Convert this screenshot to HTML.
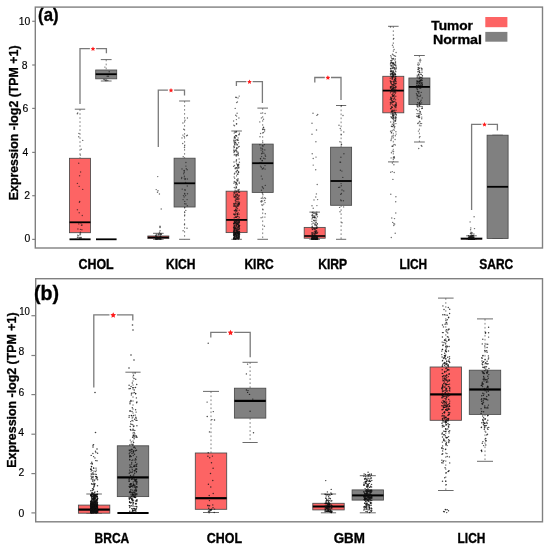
<!DOCTYPE html>
<html><head><meta charset="utf-8"><style>
html,body{margin:0;padding:0;background:#fff;width:549px;height:550px;overflow:hidden}
svg{display:block;will-change:transform}
text{font-family:"Liberation Sans",sans-serif}
</style></head><body>
<svg width="549" height="550" viewBox="0 0 549 550">
<rect width="549" height="550" fill="#fff"/>
<rect x="35.3" y="7.1" width="507.2" height="240.9" fill="none" stroke="#808080" stroke-width="1.4"/>
<line x1="32.2" y1="239.4" x2="35.3" y2="239.4" stroke="#808080" stroke-width="1.2"/>
<line x1="32.2" y1="195.7" x2="35.3" y2="195.7" stroke="#808080" stroke-width="1.2"/>
<line x1="32.2" y1="152.4" x2="35.3" y2="152.4" stroke="#808080" stroke-width="1.2"/>
<line x1="32.2" y1="108.4" x2="35.3" y2="108.4" stroke="#808080" stroke-width="1.2"/>
<line x1="32.2" y1="65.0" x2="35.3" y2="65.0" stroke="#808080" stroke-width="1.2"/>
<line x1="32.2" y1="21.3" x2="35.3" y2="21.3" stroke="#808080" stroke-width="1.2"/>
<text x="30.3" y="242.3" font-size="10.4" text-anchor="end" fill="#000" stroke="#000" stroke-width="0.15">0</text>
<text x="30.0" y="198.5" font-size="10.4" text-anchor="end" fill="#000" stroke="#000" stroke-width="0.15">2</text>
<text x="28.2" y="155.6" font-size="10.4" text-anchor="end" fill="#000" stroke="#000" stroke-width="0.15">4</text>
<text x="28.2" y="111.5" font-size="10.4" text-anchor="end" fill="#000" stroke="#000" stroke-width="0.15">6</text>
<text x="27.5" y="68.5" font-size="10.4" text-anchor="end" fill="#000" stroke="#000" stroke-width="0.15">8</text>
<text x="30.3" y="24.6" font-size="10.4" text-anchor="end" fill="#000" stroke="#000" stroke-width="0.15">10</text>
<text transform="translate(18.3,200.2) rotate(-90)" font-size="13.5" font-weight="bold" textLength="154.7" lengthAdjust="spacingAndGlyphs" stroke="#000" stroke-width="0.3">Expression -log2 (TPM +1)</text>
<text x="38.1" y="20.9" font-size="18.2" font-weight="bold" textLength="20.5" lengthAdjust="spacingAndGlyphs" stroke="#000" stroke-width="0.35" >(a)</text>
<polyline points="80,104 80,48.6 89.9,48.6" fill="none" stroke="#7a7a7a" stroke-width="1.3"/>
<polyline points="96.1,48.6 106.4,48.6 106.4,53.3" fill="none" stroke="#7a7a7a" stroke-width="1.3"/>
<polygon points="93.00,46.40 93.70,47.94 95.38,48.13 94.13,49.27 94.47,50.92 93.00,50.09 91.53,50.92 91.87,49.27 90.62,48.13 92.30,47.94" fill="#ff1a1a"/>
<polyline points="158.3,147 158.3,90.1 167.9,90.1" fill="none" stroke="#7a7a7a" stroke-width="1.3"/>
<polyline points="174.1,90.1 184.5,90.1 184.5,95.5" fill="none" stroke="#7a7a7a" stroke-width="1.3"/>
<polygon points="171.00,87.90 171.70,89.44 173.38,89.63 172.13,90.77 172.47,92.42 171.00,91.59 169.53,92.42 169.87,90.77 168.62,89.63 170.30,89.44" fill="#ff1a1a"/>
<polyline points="236.4,86 236.4,81.6 246.4,81.6" fill="none" stroke="#7a7a7a" stroke-width="1.3"/>
<polyline points="252.6,81.6 262.4,81.6 262.4,103" fill="none" stroke="#7a7a7a" stroke-width="1.3"/>
<polygon points="249.50,79.40 250.20,80.94 251.88,81.13 250.63,82.27 250.97,83.92 249.50,83.09 248.03,83.92 248.37,82.27 247.12,81.13 248.80,80.94" fill="#ff1a1a"/>
<polyline points="314.8,82.6 314.8,77.5 324.79999999999995,77.5" fill="none" stroke="#7a7a7a" stroke-width="1.3"/>
<polyline points="331.0,77.5 341,77.5 341,100" fill="none" stroke="#7a7a7a" stroke-width="1.3"/>
<polygon points="327.90,75.30 328.60,76.84 330.28,77.03 329.03,78.17 329.37,79.82 327.90,78.99 326.43,79.82 326.77,78.17 325.52,77.03 327.20,76.84" fill="#ff1a1a"/>
<polyline points="471.6,210 471.6,124.3 481.4,124.3" fill="none" stroke="#7a7a7a" stroke-width="1.3"/>
<polyline points="487.6,124.3 497.4,124.3 497.4,130.4" fill="none" stroke="#7a7a7a" stroke-width="1.3"/>
<polygon points="484.50,122.10 485.20,123.64 486.88,123.83 485.63,124.97 485.97,126.62 484.50,125.79 483.03,126.62 483.37,124.97 482.12,123.83 483.80,123.64" fill="#ff1a1a"/>
<line x1="80" y1="109.2" x2="80" y2="158.3" stroke="#777" stroke-width="0.9" stroke-dasharray="1.7,2.3"/>
<line x1="80" y1="232.7" x2="80" y2="239.3" stroke="#777" stroke-width="0.9" stroke-dasharray="1.7,2.3"/>
<line x1="74.8" y1="109.2" x2="85.2" y2="109.2" stroke="#505050" stroke-width="0.85"/>
<line x1="74.8" y1="239.3" x2="85.2" y2="239.3" stroke="#505050" stroke-width="0.85"/>
<rect x="69.5" y="158.3" width="21.0" height="74.39999999999998" fill="#fd6464" stroke="#4a4a4a" stroke-width="0.85"/>
<line x1="69.5" y1="222.3" x2="90.5" y2="222.3" stroke="#000" stroke-width="1.8"/>
<line x1="69.5" y1="239.3" x2="90.6" y2="239.3" stroke="#000" stroke-width="1.8"/>
<line x1="106.2" y1="59.6" x2="106.2" y2="70" stroke="#777" stroke-width="0.9" stroke-dasharray="1.7,2.3"/>
<line x1="106.2" y1="78.8" x2="106.2" y2="81" stroke="#777" stroke-width="0.9" stroke-dasharray="1.7,2.3"/>
<line x1="100.8" y1="59.6" x2="111.60000000000001" y2="59.6" stroke="#505050" stroke-width="0.85"/>
<line x1="100.8" y1="81" x2="111.60000000000001" y2="81" stroke="#505050" stroke-width="0.85"/>
<rect x="95.7" y="70" width="21.0" height="8.799999999999997" fill="#808080" stroke="#4a4a4a" stroke-width="0.85"/>
<line x1="95.7" y1="74.2" x2="116.7" y2="74.2" stroke="#000" stroke-width="1.8"/>
<line x1="96" y1="239.3" x2="116.6" y2="239.3" stroke="#000" stroke-width="1.8"/>
<line x1="158.35" y1="233.3" x2="158.35" y2="236.0" stroke="#777" stroke-width="0.9" stroke-dasharray="1.7,2.3"/>
<line x1="158.35" y1="238.6" x2="158.35" y2="239.3" stroke="#777" stroke-width="0.9" stroke-dasharray="1.7,2.3"/>
<line x1="153.04999999999998" y1="233.3" x2="163.65" y2="233.3" stroke="#505050" stroke-width="0.85"/>
<line x1="153.04999999999998" y1="239.3" x2="163.65" y2="239.3" stroke="#505050" stroke-width="0.85"/>
<rect x="147.85" y="236.0" width="21.0" height="2.5999999999999943" fill="#fd6464" stroke="#4a4a4a" stroke-width="0.85"/>
<line x1="147.85" y1="237.4" x2="168.85" y2="237.4" stroke="#000" stroke-width="1.6"/>
<line x1="184.6" y1="101" x2="184.6" y2="158.2" stroke="#777" stroke-width="0.9" stroke-dasharray="1.7,2.3"/>
<line x1="184.6" y1="207" x2="184.6" y2="239.3" stroke="#777" stroke-width="0.9" stroke-dasharray="1.7,2.3"/>
<line x1="179.1" y1="101" x2="190.1" y2="101" stroke="#505050" stroke-width="0.85"/>
<line x1="179.1" y1="239.3" x2="190.1" y2="239.3" stroke="#505050" stroke-width="0.85"/>
<rect x="174.1" y="158.2" width="21.0" height="48.80000000000001" fill="#808080" stroke="#4a4a4a" stroke-width="0.85"/>
<line x1="174.1" y1="183.3" x2="195.1" y2="183.3" stroke="#000" stroke-width="1.8"/>
<line x1="236.6" y1="131" x2="236.6" y2="191.2" stroke="#777" stroke-width="0.9" stroke-dasharray="1.7,2.3"/>
<line x1="236.6" y1="232.6" x2="236.6" y2="239.3" stroke="#777" stroke-width="0.9" stroke-dasharray="1.7,2.3"/>
<line x1="231.29999999999998" y1="131" x2="241.9" y2="131" stroke="#505050" stroke-width="0.85"/>
<line x1="231.29999999999998" y1="239.3" x2="241.9" y2="239.3" stroke="#505050" stroke-width="0.85"/>
<rect x="226.1" y="191.2" width="21.0" height="41.400000000000006" fill="#fd6464" stroke="#4a4a4a" stroke-width="0.85"/>
<line x1="226.1" y1="219.9" x2="247.1" y2="219.9" stroke="#000" stroke-width="1.8"/>
<line x1="262.7" y1="108.1" x2="262.7" y2="144.1" stroke="#777" stroke-width="0.9" stroke-dasharray="1.7,2.3"/>
<line x1="262.7" y1="192.4" x2="262.7" y2="239.3" stroke="#777" stroke-width="0.9" stroke-dasharray="1.7,2.3"/>
<line x1="257.4" y1="108.1" x2="268.0" y2="108.1" stroke="#505050" stroke-width="0.85"/>
<line x1="257.4" y1="239.3" x2="268.0" y2="239.3" stroke="#505050" stroke-width="0.85"/>
<rect x="252.2" y="144.1" width="21.0" height="48.30000000000001" fill="#808080" stroke="#4a4a4a" stroke-width="0.85"/>
<line x1="252.2" y1="163.2" x2="273.2" y2="163.2" stroke="#000" stroke-width="1.8"/>
<line x1="314.7" y1="212.1" x2="314.7" y2="227.4" stroke="#777" stroke-width="0.9" stroke-dasharray="1.7,2.3"/>
<line x1="314.7" y1="238.2" x2="314.7" y2="239.3" stroke="#777" stroke-width="0.9" stroke-dasharray="1.7,2.3"/>
<line x1="309.4" y1="212.1" x2="320.0" y2="212.1" stroke="#505050" stroke-width="0.85"/>
<line x1="309.4" y1="239.3" x2="320.0" y2="239.3" stroke="#505050" stroke-width="0.85"/>
<rect x="304.2" y="227.4" width="21.0" height="10.799999999999983" fill="#fd6464" stroke="#4a4a4a" stroke-width="0.85"/>
<line x1="304.2" y1="236.0" x2="325.2" y2="236.0" stroke="#000" stroke-width="1.6"/>
<line x1="341.1" y1="105.5" x2="341.1" y2="147.2" stroke="#777" stroke-width="0.9" stroke-dasharray="1.7,2.3"/>
<line x1="341.1" y1="205.3" x2="341.1" y2="239.3" stroke="#777" stroke-width="0.9" stroke-dasharray="1.7,2.3"/>
<line x1="336.0" y1="105.5" x2="346.20000000000005" y2="105.5" stroke="#505050" stroke-width="0.85"/>
<line x1="336.0" y1="239.3" x2="346.20000000000005" y2="239.3" stroke="#505050" stroke-width="0.85"/>
<rect x="330.6" y="147.2" width="21.0" height="58.10000000000002" fill="#808080" stroke="#4a4a4a" stroke-width="0.85"/>
<line x1="330.6" y1="181.0" x2="351.6" y2="181.0" stroke="#000" stroke-width="1.8"/>
<line x1="393.3" y1="26.3" x2="393.3" y2="76.3" stroke="#777" stroke-width="0.9" stroke-dasharray="1.7,2.3"/>
<line x1="393.3" y1="112.8" x2="393.3" y2="161.9" stroke="#777" stroke-width="0.9" stroke-dasharray="1.7,2.3"/>
<line x1="388.0" y1="26.3" x2="398.6" y2="26.3" stroke="#505050" stroke-width="0.85"/>
<line x1="388.0" y1="161.9" x2="398.6" y2="161.9" stroke="#505050" stroke-width="0.85"/>
<rect x="382.8" y="76.3" width="21.0" height="36.5" fill="#fd6464" stroke="#4a4a4a" stroke-width="0.85"/>
<line x1="382.8" y1="90.6" x2="403.8" y2="90.6" stroke="#000" stroke-width="1.8"/>
<line x1="419.4" y1="55.5" x2="419.4" y2="78.0" stroke="#777" stroke-width="0.9" stroke-dasharray="1.7,2.3"/>
<line x1="419.4" y1="104.6" x2="419.4" y2="142.0" stroke="#777" stroke-width="0.9" stroke-dasharray="1.7,2.3"/>
<line x1="414.0" y1="55.5" x2="424.79999999999995" y2="55.5" stroke="#505050" stroke-width="0.85"/>
<line x1="414.0" y1="142.0" x2="424.79999999999995" y2="142.0" stroke="#505050" stroke-width="0.85"/>
<rect x="408.9" y="78.0" width="21.0" height="26.599999999999994" fill="#808080" stroke="#4a4a4a" stroke-width="0.85"/>
<line x1="408.9" y1="86.9" x2="429.9" y2="86.9" stroke="#000" stroke-width="1.8"/>
<line x1="471.5" y1="235.8" x2="471.5" y2="238.0" stroke="#777" stroke-width="0.9" stroke-dasharray="1.7,2.3"/>
<line x1="471.5" y1="239.2" x2="471.5" y2="239.3" stroke="#777" stroke-width="0.9" stroke-dasharray="1.7,2.3"/>
<line x1="466.2" y1="235.8" x2="476.8" y2="235.8" stroke="#505050" stroke-width="0.85"/>
<line x1="466.2" y1="239.3" x2="476.8" y2="239.3" stroke="#505050" stroke-width="0.85"/>
<rect x="461.0" y="238.0" width="21.0" height="1.1999999999999886" fill="#fd6464" stroke="#4a4a4a" stroke-width="0.85"/>
<line x1="461.0" y1="238.7" x2="482.0" y2="238.7" stroke="#000" stroke-width="1.5"/>
<line x1="497.6" y1="135.2" x2="497.6" y2="135.2" stroke="#777" stroke-width="0.9" stroke-dasharray="1.7,2.3"/>
<line x1="497.6" y1="238.5" x2="497.6" y2="238.5" stroke="#777" stroke-width="0.9" stroke-dasharray="1.7,2.3"/>
<line x1="492.3" y1="135.2" x2="502.90000000000003" y2="135.2" stroke="#505050" stroke-width="0.85"/>
<line x1="492.3" y1="238.5" x2="502.90000000000003" y2="238.5" stroke="#505050" stroke-width="0.85"/>
<rect x="487.1" y="135.2" width="21.0" height="103.30000000000001" fill="#808080" stroke="#4a4a4a" stroke-width="0.85"/>
<line x1="487.1" y1="186.8" x2="508.1" y2="186.8" stroke="#000" stroke-width="1.8"/>
<g fill="#111" fill-opacity="0.62">
<circle cx="77.9" cy="229.0" r="0.72"/>
<circle cx="77.4" cy="183.4" r="0.72"/>
<circle cx="79.2" cy="212.8" r="0.72"/>
<circle cx="80.0" cy="237.6" r="0.72"/>
<circle cx="79.6" cy="238.2" r="0.72"/>
<circle cx="77.5" cy="237.3" r="0.72"/>
<circle cx="82.0" cy="225.0" r="0.72"/>
<circle cx="78.3" cy="235.7" r="0.72"/>
<circle cx="82.7" cy="189.4" r="0.72"/>
<circle cx="79.4" cy="202.3" r="0.72"/>
<circle cx="77.3" cy="113.7" r="0.72"/>
<circle cx="78.7" cy="136.7" r="0.72"/>
<circle cx="77.7" cy="235.1" r="0.72"/>
<circle cx="81.9" cy="229.7" r="0.72"/>
<circle cx="80.5" cy="234.0" r="0.72"/>
<circle cx="79.2" cy="186.4" r="0.72"/>
<circle cx="77.4" cy="209.8" r="0.72"/>
<circle cx="78.2" cy="237.6" r="0.72"/>
<circle cx="79.6" cy="175.8" r="0.72"/>
<circle cx="80.5" cy="229.4" r="0.72"/>
<circle cx="78.8" cy="223.9" r="0.72"/>
<circle cx="81.2" cy="149.3" r="0.72"/>
<circle cx="80.4" cy="232.2" r="0.72"/>
<circle cx="82.3" cy="215.5" r="0.72"/>
<circle cx="78.7" cy="163.3" r="0.72"/>
<circle cx="77.7" cy="112.9" r="0.72"/>
<circle cx="81.5" cy="225.3" r="0.72"/>
<circle cx="79.9" cy="234.9" r="0.72"/>
<circle cx="81.0" cy="238.2" r="0.72"/>
<circle cx="80.4" cy="155.1" r="0.72"/>
<circle cx="78.9" cy="133.4" r="0.72"/>
<circle cx="80.6" cy="172.0" r="0.72"/>
<circle cx="79.7" cy="201.5" r="0.72"/>
<circle cx="82.7" cy="140.4" r="0.72"/>
<circle cx="81.0" cy="223.0" r="0.72"/>
<circle cx="81.2" cy="237.5" r="0.72"/>
<circle cx="109.2" cy="71.7" r="0.72"/>
<circle cx="104.9" cy="67.1" r="0.72"/>
<circle cx="107.2" cy="76.3" r="0.72"/>
<circle cx="106.0" cy="80.8" r="0.72"/>
<circle cx="103.9" cy="79.5" r="0.72"/>
<circle cx="107.8" cy="80.5" r="0.72"/>
<circle cx="104.7" cy="79.9" r="0.72"/>
<circle cx="108.4" cy="76.2" r="0.72"/>
<circle cx="105.9" cy="80.3" r="0.72"/>
<circle cx="160.6" cy="237.0" r="0.72"/>
<circle cx="160.5" cy="234.3" r="0.72"/>
<circle cx="157.8" cy="238.3" r="0.72"/>
<circle cx="160.6" cy="238.0" r="0.72"/>
<circle cx="156.2" cy="189.6" r="0.72"/>
<circle cx="156.7" cy="238.7" r="0.72"/>
<circle cx="158.2" cy="238.5" r="0.72"/>
<circle cx="156.9" cy="236.6" r="0.72"/>
<circle cx="157.8" cy="239.3" r="0.72"/>
<circle cx="158.7" cy="238.0" r="0.72"/>
<circle cx="159.4" cy="194.0" r="0.72"/>
<circle cx="159.0" cy="237.3" r="0.72"/>
<circle cx="155.6" cy="235.7" r="0.72"/>
<circle cx="160.0" cy="227.6" r="0.72"/>
<circle cx="160.1" cy="230.8" r="0.72"/>
<circle cx="157.7" cy="237.9" r="0.72"/>
<circle cx="159.1" cy="238.9" r="0.72"/>
<circle cx="155.7" cy="239.1" r="0.72"/>
<circle cx="156.3" cy="238.5" r="0.72"/>
<circle cx="155.6" cy="238.1" r="0.72"/>
<circle cx="156.2" cy="239.3" r="0.72"/>
<circle cx="157.5" cy="238.9" r="0.72"/>
<circle cx="160.5" cy="239.2" r="0.72"/>
<circle cx="156.2" cy="236.4" r="0.72"/>
<circle cx="157.4" cy="238.4" r="0.72"/>
<circle cx="156.0" cy="238.0" r="0.72"/>
<circle cx="161.3" cy="234.0" r="0.72"/>
<circle cx="158.2" cy="237.6" r="0.72"/>
<circle cx="155.9" cy="239.0" r="0.72"/>
<circle cx="156.9" cy="238.1" r="0.72"/>
<circle cx="156.3" cy="234.2" r="0.72"/>
<circle cx="161.0" cy="239.2" r="0.72"/>
<circle cx="156.2" cy="237.2" r="0.72"/>
<circle cx="155.5" cy="237.1" r="0.72"/>
<circle cx="161.2" cy="237.2" r="0.72"/>
<circle cx="159.5" cy="232.3" r="0.72"/>
<circle cx="157.5" cy="238.4" r="0.72"/>
<circle cx="159.9" cy="238.7" r="0.72"/>
<circle cx="160.0" cy="237.2" r="0.72"/>
<circle cx="156.6" cy="238.1" r="0.72"/>
<circle cx="161.2" cy="234.4" r="0.72"/>
<circle cx="160.1" cy="233.7" r="0.72"/>
<circle cx="159.7" cy="234.3" r="0.72"/>
<circle cx="158.4" cy="238.5" r="0.72"/>
<circle cx="155.5" cy="238.0" r="0.72"/>
<circle cx="157.0" cy="239.2" r="0.72"/>
<circle cx="159.5" cy="238.4" r="0.72"/>
<circle cx="158.0" cy="190.8" r="0.72"/>
<circle cx="161.2" cy="209.0" r="0.72"/>
<circle cx="157.5" cy="192.2" r="0.72"/>
<circle cx="156.7" cy="238.5" r="0.72"/>
<circle cx="156.5" cy="238.6" r="0.72"/>
<circle cx="160.7" cy="236.3" r="0.72"/>
<circle cx="158.2" cy="234.1" r="0.72"/>
<circle cx="160.1" cy="236.0" r="0.72"/>
<circle cx="159.3" cy="239.0" r="0.72"/>
<circle cx="160.0" cy="226.3" r="0.72"/>
<circle cx="158.2" cy="235.0" r="0.72"/>
<circle cx="160.0" cy="238.7" r="0.72"/>
<circle cx="160.1" cy="238.1" r="0.72"/>
<circle cx="157.7" cy="176.6" r="0.72"/>
<circle cx="161.0" cy="237.9" r="0.72"/>
<circle cx="156.3" cy="235.3" r="0.72"/>
<circle cx="156.2" cy="238.8" r="0.72"/>
<circle cx="160.1" cy="226.9" r="0.72"/>
<circle cx="160.3" cy="238.8" r="0.72"/>
<circle cx="183.7" cy="129.3" r="0.72"/>
<circle cx="184.9" cy="189.6" r="0.72"/>
<circle cx="187.4" cy="179.0" r="0.72"/>
<circle cx="185.5" cy="178.7" r="0.72"/>
<circle cx="184.2" cy="196.9" r="0.72"/>
<circle cx="182.9" cy="135.1" r="0.72"/>
<circle cx="183.1" cy="230.7" r="0.72"/>
<circle cx="185.1" cy="190.3" r="0.72"/>
<circle cx="183.2" cy="156.7" r="0.72"/>
<circle cx="187.1" cy="199.6" r="0.72"/>
<circle cx="183.7" cy="173.7" r="0.72"/>
<circle cx="187.0" cy="228.2" r="0.72"/>
<circle cx="184.1" cy="170.5" r="0.72"/>
<circle cx="184.8" cy="145.1" r="0.72"/>
<circle cx="184.7" cy="203.8" r="0.72"/>
<circle cx="182.7" cy="143.5" r="0.72"/>
<circle cx="181.6" cy="178.6" r="0.72"/>
<circle cx="184.4" cy="176.3" r="0.72"/>
<circle cx="186.0" cy="203.9" r="0.72"/>
<circle cx="184.7" cy="212.6" r="0.72"/>
<circle cx="184.9" cy="194.1" r="0.72"/>
<circle cx="185.0" cy="179.5" r="0.72"/>
<circle cx="183.1" cy="199.6" r="0.72"/>
<circle cx="184.6" cy="193.5" r="0.72"/>
<circle cx="185.0" cy="120.2" r="0.72"/>
<circle cx="184.3" cy="178.1" r="0.72"/>
<circle cx="184.7" cy="215.0" r="0.72"/>
<circle cx="185.8" cy="210.4" r="0.72"/>
<circle cx="184.5" cy="224.7" r="0.72"/>
<circle cx="187.2" cy="169.7" r="0.72"/>
<circle cx="187.3" cy="205.8" r="0.72"/>
<circle cx="187.3" cy="186.0" r="0.72"/>
<circle cx="186.6" cy="135.7" r="0.72"/>
<circle cx="184.3" cy="171.0" r="0.72"/>
<circle cx="182.0" cy="168.9" r="0.72"/>
<circle cx="185.6" cy="182.4" r="0.72"/>
<circle cx="186.3" cy="168.8" r="0.72"/>
<circle cx="185.9" cy="166.1" r="0.72"/>
<circle cx="185.6" cy="195.6" r="0.72"/>
<circle cx="187.4" cy="135.3" r="0.72"/>
<circle cx="182.9" cy="123.0" r="0.72"/>
<circle cx="184.5" cy="147.5" r="0.72"/>
<circle cx="187.5" cy="193.7" r="0.72"/>
<circle cx="184.2" cy="172.4" r="0.72"/>
<circle cx="184.7" cy="201.4" r="0.72"/>
<circle cx="183.5" cy="195.6" r="0.72"/>
<circle cx="185.9" cy="162.5" r="0.72"/>
<circle cx="184.2" cy="136.4" r="0.72"/>
<circle cx="181.7" cy="177.5" r="0.72"/>
<circle cx="184.7" cy="207.4" r="0.72"/>
<circle cx="182.0" cy="137.9" r="0.72"/>
<circle cx="187.4" cy="118.0" r="0.72"/>
<circle cx="182.2" cy="189.1" r="0.72"/>
<circle cx="233.8" cy="231.8" r="0.72"/>
<circle cx="235.2" cy="183.1" r="0.72"/>
<circle cx="236.1" cy="235.8" r="0.72"/>
<circle cx="238.5" cy="147.0" r="0.72"/>
<circle cx="234.5" cy="232.2" r="0.72"/>
<circle cx="237.0" cy="144.9" r="0.72"/>
<circle cx="234.1" cy="196.8" r="0.72"/>
<circle cx="237.7" cy="237.8" r="0.72"/>
<circle cx="234.0" cy="223.8" r="0.72"/>
<circle cx="237.4" cy="139.6" r="0.72"/>
<circle cx="234.1" cy="176.9" r="0.72"/>
<circle cx="234.0" cy="162.0" r="0.72"/>
<circle cx="236.3" cy="160.2" r="0.72"/>
<circle cx="236.9" cy="228.1" r="0.72"/>
<circle cx="235.2" cy="142.8" r="0.72"/>
<circle cx="236.8" cy="235.8" r="0.72"/>
<circle cx="234.3" cy="232.9" r="0.72"/>
<circle cx="233.9" cy="235.0" r="0.72"/>
<circle cx="235.5" cy="233.9" r="0.72"/>
<circle cx="238.2" cy="229.8" r="0.72"/>
<circle cx="236.6" cy="230.6" r="0.72"/>
<circle cx="235.7" cy="234.5" r="0.72"/>
<circle cx="235.1" cy="238.8" r="0.72"/>
<circle cx="238.0" cy="238.9" r="0.72"/>
<circle cx="234.7" cy="214.1" r="0.72"/>
<circle cx="239.2" cy="221.3" r="0.72"/>
<circle cx="238.5" cy="236.5" r="0.72"/>
<circle cx="236.6" cy="223.4" r="0.72"/>
<circle cx="236.0" cy="167.9" r="0.72"/>
<circle cx="237.7" cy="219.2" r="0.72"/>
<circle cx="235.7" cy="115.2" r="0.72"/>
<circle cx="237.8" cy="168.6" r="0.72"/>
<circle cx="236.0" cy="204.2" r="0.72"/>
<circle cx="233.9" cy="227.7" r="0.72"/>
<circle cx="234.0" cy="235.8" r="0.72"/>
<circle cx="235.1" cy="192.1" r="0.72"/>
<circle cx="234.1" cy="234.9" r="0.72"/>
<circle cx="238.8" cy="166.1" r="0.72"/>
<circle cx="235.3" cy="200.2" r="0.72"/>
<circle cx="235.4" cy="232.8" r="0.72"/>
<circle cx="234.5" cy="222.0" r="0.72"/>
<circle cx="235.2" cy="222.7" r="0.72"/>
<circle cx="239.4" cy="133.2" r="0.72"/>
<circle cx="235.1" cy="214.5" r="0.72"/>
<circle cx="235.5" cy="132.2" r="0.72"/>
<circle cx="233.6" cy="227.2" r="0.72"/>
<circle cx="236.4" cy="226.0" r="0.72"/>
<circle cx="234.8" cy="219.7" r="0.72"/>
<circle cx="233.6" cy="219.5" r="0.72"/>
<circle cx="234.1" cy="231.9" r="0.72"/>
<circle cx="233.9" cy="225.1" r="0.72"/>
<circle cx="235.4" cy="238.7" r="0.72"/>
<circle cx="237.1" cy="233.1" r="0.72"/>
<circle cx="238.1" cy="216.6" r="0.72"/>
<circle cx="237.9" cy="201.7" r="0.72"/>
<circle cx="235.9" cy="155.8" r="0.72"/>
<circle cx="239.5" cy="228.8" r="0.72"/>
<circle cx="237.9" cy="235.3" r="0.72"/>
<circle cx="233.9" cy="203.4" r="0.72"/>
<circle cx="239.0" cy="167.7" r="0.72"/>
<circle cx="238.0" cy="205.2" r="0.72"/>
<circle cx="234.4" cy="174.0" r="0.72"/>
<circle cx="236.6" cy="217.2" r="0.72"/>
<circle cx="238.4" cy="167.8" r="0.72"/>
<circle cx="237.1" cy="170.2" r="0.72"/>
<circle cx="237.7" cy="152.0" r="0.72"/>
<circle cx="235.0" cy="197.6" r="0.72"/>
<circle cx="234.4" cy="238.5" r="0.72"/>
<circle cx="234.2" cy="227.0" r="0.72"/>
<circle cx="237.0" cy="167.6" r="0.72"/>
<circle cx="237.4" cy="205.2" r="0.72"/>
<circle cx="236.5" cy="199.0" r="0.72"/>
<circle cx="238.4" cy="239.2" r="0.72"/>
<circle cx="236.6" cy="191.2" r="0.72"/>
<circle cx="237.6" cy="215.9" r="0.72"/>
<circle cx="238.0" cy="237.5" r="0.72"/>
<circle cx="234.0" cy="232.5" r="0.72"/>
<circle cx="238.0" cy="231.8" r="0.72"/>
<circle cx="238.0" cy="233.8" r="0.72"/>
<circle cx="236.6" cy="123.7" r="0.72"/>
<circle cx="236.5" cy="225.9" r="0.72"/>
<circle cx="238.2" cy="198.7" r="0.72"/>
<circle cx="237.5" cy="206.4" r="0.72"/>
<circle cx="234.5" cy="237.2" r="0.72"/>
<circle cx="238.1" cy="232.4" r="0.72"/>
<circle cx="237.0" cy="229.9" r="0.72"/>
<circle cx="234.0" cy="239.0" r="0.72"/>
<circle cx="237.6" cy="231.7" r="0.72"/>
<circle cx="237.7" cy="197.7" r="0.72"/>
<circle cx="236.7" cy="230.5" r="0.72"/>
<circle cx="236.4" cy="221.8" r="0.72"/>
<circle cx="239.0" cy="236.1" r="0.72"/>
<circle cx="239.5" cy="234.0" r="0.72"/>
<circle cx="233.7" cy="140.2" r="0.72"/>
<circle cx="238.5" cy="222.1" r="0.72"/>
<circle cx="236.3" cy="131.5" r="0.72"/>
<circle cx="234.9" cy="231.7" r="0.72"/>
<circle cx="234.9" cy="137.7" r="0.72"/>
<circle cx="234.5" cy="210.5" r="0.72"/>
<circle cx="239.3" cy="217.2" r="0.72"/>
<circle cx="238.5" cy="235.7" r="0.72"/>
<circle cx="238.9" cy="219.0" r="0.72"/>
<circle cx="235.0" cy="196.4" r="0.72"/>
<circle cx="236.5" cy="150.7" r="0.72"/>
<circle cx="233.6" cy="238.6" r="0.72"/>
<circle cx="236.3" cy="220.4" r="0.72"/>
<circle cx="234.4" cy="230.0" r="0.72"/>
<circle cx="235.5" cy="227.9" r="0.72"/>
<circle cx="233.6" cy="166.4" r="0.72"/>
<circle cx="238.6" cy="190.8" r="0.72"/>
<circle cx="239.2" cy="236.1" r="0.72"/>
<circle cx="239.0" cy="195.3" r="0.72"/>
<circle cx="235.8" cy="230.6" r="0.72"/>
<circle cx="239.6" cy="225.4" r="0.72"/>
<circle cx="235.8" cy="209.7" r="0.72"/>
<circle cx="235.3" cy="223.6" r="0.72"/>
<circle cx="234.2" cy="238.0" r="0.72"/>
<circle cx="235.3" cy="167.9" r="0.72"/>
<circle cx="235.1" cy="140.4" r="0.72"/>
<circle cx="236.7" cy="231.8" r="0.72"/>
<circle cx="235.8" cy="234.2" r="0.72"/>
<circle cx="238.9" cy="134.8" r="0.72"/>
<circle cx="237.4" cy="174.1" r="0.72"/>
<circle cx="239.2" cy="146.4" r="0.72"/>
<circle cx="237.9" cy="214.3" r="0.72"/>
<circle cx="238.0" cy="238.0" r="0.72"/>
<circle cx="238.1" cy="222.5" r="0.72"/>
<circle cx="235.3" cy="203.2" r="0.72"/>
<circle cx="239.2" cy="238.0" r="0.72"/>
<circle cx="236.4" cy="235.9" r="0.72"/>
<circle cx="235.4" cy="227.9" r="0.72"/>
<circle cx="239.5" cy="192.3" r="0.72"/>
<circle cx="237.5" cy="232.1" r="0.72"/>
<circle cx="236.9" cy="230.0" r="0.72"/>
<circle cx="234.6" cy="225.3" r="0.72"/>
<circle cx="234.8" cy="235.0" r="0.72"/>
<circle cx="236.6" cy="148.5" r="0.72"/>
<circle cx="239.0" cy="233.4" r="0.72"/>
<circle cx="236.3" cy="97.5" r="0.72"/>
<circle cx="234.8" cy="235.6" r="0.72"/>
<circle cx="235.7" cy="236.9" r="0.72"/>
<circle cx="235.0" cy="236.9" r="0.72"/>
<circle cx="237.0" cy="232.2" r="0.72"/>
<circle cx="238.1" cy="153.6" r="0.72"/>
<circle cx="236.1" cy="224.4" r="0.72"/>
<circle cx="235.9" cy="217.2" r="0.72"/>
<circle cx="234.0" cy="228.2" r="0.72"/>
<circle cx="239.4" cy="231.2" r="0.72"/>
<circle cx="236.6" cy="235.9" r="0.72"/>
<circle cx="238.8" cy="205.0" r="0.72"/>
<circle cx="235.2" cy="233.5" r="0.72"/>
<circle cx="236.0" cy="232.6" r="0.72"/>
<circle cx="239.3" cy="222.7" r="0.72"/>
<circle cx="238.8" cy="164.1" r="0.72"/>
<circle cx="233.8" cy="238.7" r="0.72"/>
<circle cx="239.0" cy="195.7" r="0.72"/>
<circle cx="237.1" cy="221.3" r="0.72"/>
<circle cx="235.9" cy="239.3" r="0.72"/>
<circle cx="238.6" cy="142.8" r="0.72"/>
<circle cx="239.4" cy="162.2" r="0.72"/>
<circle cx="234.3" cy="232.6" r="0.72"/>
<circle cx="236.7" cy="235.2" r="0.72"/>
<circle cx="239.2" cy="198.9" r="0.72"/>
<circle cx="237.5" cy="194.3" r="0.72"/>
<circle cx="236.3" cy="187.0" r="0.72"/>
<circle cx="233.8" cy="214.0" r="0.72"/>
<circle cx="235.0" cy="182.2" r="0.72"/>
<circle cx="237.5" cy="144.7" r="0.72"/>
<circle cx="234.4" cy="229.9" r="0.72"/>
<circle cx="237.4" cy="232.5" r="0.72"/>
<circle cx="234.3" cy="197.0" r="0.72"/>
<circle cx="236.7" cy="237.4" r="0.72"/>
<circle cx="235.9" cy="210.4" r="0.72"/>
<circle cx="237.2" cy="233.3" r="0.72"/>
<circle cx="235.4" cy="239.0" r="0.72"/>
<circle cx="239.4" cy="222.0" r="0.72"/>
<circle cx="238.9" cy="203.2" r="0.72"/>
<circle cx="235.0" cy="221.2" r="0.72"/>
<circle cx="239.4" cy="232.7" r="0.72"/>
<circle cx="235.4" cy="196.3" r="0.72"/>
<circle cx="236.6" cy="238.7" r="0.72"/>
<circle cx="236.1" cy="199.8" r="0.72"/>
<circle cx="237.6" cy="232.2" r="0.72"/>
<circle cx="235.0" cy="143.2" r="0.72"/>
<circle cx="235.6" cy="238.4" r="0.72"/>
<circle cx="237.7" cy="224.0" r="0.72"/>
<circle cx="238.4" cy="234.0" r="0.72"/>
<circle cx="236.6" cy="192.3" r="0.72"/>
<circle cx="239.4" cy="233.8" r="0.72"/>
<circle cx="238.5" cy="229.5" r="0.72"/>
<circle cx="234.9" cy="233.1" r="0.72"/>
<circle cx="235.4" cy="188.1" r="0.72"/>
<circle cx="236.6" cy="135.9" r="0.72"/>
<circle cx="234.9" cy="234.3" r="0.72"/>
<circle cx="237.6" cy="224.2" r="0.72"/>
<circle cx="234.5" cy="136.8" r="0.72"/>
<circle cx="234.9" cy="225.4" r="0.72"/>
<circle cx="234.5" cy="125.8" r="0.72"/>
<circle cx="234.0" cy="237.9" r="0.72"/>
<circle cx="239.0" cy="225.4" r="0.72"/>
<circle cx="238.0" cy="154.6" r="0.72"/>
<circle cx="239.2" cy="96.1" r="0.72"/>
<circle cx="234.7" cy="228.6" r="0.72"/>
<circle cx="238.1" cy="140.3" r="0.72"/>
<circle cx="237.6" cy="238.4" r="0.72"/>
<circle cx="235.8" cy="226.1" r="0.72"/>
<circle cx="234.6" cy="228.5" r="0.72"/>
<circle cx="235.3" cy="239.2" r="0.72"/>
<circle cx="239.3" cy="227.5" r="0.72"/>
<circle cx="239.4" cy="236.0" r="0.72"/>
<circle cx="235.7" cy="233.7" r="0.72"/>
<circle cx="238.5" cy="171.5" r="0.72"/>
<circle cx="233.9" cy="223.4" r="0.72"/>
<circle cx="235.8" cy="221.3" r="0.72"/>
<circle cx="234.8" cy="144.8" r="0.72"/>
<circle cx="239.0" cy="226.8" r="0.72"/>
<circle cx="236.1" cy="238.5" r="0.72"/>
<circle cx="238.2" cy="174.1" r="0.72"/>
<circle cx="233.8" cy="238.2" r="0.72"/>
<circle cx="239.1" cy="237.6" r="0.72"/>
<circle cx="238.1" cy="232.2" r="0.72"/>
<circle cx="235.6" cy="150.5" r="0.72"/>
<circle cx="239.3" cy="231.5" r="0.72"/>
<circle cx="235.2" cy="206.4" r="0.72"/>
<circle cx="235.5" cy="194.9" r="0.72"/>
<circle cx="233.6" cy="231.3" r="0.72"/>
<circle cx="239.1" cy="189.5" r="0.72"/>
<circle cx="239.3" cy="204.5" r="0.72"/>
<circle cx="235.0" cy="238.6" r="0.72"/>
<circle cx="239.3" cy="221.3" r="0.72"/>
<circle cx="235.9" cy="135.4" r="0.72"/>
<circle cx="236.2" cy="232.5" r="0.72"/>
<circle cx="239.2" cy="220.3" r="0.72"/>
<circle cx="238.4" cy="234.4" r="0.72"/>
<circle cx="238.5" cy="192.3" r="0.72"/>
<circle cx="237.2" cy="184.8" r="0.72"/>
<circle cx="235.5" cy="228.7" r="0.72"/>
<circle cx="238.3" cy="227.0" r="0.72"/>
<circle cx="234.8" cy="237.2" r="0.72"/>
<circle cx="235.1" cy="190.2" r="0.72"/>
<circle cx="233.8" cy="237.6" r="0.72"/>
<circle cx="235.6" cy="213.9" r="0.72"/>
<circle cx="238.9" cy="118.0" r="0.72"/>
<circle cx="235.2" cy="108.4" r="0.72"/>
<circle cx="234.2" cy="237.0" r="0.72"/>
<circle cx="237.9" cy="220.1" r="0.72"/>
<circle cx="235.0" cy="222.7" r="0.72"/>
<circle cx="237.3" cy="224.2" r="0.72"/>
<circle cx="238.1" cy="199.8" r="0.72"/>
<circle cx="237.6" cy="164.5" r="0.72"/>
<circle cx="238.6" cy="236.1" r="0.72"/>
<circle cx="237.0" cy="230.4" r="0.72"/>
<circle cx="238.0" cy="226.4" r="0.72"/>
<circle cx="235.1" cy="234.0" r="0.72"/>
<circle cx="234.5" cy="232.7" r="0.72"/>
<circle cx="237.1" cy="154.4" r="0.72"/>
<circle cx="236.0" cy="228.8" r="0.72"/>
<circle cx="236.6" cy="102.6" r="0.72"/>
<circle cx="238.5" cy="233.1" r="0.72"/>
<circle cx="239.5" cy="202.2" r="0.72"/>
<circle cx="236.4" cy="236.6" r="0.72"/>
<circle cx="238.6" cy="172.2" r="0.72"/>
<circle cx="233.8" cy="146.2" r="0.72"/>
<circle cx="234.3" cy="230.4" r="0.72"/>
<circle cx="239.4" cy="234.2" r="0.72"/>
<circle cx="239.2" cy="210.3" r="0.72"/>
<circle cx="238.8" cy="226.4" r="0.72"/>
<circle cx="235.2" cy="222.6" r="0.72"/>
<circle cx="239.3" cy="183.4" r="0.72"/>
<circle cx="237.2" cy="236.5" r="0.72"/>
<circle cx="234.9" cy="206.1" r="0.72"/>
<circle cx="234.4" cy="226.6" r="0.72"/>
<circle cx="235.1" cy="233.8" r="0.72"/>
<circle cx="237.5" cy="208.5" r="0.72"/>
<circle cx="233.7" cy="233.8" r="0.72"/>
<circle cx="237.7" cy="228.7" r="0.72"/>
<circle cx="235.5" cy="234.3" r="0.72"/>
<circle cx="238.4" cy="233.8" r="0.72"/>
<circle cx="234.0" cy="214.4" r="0.72"/>
<circle cx="236.0" cy="236.6" r="0.72"/>
<circle cx="237.4" cy="214.2" r="0.72"/>
<circle cx="234.6" cy="236.9" r="0.72"/>
<circle cx="236.1" cy="197.3" r="0.72"/>
<circle cx="235.4" cy="230.9" r="0.72"/>
<circle cx="235.5" cy="135.6" r="0.72"/>
<circle cx="235.7" cy="212.3" r="0.72"/>
<circle cx="238.8" cy="224.2" r="0.72"/>
<circle cx="235.8" cy="97.3" r="0.72"/>
<circle cx="238.0" cy="234.0" r="0.72"/>
<circle cx="233.6" cy="233.8" r="0.72"/>
<circle cx="236.1" cy="149.6" r="0.72"/>
<circle cx="236.0" cy="171.8" r="0.72"/>
<circle cx="236.4" cy="154.8" r="0.72"/>
<circle cx="233.7" cy="234.9" r="0.72"/>
<circle cx="237.4" cy="214.0" r="0.72"/>
<circle cx="234.1" cy="147.4" r="0.72"/>
<circle cx="235.8" cy="205.8" r="0.72"/>
<circle cx="234.5" cy="219.5" r="0.72"/>
<circle cx="236.7" cy="230.9" r="0.72"/>
<circle cx="234.3" cy="143.1" r="0.72"/>
<circle cx="238.4" cy="220.5" r="0.72"/>
<circle cx="234.8" cy="131.9" r="0.72"/>
<circle cx="239.3" cy="235.9" r="0.72"/>
<circle cx="236.5" cy="124.0" r="0.72"/>
<circle cx="239.2" cy="237.9" r="0.72"/>
<circle cx="239.0" cy="225.7" r="0.72"/>
<circle cx="238.5" cy="206.0" r="0.72"/>
<circle cx="238.3" cy="235.0" r="0.72"/>
<circle cx="236.0" cy="233.3" r="0.72"/>
<circle cx="238.6" cy="164.7" r="0.72"/>
<circle cx="234.9" cy="234.4" r="0.72"/>
<circle cx="236.7" cy="225.1" r="0.72"/>
<circle cx="234.3" cy="225.9" r="0.72"/>
<circle cx="237.9" cy="232.7" r="0.72"/>
<circle cx="233.8" cy="150.8" r="0.72"/>
<circle cx="238.1" cy="212.8" r="0.72"/>
<circle cx="238.6" cy="238.3" r="0.72"/>
<circle cx="237.2" cy="236.1" r="0.72"/>
<circle cx="237.4" cy="214.2" r="0.72"/>
<circle cx="236.1" cy="229.8" r="0.72"/>
<circle cx="236.2" cy="210.4" r="0.72"/>
<circle cx="236.3" cy="201.6" r="0.72"/>
<circle cx="233.7" cy="223.1" r="0.72"/>
<circle cx="236.5" cy="206.2" r="0.72"/>
<circle cx="238.2" cy="233.0" r="0.72"/>
<circle cx="236.3" cy="182.8" r="0.72"/>
<circle cx="236.4" cy="234.5" r="0.72"/>
<circle cx="234.4" cy="236.4" r="0.72"/>
<circle cx="234.2" cy="223.5" r="0.72"/>
<circle cx="236.7" cy="222.9" r="0.72"/>
<circle cx="237.4" cy="238.2" r="0.72"/>
<circle cx="238.0" cy="237.1" r="0.72"/>
<circle cx="236.7" cy="183.5" r="0.72"/>
<circle cx="236.6" cy="237.8" r="0.72"/>
<circle cx="239.3" cy="226.2" r="0.72"/>
<circle cx="238.7" cy="235.7" r="0.72"/>
<circle cx="238.0" cy="97.9" r="0.72"/>
<circle cx="234.8" cy="173.3" r="0.72"/>
<circle cx="236.6" cy="116.1" r="0.72"/>
<circle cx="239.1" cy="134.6" r="0.72"/>
<circle cx="238.3" cy="234.9" r="0.72"/>
<circle cx="234.0" cy="141.7" r="0.72"/>
<circle cx="238.1" cy="227.5" r="0.72"/>
<circle cx="239.0" cy="235.0" r="0.72"/>
<circle cx="238.5" cy="231.3" r="0.72"/>
<circle cx="236.6" cy="235.5" r="0.72"/>
<circle cx="234.8" cy="144.7" r="0.72"/>
<circle cx="236.6" cy="232.0" r="0.72"/>
<circle cx="233.8" cy="229.1" r="0.72"/>
<circle cx="234.6" cy="234.4" r="0.72"/>
<circle cx="237.7" cy="140.2" r="0.72"/>
<circle cx="234.6" cy="151.3" r="0.72"/>
<circle cx="234.3" cy="181.5" r="0.72"/>
<circle cx="237.4" cy="216.4" r="0.72"/>
<circle cx="238.8" cy="227.1" r="0.72"/>
<circle cx="237.1" cy="213.6" r="0.72"/>
<circle cx="234.2" cy="154.9" r="0.72"/>
<circle cx="237.4" cy="101.9" r="0.72"/>
<circle cx="238.4" cy="225.3" r="0.72"/>
<circle cx="239.5" cy="231.9" r="0.72"/>
<circle cx="235.8" cy="211.0" r="0.72"/>
<circle cx="236.3" cy="187.0" r="0.72"/>
<circle cx="238.1" cy="234.6" r="0.72"/>
<circle cx="238.5" cy="238.0" r="0.72"/>
<circle cx="237.4" cy="232.4" r="0.72"/>
<circle cx="237.1" cy="113.2" r="0.72"/>
<circle cx="235.5" cy="201.0" r="0.72"/>
<circle cx="233.8" cy="239.3" r="0.72"/>
<circle cx="237.3" cy="235.3" r="0.72"/>
<circle cx="236.7" cy="223.4" r="0.72"/>
<circle cx="234.4" cy="151.3" r="0.72"/>
<circle cx="237.5" cy="233.2" r="0.72"/>
<circle cx="233.6" cy="238.7" r="0.72"/>
<circle cx="234.2" cy="227.3" r="0.72"/>
<circle cx="234.9" cy="227.2" r="0.72"/>
<circle cx="237.1" cy="210.3" r="0.72"/>
<circle cx="237.3" cy="233.8" r="0.72"/>
<circle cx="234.4" cy="221.3" r="0.72"/>
<circle cx="235.1" cy="140.1" r="0.72"/>
<circle cx="234.2" cy="235.3" r="0.72"/>
<circle cx="238.8" cy="204.0" r="0.72"/>
<circle cx="236.0" cy="182.2" r="0.72"/>
<circle cx="233.7" cy="231.9" r="0.72"/>
<circle cx="237.0" cy="203.2" r="0.72"/>
<circle cx="237.5" cy="227.5" r="0.72"/>
<circle cx="239.2" cy="222.8" r="0.72"/>
<circle cx="235.1" cy="192.9" r="0.72"/>
<circle cx="233.9" cy="149.1" r="0.72"/>
<circle cx="236.0" cy="216.3" r="0.72"/>
<circle cx="234.0" cy="232.9" r="0.72"/>
<circle cx="233.7" cy="183.1" r="0.72"/>
<circle cx="239.2" cy="214.1" r="0.72"/>
<circle cx="234.8" cy="235.5" r="0.72"/>
<circle cx="236.6" cy="207.5" r="0.72"/>
<circle cx="238.5" cy="203.6" r="0.72"/>
<circle cx="235.5" cy="234.6" r="0.72"/>
<circle cx="233.9" cy="230.1" r="0.72"/>
<circle cx="238.3" cy="153.0" r="0.72"/>
<circle cx="233.6" cy="195.0" r="0.72"/>
<circle cx="238.1" cy="165.2" r="0.72"/>
<circle cx="238.1" cy="221.8" r="0.72"/>
<circle cx="235.0" cy="222.4" r="0.72"/>
<circle cx="235.0" cy="236.5" r="0.72"/>
<circle cx="235.6" cy="238.3" r="0.72"/>
<circle cx="237.8" cy="191.0" r="0.72"/>
<circle cx="237.9" cy="165.0" r="0.72"/>
<circle cx="236.9" cy="231.8" r="0.72"/>
<circle cx="238.3" cy="223.2" r="0.72"/>
<circle cx="235.2" cy="217.3" r="0.72"/>
<circle cx="239.4" cy="203.5" r="0.72"/>
<circle cx="238.9" cy="233.5" r="0.72"/>
<circle cx="235.2" cy="238.9" r="0.72"/>
<circle cx="238.1" cy="233.0" r="0.72"/>
<circle cx="238.1" cy="137.9" r="0.72"/>
<circle cx="238.9" cy="228.7" r="0.72"/>
<circle cx="235.0" cy="228.6" r="0.72"/>
<circle cx="237.4" cy="148.0" r="0.72"/>
<circle cx="237.6" cy="197.6" r="0.72"/>
<circle cx="236.4" cy="119.6" r="0.72"/>
<circle cx="237.8" cy="166.5" r="0.72"/>
<circle cx="236.2" cy="161.7" r="0.72"/>
<circle cx="237.0" cy="193.9" r="0.72"/>
<circle cx="234.9" cy="229.7" r="0.72"/>
<circle cx="234.1" cy="205.8" r="0.72"/>
<circle cx="234.5" cy="147.1" r="0.72"/>
<circle cx="234.2" cy="238.6" r="0.72"/>
<circle cx="235.7" cy="142.2" r="0.72"/>
<circle cx="233.8" cy="235.5" r="0.72"/>
<circle cx="237.8" cy="238.2" r="0.72"/>
<circle cx="237.8" cy="204.5" r="0.72"/>
<circle cx="234.0" cy="192.5" r="0.72"/>
<circle cx="235.8" cy="209.5" r="0.72"/>
<circle cx="238.5" cy="172.6" r="0.72"/>
<circle cx="234.0" cy="152.5" r="0.72"/>
<circle cx="239.1" cy="158.9" r="0.72"/>
<circle cx="234.2" cy="138.0" r="0.72"/>
<circle cx="234.3" cy="233.8" r="0.72"/>
<circle cx="238.7" cy="238.4" r="0.72"/>
<circle cx="237.4" cy="174.1" r="0.72"/>
<circle cx="237.4" cy="170.5" r="0.72"/>
<circle cx="234.2" cy="230.7" r="0.72"/>
<circle cx="238.1" cy="236.7" r="0.72"/>
<circle cx="235.5" cy="233.8" r="0.72"/>
<circle cx="233.7" cy="223.8" r="0.72"/>
<circle cx="235.3" cy="232.3" r="0.72"/>
<circle cx="235.8" cy="195.0" r="0.72"/>
<circle cx="239.4" cy="229.0" r="0.72"/>
<circle cx="238.7" cy="219.6" r="0.72"/>
<circle cx="233.8" cy="206.3" r="0.72"/>
<circle cx="236.2" cy="224.4" r="0.72"/>
<circle cx="235.7" cy="184.7" r="0.72"/>
<circle cx="236.8" cy="196.3" r="0.72"/>
<circle cx="238.8" cy="233.5" r="0.72"/>
<circle cx="238.5" cy="236.9" r="0.72"/>
<circle cx="233.6" cy="234.7" r="0.72"/>
<circle cx="238.2" cy="233.9" r="0.72"/>
<circle cx="233.6" cy="121.0" r="0.72"/>
<circle cx="236.5" cy="220.5" r="0.72"/>
<circle cx="234.7" cy="178.2" r="0.72"/>
<circle cx="235.7" cy="220.3" r="0.72"/>
<circle cx="235.2" cy="168.7" r="0.72"/>
<circle cx="235.3" cy="138.1" r="0.72"/>
<circle cx="237.8" cy="233.5" r="0.72"/>
<circle cx="234.3" cy="220.1" r="0.72"/>
<circle cx="234.1" cy="204.2" r="0.72"/>
<circle cx="237.8" cy="180.7" r="0.72"/>
<circle cx="237.4" cy="180.9" r="0.72"/>
<circle cx="236.0" cy="227.3" r="0.72"/>
<circle cx="238.9" cy="225.3" r="0.72"/>
<circle cx="238.9" cy="237.0" r="0.72"/>
<circle cx="234.8" cy="238.6" r="0.72"/>
<circle cx="239.0" cy="231.9" r="0.72"/>
<circle cx="235.9" cy="219.9" r="0.72"/>
<circle cx="235.0" cy="154.5" r="0.72"/>
<circle cx="236.8" cy="222.0" r="0.72"/>
<circle cx="238.1" cy="189.8" r="0.72"/>
<circle cx="235.7" cy="203.0" r="0.72"/>
<circle cx="234.5" cy="228.7" r="0.72"/>
<circle cx="237.6" cy="165.6" r="0.72"/>
<circle cx="234.6" cy="191.9" r="0.72"/>
<circle cx="238.2" cy="223.1" r="0.72"/>
<circle cx="234.4" cy="210.8" r="0.72"/>
<circle cx="238.9" cy="221.9" r="0.72"/>
<circle cx="234.7" cy="232.9" r="0.72"/>
<circle cx="237.8" cy="230.0" r="0.72"/>
<circle cx="234.5" cy="165.5" r="0.72"/>
<circle cx="235.1" cy="235.1" r="0.72"/>
<circle cx="236.7" cy="228.7" r="0.72"/>
<circle cx="235.6" cy="235.0" r="0.72"/>
<circle cx="239.5" cy="234.2" r="0.72"/>
<circle cx="234.2" cy="193.5" r="0.72"/>
<circle cx="234.2" cy="133.1" r="0.72"/>
<circle cx="239.5" cy="225.8" r="0.72"/>
<circle cx="238.0" cy="178.8" r="0.72"/>
<circle cx="234.8" cy="223.3" r="0.72"/>
<circle cx="234.2" cy="204.0" r="0.72"/>
<circle cx="235.9" cy="233.8" r="0.72"/>
<circle cx="236.0" cy="238.4" r="0.72"/>
<circle cx="237.8" cy="179.8" r="0.72"/>
<circle cx="237.4" cy="219.9" r="0.72"/>
<circle cx="234.5" cy="221.9" r="0.72"/>
<circle cx="236.0" cy="208.0" r="0.72"/>
<circle cx="239.0" cy="192.1" r="0.72"/>
<circle cx="237.0" cy="223.5" r="0.72"/>
<circle cx="236.1" cy="191.1" r="0.72"/>
<circle cx="237.9" cy="233.2" r="0.72"/>
<circle cx="238.2" cy="155.5" r="0.72"/>
<circle cx="238.7" cy="196.8" r="0.72"/>
<circle cx="237.4" cy="199.2" r="0.72"/>
<circle cx="235.5" cy="222.3" r="0.72"/>
<circle cx="234.2" cy="205.1" r="0.72"/>
<circle cx="238.3" cy="224.1" r="0.72"/>
<circle cx="237.4" cy="195.3" r="0.72"/>
<circle cx="236.1" cy="232.6" r="0.72"/>
<circle cx="237.3" cy="222.3" r="0.72"/>
<circle cx="237.7" cy="224.6" r="0.72"/>
<circle cx="234.7" cy="141.9" r="0.72"/>
<circle cx="238.3" cy="202.1" r="0.72"/>
<circle cx="236.5" cy="225.6" r="0.72"/>
<circle cx="233.8" cy="125.1" r="0.72"/>
<circle cx="234.6" cy="215.0" r="0.72"/>
<circle cx="239.2" cy="182.3" r="0.72"/>
<circle cx="234.2" cy="217.8" r="0.72"/>
<circle cx="236.8" cy="211.4" r="0.72"/>
<circle cx="236.7" cy="194.8" r="0.72"/>
<circle cx="238.6" cy="203.8" r="0.72"/>
<circle cx="236.1" cy="217.5" r="0.72"/>
<circle cx="234.9" cy="137.0" r="0.72"/>
<circle cx="236.0" cy="198.6" r="0.72"/>
<circle cx="234.3" cy="187.5" r="0.72"/>
<circle cx="260.0" cy="136.8" r="0.72"/>
<circle cx="261.3" cy="167.2" r="0.72"/>
<circle cx="262.2" cy="168.9" r="0.72"/>
<circle cx="262.2" cy="160.5" r="0.72"/>
<circle cx="261.3" cy="176.1" r="0.72"/>
<circle cx="261.0" cy="201.4" r="0.72"/>
<circle cx="262.9" cy="168.7" r="0.72"/>
<circle cx="262.1" cy="153.3" r="0.72"/>
<circle cx="261.0" cy="113.2" r="0.72"/>
<circle cx="264.6" cy="129.5" r="0.72"/>
<circle cx="263.5" cy="127.6" r="0.72"/>
<circle cx="261.1" cy="217.8" r="0.72"/>
<circle cx="265.5" cy="156.2" r="0.72"/>
<circle cx="264.6" cy="200.5" r="0.72"/>
<circle cx="264.6" cy="131.0" r="0.72"/>
<circle cx="263.0" cy="198.6" r="0.72"/>
<circle cx="260.5" cy="158.5" r="0.72"/>
<circle cx="264.8" cy="149.9" r="0.72"/>
<circle cx="261.3" cy="198.2" r="0.72"/>
<circle cx="262.3" cy="186.8" r="0.72"/>
<circle cx="260.8" cy="148.0" r="0.72"/>
<circle cx="261.4" cy="117.9" r="0.72"/>
<circle cx="261.2" cy="162.4" r="0.72"/>
<circle cx="262.3" cy="179.0" r="0.72"/>
<circle cx="263.5" cy="132.5" r="0.72"/>
<circle cx="265.3" cy="185.4" r="0.72"/>
<circle cx="264.8" cy="197.8" r="0.72"/>
<circle cx="265.1" cy="113.5" r="0.72"/>
<circle cx="264.4" cy="144.6" r="0.72"/>
<circle cx="263.5" cy="129.2" r="0.72"/>
<circle cx="259.8" cy="121.9" r="0.72"/>
<circle cx="263.6" cy="158.2" r="0.72"/>
<circle cx="260.6" cy="163.2" r="0.72"/>
<circle cx="261.1" cy="150.1" r="0.72"/>
<circle cx="260.6" cy="158.9" r="0.72"/>
<circle cx="265.1" cy="202.6" r="0.72"/>
<circle cx="265.0" cy="158.8" r="0.72"/>
<circle cx="263.4" cy="188.6" r="0.72"/>
<circle cx="265.1" cy="155.0" r="0.72"/>
<circle cx="264.4" cy="226.3" r="0.72"/>
<circle cx="263.9" cy="153.3" r="0.72"/>
<circle cx="262.9" cy="187.6" r="0.72"/>
<circle cx="265.0" cy="165.6" r="0.72"/>
<circle cx="263.0" cy="209.7" r="0.72"/>
<circle cx="260.5" cy="166.1" r="0.72"/>
<circle cx="262.7" cy="142.6" r="0.72"/>
<circle cx="260.6" cy="133.5" r="0.72"/>
<circle cx="262.6" cy="151.8" r="0.72"/>
<circle cx="264.9" cy="217.1" r="0.72"/>
<circle cx="259.7" cy="162.8" r="0.72"/>
<circle cx="263.1" cy="146.0" r="0.72"/>
<circle cx="263.7" cy="204.1" r="0.72"/>
<circle cx="262.2" cy="148.4" r="0.72"/>
<circle cx="265.5" cy="198.6" r="0.72"/>
<circle cx="263.5" cy="127.3" r="0.72"/>
<circle cx="259.9" cy="144.8" r="0.72"/>
<circle cx="265.3" cy="213.8" r="0.72"/>
<circle cx="261.7" cy="204.9" r="0.72"/>
<circle cx="262.6" cy="129.6" r="0.72"/>
<circle cx="265.1" cy="169.1" r="0.72"/>
<circle cx="263.5" cy="119.2" r="0.72"/>
<circle cx="261.7" cy="153.7" r="0.72"/>
<circle cx="262.5" cy="145.7" r="0.72"/>
<circle cx="262.9" cy="194.8" r="0.72"/>
<circle cx="262.3" cy="160.7" r="0.72"/>
<circle cx="262.2" cy="192.7" r="0.72"/>
<circle cx="261.5" cy="190.2" r="0.72"/>
<circle cx="262.7" cy="149.7" r="0.72"/>
<circle cx="261.3" cy="202.1" r="0.72"/>
<circle cx="263.6" cy="167.9" r="0.72"/>
<circle cx="261.6" cy="156.6" r="0.72"/>
<circle cx="261.5" cy="200.7" r="0.72"/>
<circle cx="315.5" cy="232.9" r="0.72"/>
<circle cx="311.9" cy="224.1" r="0.72"/>
<circle cx="317.0" cy="228.0" r="0.72"/>
<circle cx="312.0" cy="234.4" r="0.72"/>
<circle cx="311.7" cy="238.2" r="0.72"/>
<circle cx="317.2" cy="238.6" r="0.72"/>
<circle cx="315.6" cy="232.1" r="0.72"/>
<circle cx="317.2" cy="223.7" r="0.72"/>
<circle cx="315.4" cy="232.0" r="0.72"/>
<circle cx="315.9" cy="231.4" r="0.72"/>
<circle cx="315.8" cy="232.5" r="0.72"/>
<circle cx="315.7" cy="238.5" r="0.72"/>
<circle cx="316.3" cy="236.5" r="0.72"/>
<circle cx="312.8" cy="238.9" r="0.72"/>
<circle cx="316.3" cy="239.2" r="0.72"/>
<circle cx="315.6" cy="213.3" r="0.72"/>
<circle cx="316.6" cy="237.4" r="0.72"/>
<circle cx="315.1" cy="224.0" r="0.72"/>
<circle cx="313.5" cy="238.4" r="0.72"/>
<circle cx="313.6" cy="236.9" r="0.72"/>
<circle cx="315.6" cy="236.8" r="0.72"/>
<circle cx="312.0" cy="205.8" r="0.72"/>
<circle cx="311.9" cy="233.6" r="0.72"/>
<circle cx="316.6" cy="238.9" r="0.72"/>
<circle cx="317.2" cy="233.3" r="0.72"/>
<circle cx="311.8" cy="236.6" r="0.72"/>
<circle cx="315.3" cy="237.2" r="0.72"/>
<circle cx="317.6" cy="199.6" r="0.72"/>
<circle cx="314.2" cy="236.3" r="0.72"/>
<circle cx="315.6" cy="238.9" r="0.72"/>
<circle cx="312.6" cy="238.5" r="0.72"/>
<circle cx="311.7" cy="239.2" r="0.72"/>
<circle cx="312.4" cy="229.4" r="0.72"/>
<circle cx="312.2" cy="153.8" r="0.72"/>
<circle cx="312.5" cy="217.0" r="0.72"/>
<circle cx="316.0" cy="239.2" r="0.72"/>
<circle cx="316.1" cy="238.4" r="0.72"/>
<circle cx="312.0" cy="238.6" r="0.72"/>
<circle cx="316.0" cy="225.0" r="0.72"/>
<circle cx="316.1" cy="218.2" r="0.72"/>
<circle cx="315.5" cy="239.0" r="0.72"/>
<circle cx="314.5" cy="228.5" r="0.72"/>
<circle cx="313.2" cy="208.2" r="0.72"/>
<circle cx="316.0" cy="157.1" r="0.72"/>
<circle cx="311.8" cy="239.3" r="0.72"/>
<circle cx="316.6" cy="230.6" r="0.72"/>
<circle cx="313.6" cy="239.0" r="0.72"/>
<circle cx="312.7" cy="227.7" r="0.72"/>
<circle cx="314.6" cy="217.8" r="0.72"/>
<circle cx="313.9" cy="239.1" r="0.72"/>
<circle cx="314.3" cy="233.3" r="0.72"/>
<circle cx="312.6" cy="229.6" r="0.72"/>
<circle cx="313.9" cy="223.1" r="0.72"/>
<circle cx="315.5" cy="230.8" r="0.72"/>
<circle cx="314.0" cy="236.9" r="0.72"/>
<circle cx="317.4" cy="224.0" r="0.72"/>
<circle cx="315.1" cy="224.1" r="0.72"/>
<circle cx="312.1" cy="238.2" r="0.72"/>
<circle cx="315.9" cy="141.7" r="0.72"/>
<circle cx="313.7" cy="220.5" r="0.72"/>
<circle cx="317.6" cy="232.2" r="0.72"/>
<circle cx="315.3" cy="220.2" r="0.72"/>
<circle cx="314.3" cy="238.1" r="0.72"/>
<circle cx="314.0" cy="215.5" r="0.72"/>
<circle cx="315.3" cy="229.3" r="0.72"/>
<circle cx="316.5" cy="214.8" r="0.72"/>
<circle cx="311.7" cy="238.3" r="0.72"/>
<circle cx="314.2" cy="238.3" r="0.72"/>
<circle cx="316.6" cy="232.9" r="0.72"/>
<circle cx="312.0" cy="215.5" r="0.72"/>
<circle cx="316.6" cy="220.1" r="0.72"/>
<circle cx="315.1" cy="217.2" r="0.72"/>
<circle cx="316.8" cy="238.3" r="0.72"/>
<circle cx="315.8" cy="222.2" r="0.72"/>
<circle cx="313.8" cy="213.4" r="0.72"/>
<circle cx="315.0" cy="239.0" r="0.72"/>
<circle cx="312.9" cy="223.1" r="0.72"/>
<circle cx="317.3" cy="227.0" r="0.72"/>
<circle cx="315.3" cy="238.4" r="0.72"/>
<circle cx="314.5" cy="229.6" r="0.72"/>
<circle cx="313.2" cy="238.5" r="0.72"/>
<circle cx="316.4" cy="226.9" r="0.72"/>
<circle cx="312.2" cy="236.4" r="0.72"/>
<circle cx="316.3" cy="222.3" r="0.72"/>
<circle cx="315.2" cy="238.4" r="0.72"/>
<circle cx="317.0" cy="214.8" r="0.72"/>
<circle cx="314.6" cy="235.2" r="0.72"/>
<circle cx="312.8" cy="232.8" r="0.72"/>
<circle cx="312.8" cy="238.6" r="0.72"/>
<circle cx="313.9" cy="228.8" r="0.72"/>
<circle cx="314.1" cy="233.7" r="0.72"/>
<circle cx="312.6" cy="235.4" r="0.72"/>
<circle cx="317.7" cy="239.1" r="0.72"/>
<circle cx="312.3" cy="237.4" r="0.72"/>
<circle cx="316.4" cy="231.2" r="0.72"/>
<circle cx="315.3" cy="238.7" r="0.72"/>
<circle cx="314.8" cy="237.7" r="0.72"/>
<circle cx="311.9" cy="239.2" r="0.72"/>
<circle cx="316.9" cy="115.4" r="0.72"/>
<circle cx="315.1" cy="236.2" r="0.72"/>
<circle cx="316.4" cy="238.3" r="0.72"/>
<circle cx="317.4" cy="236.8" r="0.72"/>
<circle cx="316.6" cy="225.6" r="0.72"/>
<circle cx="313.2" cy="158.5" r="0.72"/>
<circle cx="312.9" cy="239.2" r="0.72"/>
<circle cx="312.2" cy="238.6" r="0.72"/>
<circle cx="315.0" cy="239.1" r="0.72"/>
<circle cx="314.4" cy="216.9" r="0.72"/>
<circle cx="317.2" cy="184.5" r="0.72"/>
<circle cx="315.3" cy="239.1" r="0.72"/>
<circle cx="312.4" cy="237.1" r="0.72"/>
<circle cx="313.2" cy="165.1" r="0.72"/>
<circle cx="315.5" cy="233.7" r="0.72"/>
<circle cx="315.7" cy="169.7" r="0.72"/>
<circle cx="314.4" cy="237.2" r="0.72"/>
<circle cx="317.5" cy="238.7" r="0.72"/>
<circle cx="313.0" cy="113.3" r="0.72"/>
<circle cx="313.2" cy="239.2" r="0.72"/>
<circle cx="317.1" cy="237.6" r="0.72"/>
<circle cx="316.7" cy="214.1" r="0.72"/>
<circle cx="316.4" cy="239.1" r="0.72"/>
<circle cx="315.6" cy="228.5" r="0.72"/>
<circle cx="312.0" cy="123.3" r="0.72"/>
<circle cx="316.2" cy="238.8" r="0.72"/>
<circle cx="315.8" cy="197.0" r="0.72"/>
<circle cx="315.2" cy="238.2" r="0.72"/>
<circle cx="312.3" cy="226.3" r="0.72"/>
<circle cx="313.2" cy="237.9" r="0.72"/>
<circle cx="314.6" cy="238.8" r="0.72"/>
<circle cx="313.1" cy="238.7" r="0.72"/>
<circle cx="315.8" cy="238.8" r="0.72"/>
<circle cx="316.0" cy="239.3" r="0.72"/>
<circle cx="311.9" cy="238.6" r="0.72"/>
<circle cx="313.0" cy="212.2" r="0.72"/>
<circle cx="316.9" cy="205.6" r="0.72"/>
<circle cx="312.5" cy="215.4" r="0.72"/>
<circle cx="312.3" cy="236.6" r="0.72"/>
<circle cx="316.8" cy="212.1" r="0.72"/>
<circle cx="314.4" cy="231.4" r="0.72"/>
<circle cx="316.6" cy="237.8" r="0.72"/>
<circle cx="315.5" cy="236.2" r="0.72"/>
<circle cx="313.0" cy="238.8" r="0.72"/>
<circle cx="316.0" cy="239.1" r="0.72"/>
<circle cx="312.6" cy="234.1" r="0.72"/>
<circle cx="313.3" cy="216.9" r="0.72"/>
<circle cx="312.6" cy="237.0" r="0.72"/>
<circle cx="316.7" cy="238.3" r="0.72"/>
<circle cx="312.7" cy="237.8" r="0.72"/>
<circle cx="313.6" cy="236.1" r="0.72"/>
<circle cx="312.4" cy="214.2" r="0.72"/>
<circle cx="312.0" cy="134.2" r="0.72"/>
<circle cx="315.7" cy="214.9" r="0.72"/>
<circle cx="314.6" cy="238.5" r="0.72"/>
<circle cx="313.2" cy="238.3" r="0.72"/>
<circle cx="313.9" cy="238.6" r="0.72"/>
<circle cx="317.7" cy="114.4" r="0.72"/>
<circle cx="312.3" cy="212.4" r="0.72"/>
<circle cx="317.1" cy="238.2" r="0.72"/>
<circle cx="316.1" cy="239.1" r="0.72"/>
<circle cx="317.6" cy="238.2" r="0.72"/>
<circle cx="316.5" cy="239.2" r="0.72"/>
<circle cx="312.5" cy="237.8" r="0.72"/>
<circle cx="316.7" cy="239.3" r="0.72"/>
<circle cx="312.8" cy="235.0" r="0.72"/>
<circle cx="317.2" cy="236.7" r="0.72"/>
<circle cx="315.1" cy="238.5" r="0.72"/>
<circle cx="312.8" cy="238.8" r="0.72"/>
<circle cx="316.0" cy="225.3" r="0.72"/>
<circle cx="312.2" cy="238.6" r="0.72"/>
<circle cx="315.4" cy="239.0" r="0.72"/>
<circle cx="313.3" cy="236.0" r="0.72"/>
<circle cx="315.4" cy="238.5" r="0.72"/>
<circle cx="316.6" cy="228.5" r="0.72"/>
<circle cx="312.9" cy="233.0" r="0.72"/>
<circle cx="316.1" cy="239.1" r="0.72"/>
<circle cx="316.0" cy="237.0" r="0.72"/>
<circle cx="316.6" cy="239.1" r="0.72"/>
<circle cx="316.8" cy="237.8" r="0.72"/>
<circle cx="314.7" cy="217.5" r="0.72"/>
<circle cx="317.2" cy="239.2" r="0.72"/>
<circle cx="316.9" cy="236.3" r="0.72"/>
<circle cx="312.8" cy="238.3" r="0.72"/>
<circle cx="313.9" cy="220.2" r="0.72"/>
<circle cx="313.9" cy="238.7" r="0.72"/>
<circle cx="311.7" cy="232.6" r="0.72"/>
<circle cx="314.4" cy="235.3" r="0.72"/>
<circle cx="312.4" cy="235.4" r="0.72"/>
<circle cx="316.6" cy="228.3" r="0.72"/>
<circle cx="313.6" cy="217.4" r="0.72"/>
<circle cx="314.0" cy="228.4" r="0.72"/>
<circle cx="312.1" cy="226.9" r="0.72"/>
<circle cx="317.4" cy="216.8" r="0.72"/>
<circle cx="314.8" cy="236.1" r="0.72"/>
<circle cx="314.9" cy="234.9" r="0.72"/>
<circle cx="317.5" cy="239.2" r="0.72"/>
<circle cx="312.8" cy="238.5" r="0.72"/>
<circle cx="313.2" cy="238.9" r="0.72"/>
<circle cx="311.9" cy="221.4" r="0.72"/>
<circle cx="315.9" cy="238.9" r="0.72"/>
<circle cx="311.8" cy="238.6" r="0.72"/>
<circle cx="315.2" cy="232.4" r="0.72"/>
<circle cx="315.9" cy="235.2" r="0.72"/>
<circle cx="316.9" cy="238.9" r="0.72"/>
<circle cx="312.0" cy="228.2" r="0.72"/>
<circle cx="314.7" cy="238.8" r="0.72"/>
<circle cx="313.4" cy="236.0" r="0.72"/>
<circle cx="314.1" cy="238.9" r="0.72"/>
<circle cx="315.3" cy="238.8" r="0.72"/>
<circle cx="312.6" cy="217.7" r="0.72"/>
<circle cx="316.2" cy="233.4" r="0.72"/>
<circle cx="316.7" cy="238.7" r="0.72"/>
<circle cx="314.0" cy="199.9" r="0.72"/>
<circle cx="316.7" cy="236.9" r="0.72"/>
<circle cx="314.1" cy="235.1" r="0.72"/>
<circle cx="316.4" cy="193.9" r="0.72"/>
<circle cx="313.1" cy="237.8" r="0.72"/>
<circle cx="314.3" cy="237.8" r="0.72"/>
<circle cx="316.5" cy="130.0" r="0.72"/>
<circle cx="316.6" cy="213.4" r="0.72"/>
<circle cx="312.0" cy="218.9" r="0.72"/>
<circle cx="343.7" cy="190.9" r="0.72"/>
<circle cx="341.9" cy="180.8" r="0.72"/>
<circle cx="340.3" cy="128.5" r="0.72"/>
<circle cx="340.7" cy="194.4" r="0.72"/>
<circle cx="341.1" cy="183.6" r="0.72"/>
<circle cx="343.9" cy="153.8" r="0.72"/>
<circle cx="342.8" cy="177.4" r="0.72"/>
<circle cx="343.0" cy="115.5" r="0.72"/>
<circle cx="343.4" cy="200.7" r="0.72"/>
<circle cx="341.9" cy="171.1" r="0.72"/>
<circle cx="339.7" cy="187.3" r="0.72"/>
<circle cx="341.4" cy="193.5" r="0.72"/>
<circle cx="343.6" cy="206.9" r="0.72"/>
<circle cx="341.2" cy="200.8" r="0.72"/>
<circle cx="340.7" cy="199.9" r="0.72"/>
<circle cx="339.9" cy="141.7" r="0.72"/>
<circle cx="342.0" cy="190.0" r="0.72"/>
<circle cx="343.8" cy="132.0" r="0.72"/>
<circle cx="341.2" cy="134.8" r="0.72"/>
<circle cx="341.3" cy="185.7" r="0.72"/>
<circle cx="339.0" cy="125.2" r="0.72"/>
<circle cx="339.9" cy="162.1" r="0.72"/>
<circle cx="340.5" cy="162.3" r="0.72"/>
<circle cx="338.6" cy="187.4" r="0.72"/>
<circle cx="341.4" cy="144.7" r="0.72"/>
<circle cx="341.5" cy="144.2" r="0.72"/>
<circle cx="342.0" cy="222.8" r="0.72"/>
<circle cx="340.9" cy="157.2" r="0.72"/>
<circle cx="341.4" cy="105.8" r="0.72"/>
<circle cx="340.0" cy="211.8" r="0.72"/>
<circle cx="339.6" cy="207.4" r="0.72"/>
<circle cx="340.4" cy="170.3" r="0.72"/>
<circle cx="393.8" cy="65.6" r="0.72"/>
<circle cx="395.5" cy="70.9" r="0.72"/>
<circle cx="391.7" cy="89.1" r="0.72"/>
<circle cx="392.0" cy="126.5" r="0.72"/>
<circle cx="396.2" cy="103.9" r="0.72"/>
<circle cx="391.3" cy="106.6" r="0.72"/>
<circle cx="390.7" cy="55.6" r="0.72"/>
<circle cx="390.7" cy="74.8" r="0.72"/>
<circle cx="392.6" cy="116.2" r="0.72"/>
<circle cx="391.0" cy="140.5" r="0.72"/>
<circle cx="391.7" cy="77.9" r="0.72"/>
<circle cx="391.2" cy="57.0" r="0.72"/>
<circle cx="392.3" cy="104.2" r="0.72"/>
<circle cx="394.0" cy="120.2" r="0.72"/>
<circle cx="395.4" cy="65.2" r="0.72"/>
<circle cx="394.7" cy="79.5" r="0.72"/>
<circle cx="394.8" cy="126.4" r="0.72"/>
<circle cx="395.0" cy="89.1" r="0.72"/>
<circle cx="394.6" cy="127.9" r="0.72"/>
<circle cx="395.5" cy="81.1" r="0.72"/>
<circle cx="390.3" cy="99.4" r="0.72"/>
<circle cx="393.3" cy="87.8" r="0.72"/>
<circle cx="396.1" cy="134.1" r="0.72"/>
<circle cx="395.0" cy="121.4" r="0.72"/>
<circle cx="395.5" cy="105.6" r="0.72"/>
<circle cx="393.0" cy="115.7" r="0.72"/>
<circle cx="393.0" cy="110.7" r="0.72"/>
<circle cx="392.6" cy="95.2" r="0.72"/>
<circle cx="393.6" cy="117.6" r="0.72"/>
<circle cx="395.0" cy="112.3" r="0.72"/>
<circle cx="395.4" cy="78.2" r="0.72"/>
<circle cx="391.4" cy="126.3" r="0.72"/>
<circle cx="392.1" cy="90.5" r="0.72"/>
<circle cx="393.8" cy="73.6" r="0.72"/>
<circle cx="390.8" cy="68.7" r="0.72"/>
<circle cx="395.4" cy="74.2" r="0.72"/>
<circle cx="395.3" cy="104.6" r="0.72"/>
<circle cx="392.9" cy="76.7" r="0.72"/>
<circle cx="395.8" cy="96.3" r="0.72"/>
<circle cx="393.7" cy="84.0" r="0.72"/>
<circle cx="393.3" cy="90.2" r="0.72"/>
<circle cx="393.5" cy="58.5" r="0.72"/>
<circle cx="396.3" cy="117.8" r="0.72"/>
<circle cx="394.4" cy="130.1" r="0.72"/>
<circle cx="392.6" cy="94.9" r="0.72"/>
<circle cx="392.4" cy="118.3" r="0.72"/>
<circle cx="396.0" cy="68.4" r="0.72"/>
<circle cx="390.9" cy="108.5" r="0.72"/>
<circle cx="392.5" cy="126.6" r="0.72"/>
<circle cx="393.7" cy="124.9" r="0.72"/>
<circle cx="395.6" cy="74.7" r="0.72"/>
<circle cx="392.9" cy="66.7" r="0.72"/>
<circle cx="394.0" cy="99.0" r="0.72"/>
<circle cx="393.5" cy="71.2" r="0.72"/>
<circle cx="395.2" cy="91.3" r="0.72"/>
<circle cx="396.2" cy="81.7" r="0.72"/>
<circle cx="395.3" cy="74.3" r="0.72"/>
<circle cx="395.7" cy="106.5" r="0.72"/>
<circle cx="394.4" cy="91.9" r="0.72"/>
<circle cx="395.6" cy="62.9" r="0.72"/>
<circle cx="392.0" cy="107.5" r="0.72"/>
<circle cx="393.4" cy="84.7" r="0.72"/>
<circle cx="391.4" cy="111.8" r="0.72"/>
<circle cx="394.1" cy="91.3" r="0.72"/>
<circle cx="396.3" cy="115.1" r="0.72"/>
<circle cx="394.1" cy="109.1" r="0.72"/>
<circle cx="395.0" cy="69.5" r="0.72"/>
<circle cx="392.1" cy="84.9" r="0.72"/>
<circle cx="392.1" cy="91.7" r="0.72"/>
<circle cx="395.4" cy="93.3" r="0.72"/>
<circle cx="391.5" cy="132.5" r="0.72"/>
<circle cx="393.3" cy="115.8" r="0.72"/>
<circle cx="394.2" cy="115.1" r="0.72"/>
<circle cx="393.5" cy="99.1" r="0.72"/>
<circle cx="392.8" cy="62.9" r="0.72"/>
<circle cx="391.0" cy="91.4" r="0.72"/>
<circle cx="390.9" cy="70.8" r="0.72"/>
<circle cx="390.9" cy="60.8" r="0.72"/>
<circle cx="395.2" cy="78.3" r="0.72"/>
<circle cx="394.0" cy="68.0" r="0.72"/>
<circle cx="390.4" cy="88.0" r="0.72"/>
<circle cx="394.9" cy="101.6" r="0.72"/>
<circle cx="392.4" cy="113.7" r="0.72"/>
<circle cx="391.3" cy="60.4" r="0.72"/>
<circle cx="395.7" cy="92.2" r="0.72"/>
<circle cx="393.8" cy="80.9" r="0.72"/>
<circle cx="392.6" cy="111.5" r="0.72"/>
<circle cx="390.6" cy="71.8" r="0.72"/>
<circle cx="396.1" cy="68.9" r="0.72"/>
<circle cx="392.9" cy="118.2" r="0.72"/>
<circle cx="390.6" cy="108.8" r="0.72"/>
<circle cx="395.9" cy="107.7" r="0.72"/>
<circle cx="395.7" cy="79.3" r="0.72"/>
<circle cx="395.2" cy="113.2" r="0.72"/>
<circle cx="396.1" cy="105.4" r="0.72"/>
<circle cx="393.3" cy="63.4" r="0.72"/>
<circle cx="392.6" cy="75.6" r="0.72"/>
<circle cx="394.6" cy="98.2" r="0.72"/>
<circle cx="395.6" cy="87.3" r="0.72"/>
<circle cx="393.2" cy="72.7" r="0.72"/>
<circle cx="391.3" cy="86.4" r="0.72"/>
<circle cx="392.5" cy="114.3" r="0.72"/>
<circle cx="392.0" cy="68.6" r="0.72"/>
<circle cx="393.7" cy="38.5" r="0.72"/>
<circle cx="392.6" cy="70.9" r="0.72"/>
<circle cx="392.7" cy="73.3" r="0.72"/>
<circle cx="395.3" cy="80.6" r="0.72"/>
<circle cx="392.4" cy="86.3" r="0.72"/>
<circle cx="392.0" cy="90.2" r="0.72"/>
<circle cx="391.7" cy="76.8" r="0.72"/>
<circle cx="392.3" cy="60.0" r="0.72"/>
<circle cx="391.2" cy="83.8" r="0.72"/>
<circle cx="391.9" cy="94.6" r="0.72"/>
<circle cx="395.3" cy="104.6" r="0.72"/>
<circle cx="395.3" cy="74.7" r="0.72"/>
<circle cx="395.1" cy="74.1" r="0.72"/>
<circle cx="394.6" cy="79.9" r="0.72"/>
<circle cx="392.6" cy="74.0" r="0.72"/>
<circle cx="396.0" cy="76.6" r="0.72"/>
<circle cx="393.3" cy="96.4" r="0.72"/>
<circle cx="391.1" cy="87.3" r="0.72"/>
<circle cx="394.5" cy="67.6" r="0.72"/>
<circle cx="393.8" cy="95.4" r="0.72"/>
<circle cx="392.5" cy="45.2" r="0.72"/>
<circle cx="391.6" cy="89.9" r="0.72"/>
<circle cx="395.5" cy="61.6" r="0.72"/>
<circle cx="393.6" cy="72.4" r="0.72"/>
<circle cx="391.9" cy="72.9" r="0.72"/>
<circle cx="394.2" cy="87.8" r="0.72"/>
<circle cx="393.7" cy="122.7" r="0.72"/>
<circle cx="390.8" cy="102.8" r="0.72"/>
<circle cx="391.4" cy="71.0" r="0.72"/>
<circle cx="394.3" cy="79.5" r="0.72"/>
<circle cx="391.0" cy="113.9" r="0.72"/>
<circle cx="393.3" cy="119.4" r="0.72"/>
<circle cx="392.1" cy="102.4" r="0.72"/>
<circle cx="391.7" cy="73.8" r="0.72"/>
<circle cx="391.1" cy="83.2" r="0.72"/>
<circle cx="392.7" cy="96.2" r="0.72"/>
<circle cx="395.8" cy="116.8" r="0.72"/>
<circle cx="395.5" cy="83.7" r="0.72"/>
<circle cx="391.1" cy="157.9" r="0.72"/>
<circle cx="394.4" cy="91.9" r="0.72"/>
<circle cx="394.3" cy="85.5" r="0.72"/>
<circle cx="394.3" cy="110.8" r="0.72"/>
<circle cx="394.5" cy="73.0" r="0.72"/>
<circle cx="392.4" cy="90.2" r="0.72"/>
<circle cx="394.1" cy="49.5" r="0.72"/>
<circle cx="395.8" cy="86.2" r="0.72"/>
<circle cx="394.7" cy="81.1" r="0.72"/>
<circle cx="390.5" cy="92.8" r="0.72"/>
<circle cx="391.3" cy="99.8" r="0.72"/>
<circle cx="392.6" cy="84.8" r="0.72"/>
<circle cx="390.5" cy="73.5" r="0.72"/>
<circle cx="391.4" cy="108.1" r="0.72"/>
<circle cx="395.3" cy="62.6" r="0.72"/>
<circle cx="391.8" cy="137.9" r="0.72"/>
<circle cx="392.9" cy="112.9" r="0.72"/>
<circle cx="390.3" cy="102.8" r="0.72"/>
<circle cx="395.3" cy="118.5" r="0.72"/>
<circle cx="390.6" cy="87.7" r="0.72"/>
<circle cx="395.4" cy="117.3" r="0.72"/>
<circle cx="391.8" cy="98.6" r="0.72"/>
<circle cx="391.0" cy="97.0" r="0.72"/>
<circle cx="395.8" cy="86.9" r="0.72"/>
<circle cx="394.8" cy="112.4" r="0.72"/>
<circle cx="392.7" cy="62.6" r="0.72"/>
<circle cx="394.8" cy="73.8" r="0.72"/>
<circle cx="390.8" cy="82.4" r="0.72"/>
<circle cx="396.0" cy="114.1" r="0.72"/>
<circle cx="394.4" cy="158.0" r="0.72"/>
<circle cx="394.7" cy="68.1" r="0.72"/>
<circle cx="393.0" cy="76.2" r="0.72"/>
<circle cx="390.6" cy="131.2" r="0.72"/>
<circle cx="393.4" cy="101.7" r="0.72"/>
<circle cx="395.9" cy="123.6" r="0.72"/>
<circle cx="390.6" cy="65.6" r="0.72"/>
<circle cx="394.5" cy="64.8" r="0.72"/>
<circle cx="393.6" cy="84.9" r="0.72"/>
<circle cx="396.1" cy="114.7" r="0.72"/>
<circle cx="391.8" cy="117.4" r="0.72"/>
<circle cx="390.7" cy="122.0" r="0.72"/>
<circle cx="391.5" cy="111.8" r="0.72"/>
<circle cx="392.2" cy="73.6" r="0.72"/>
<circle cx="394.3" cy="68.9" r="0.72"/>
<circle cx="391.7" cy="65.5" r="0.72"/>
<circle cx="393.0" cy="89.3" r="0.72"/>
<circle cx="395.9" cy="65.1" r="0.72"/>
<circle cx="395.6" cy="107.1" r="0.72"/>
<circle cx="391.2" cy="76.2" r="0.72"/>
<circle cx="395.2" cy="117.9" r="0.72"/>
<circle cx="393.6" cy="102.1" r="0.72"/>
<circle cx="394.3" cy="89.7" r="0.72"/>
<circle cx="393.9" cy="110.6" r="0.72"/>
<circle cx="395.3" cy="145.0" r="0.72"/>
<circle cx="391.0" cy="81.9" r="0.72"/>
<circle cx="391.5" cy="98.2" r="0.72"/>
<circle cx="390.7" cy="71.2" r="0.72"/>
<circle cx="394.5" cy="94.8" r="0.72"/>
<circle cx="393.0" cy="76.8" r="0.72"/>
<circle cx="393.1" cy="76.4" r="0.72"/>
<circle cx="392.5" cy="78.4" r="0.72"/>
<circle cx="390.4" cy="86.6" r="0.72"/>
<circle cx="396.3" cy="83.5" r="0.72"/>
<circle cx="394.6" cy="90.6" r="0.72"/>
<circle cx="396.2" cy="104.4" r="0.72"/>
<circle cx="393.2" cy="105.2" r="0.72"/>
<circle cx="392.9" cy="96.8" r="0.72"/>
<circle cx="390.3" cy="80.8" r="0.72"/>
<circle cx="395.8" cy="65.9" r="0.72"/>
<circle cx="395.9" cy="119.1" r="0.72"/>
<circle cx="394.2" cy="127.1" r="0.72"/>
<circle cx="391.1" cy="90.8" r="0.72"/>
<circle cx="390.5" cy="74.7" r="0.72"/>
<circle cx="392.1" cy="84.4" r="0.72"/>
<circle cx="391.4" cy="152.8" r="0.72"/>
<circle cx="395.9" cy="131.7" r="0.72"/>
<circle cx="391.3" cy="139.1" r="0.72"/>
<circle cx="394.8" cy="82.0" r="0.72"/>
<circle cx="392.3" cy="151.1" r="0.72"/>
<circle cx="392.2" cy="74.8" r="0.72"/>
<circle cx="392.5" cy="54.3" r="0.72"/>
<circle cx="395.3" cy="120.6" r="0.72"/>
<circle cx="391.7" cy="100.6" r="0.72"/>
<circle cx="394.1" cy="64.1" r="0.72"/>
<circle cx="395.2" cy="83.6" r="0.72"/>
<circle cx="396.0" cy="110.3" r="0.72"/>
<circle cx="393.3" cy="159.3" r="0.72"/>
<circle cx="392.1" cy="109.9" r="0.72"/>
<circle cx="393.8" cy="90.6" r="0.72"/>
<circle cx="391.3" cy="62.3" r="0.72"/>
<circle cx="393.0" cy="75.0" r="0.72"/>
<circle cx="390.5" cy="81.6" r="0.72"/>
<circle cx="392.9" cy="93.3" r="0.72"/>
<circle cx="390.3" cy="78.3" r="0.72"/>
<circle cx="395.3" cy="59.0" r="0.72"/>
<circle cx="392.9" cy="67.7" r="0.72"/>
<circle cx="392.0" cy="136.3" r="0.72"/>
<circle cx="392.8" cy="111.5" r="0.72"/>
<circle cx="392.3" cy="124.2" r="0.72"/>
<circle cx="395.3" cy="135.8" r="0.72"/>
<circle cx="395.7" cy="78.8" r="0.72"/>
<circle cx="393.0" cy="81.5" r="0.72"/>
<circle cx="393.7" cy="75.3" r="0.72"/>
<circle cx="390.8" cy="103.1" r="0.72"/>
<circle cx="392.2" cy="79.2" r="0.72"/>
<circle cx="395.8" cy="76.7" r="0.72"/>
<circle cx="396.1" cy="52.5" r="0.72"/>
<circle cx="394.0" cy="157.3" r="0.72"/>
<circle cx="394.4" cy="87.8" r="0.72"/>
<circle cx="394.0" cy="101.3" r="0.72"/>
<circle cx="396.0" cy="103.1" r="0.72"/>
<circle cx="393.2" cy="64.2" r="0.72"/>
<circle cx="392.4" cy="107.3" r="0.72"/>
<circle cx="395.6" cy="112.8" r="0.72"/>
<circle cx="394.4" cy="77.1" r="0.72"/>
<circle cx="393.0" cy="88.2" r="0.72"/>
<circle cx="392.5" cy="63.8" r="0.72"/>
<circle cx="393.8" cy="74.7" r="0.72"/>
<circle cx="393.7" cy="125.6" r="0.72"/>
<circle cx="392.7" cy="77.5" r="0.72"/>
<circle cx="395.6" cy="80.5" r="0.72"/>
<circle cx="393.6" cy="81.8" r="0.72"/>
<circle cx="391.8" cy="58.5" r="0.72"/>
<circle cx="390.9" cy="63.2" r="0.72"/>
<circle cx="393.2" cy="115.2" r="0.72"/>
<circle cx="393.6" cy="95.4" r="0.72"/>
<circle cx="391.0" cy="86.5" r="0.72"/>
<circle cx="393.4" cy="63.3" r="0.72"/>
<circle cx="392.7" cy="102.0" r="0.72"/>
<circle cx="390.7" cy="97.7" r="0.72"/>
<circle cx="393.6" cy="151.6" r="0.72"/>
<circle cx="394.6" cy="74.9" r="0.72"/>
<circle cx="396.2" cy="90.1" r="0.72"/>
<circle cx="394.6" cy="106.8" r="0.72"/>
<circle cx="392.7" cy="58.6" r="0.72"/>
<circle cx="391.3" cy="66.7" r="0.72"/>
<circle cx="394.9" cy="64.2" r="0.72"/>
<circle cx="391.1" cy="101.1" r="0.72"/>
<circle cx="391.7" cy="89.4" r="0.72"/>
<circle cx="392.5" cy="101.8" r="0.72"/>
<circle cx="391.6" cy="62.3" r="0.72"/>
<circle cx="392.1" cy="87.9" r="0.72"/>
<circle cx="395.6" cy="99.8" r="0.72"/>
<circle cx="394.0" cy="124.0" r="0.72"/>
<circle cx="395.8" cy="71.7" r="0.72"/>
<circle cx="395.5" cy="121.1" r="0.72"/>
<circle cx="392.3" cy="73.3" r="0.72"/>
<circle cx="394.9" cy="60.1" r="0.72"/>
<circle cx="391.0" cy="116.6" r="0.72"/>
<circle cx="392.5" cy="146.3" r="0.72"/>
<circle cx="394.6" cy="97.0" r="0.72"/>
<circle cx="390.9" cy="62.8" r="0.72"/>
<circle cx="393.6" cy="82.8" r="0.72"/>
<circle cx="395.9" cy="87.2" r="0.72"/>
<circle cx="394.4" cy="105.8" r="0.72"/>
<circle cx="393.0" cy="91.2" r="0.72"/>
<circle cx="395.3" cy="76.7" r="0.72"/>
<circle cx="390.4" cy="104.7" r="0.72"/>
<circle cx="391.0" cy="98.5" r="0.72"/>
<circle cx="393.6" cy="86.3" r="0.72"/>
<circle cx="392.0" cy="110.6" r="0.72"/>
<circle cx="391.2" cy="103.0" r="0.72"/>
<circle cx="395.6" cy="120.3" r="0.72"/>
<circle cx="395.1" cy="139.5" r="0.72"/>
<circle cx="396.0" cy="102.6" r="0.72"/>
<circle cx="391.2" cy="71.3" r="0.72"/>
<circle cx="393.3" cy="88.9" r="0.72"/>
<circle cx="390.5" cy="64.0" r="0.72"/>
<circle cx="391.4" cy="132.9" r="0.72"/>
<circle cx="392.7" cy="77.3" r="0.72"/>
<circle cx="393.2" cy="135.8" r="0.72"/>
<circle cx="392.7" cy="68.3" r="0.72"/>
<circle cx="395.5" cy="56.3" r="0.72"/>
<circle cx="392.3" cy="100.6" r="0.72"/>
<circle cx="391.6" cy="99.0" r="0.72"/>
<circle cx="390.6" cy="68.4" r="0.72"/>
<circle cx="391.3" cy="117.7" r="0.72"/>
<circle cx="393.8" cy="114.3" r="0.72"/>
<circle cx="392.6" cy="72.3" r="0.72"/>
<circle cx="393.8" cy="92.8" r="0.72"/>
<circle cx="392.3" cy="88.8" r="0.72"/>
<circle cx="396.2" cy="67.3" r="0.72"/>
<circle cx="390.6" cy="87.6" r="0.72"/>
<circle cx="391.9" cy="71.4" r="0.72"/>
<circle cx="391.9" cy="65.5" r="0.72"/>
<circle cx="393.7" cy="116.3" r="0.72"/>
<circle cx="393.5" cy="90.6" r="0.72"/>
<circle cx="390.5" cy="27.0" r="0.72"/>
<circle cx="393.7" cy="118.0" r="0.72"/>
<circle cx="394.9" cy="85.0" r="0.72"/>
<circle cx="394.1" cy="156.8" r="0.72"/>
<circle cx="392.0" cy="111.3" r="0.72"/>
<circle cx="395.1" cy="114.0" r="0.72"/>
<circle cx="394.4" cy="55.7" r="0.72"/>
<circle cx="392.1" cy="146.3" r="0.72"/>
<circle cx="393.4" cy="87.7" r="0.72"/>
<circle cx="394.1" cy="144.4" r="0.72"/>
<circle cx="392.7" cy="115.2" r="0.72"/>
<circle cx="390.7" cy="68.9" r="0.72"/>
<circle cx="396.2" cy="105.8" r="0.72"/>
<circle cx="393.2" cy="74.6" r="0.72"/>
<circle cx="391.7" cy="107.1" r="0.72"/>
<circle cx="392.4" cy="78.9" r="0.72"/>
<circle cx="395.5" cy="88.9" r="0.72"/>
<circle cx="393.0" cy="88.7" r="0.72"/>
<circle cx="392.1" cy="130.8" r="0.72"/>
<circle cx="391.3" cy="81.4" r="0.72"/>
<circle cx="392.2" cy="74.2" r="0.72"/>
<circle cx="394.7" cy="83.3" r="0.72"/>
<circle cx="395.9" cy="196.7" r="0.72"/>
<circle cx="395.8" cy="213.0" r="0.72"/>
<circle cx="390.8" cy="194.2" r="0.72"/>
<circle cx="393.8" cy="225.5" r="0.72"/>
<circle cx="392.4" cy="163.0" r="0.72"/>
<circle cx="392.9" cy="179.4" r="0.72"/>
<circle cx="390.7" cy="172.2" r="0.72"/>
<circle cx="395.7" cy="201.8" r="0.72"/>
<circle cx="391.8" cy="218.0" r="0.72"/>
<circle cx="391.3" cy="237.5" r="0.72"/>
<circle cx="394.5" cy="218.6" r="0.72"/>
<circle cx="392.7" cy="222.4" r="0.72"/>
<circle cx="393.9" cy="223.8" r="0.72"/>
<circle cx="394.2" cy="172.5" r="0.72"/>
<circle cx="394.7" cy="224.1" r="0.72"/>
<circle cx="393.9" cy="164.8" r="0.72"/>
<circle cx="395.2" cy="233.2" r="0.72"/>
<circle cx="392.3" cy="171.6" r="0.72"/>
<circle cx="419.6" cy="81.3" r="0.72"/>
<circle cx="421.7" cy="80.5" r="0.72"/>
<circle cx="417.7" cy="123.5" r="0.72"/>
<circle cx="418.4" cy="131.1" r="0.72"/>
<circle cx="418.8" cy="87.1" r="0.72"/>
<circle cx="420.5" cy="123.6" r="0.72"/>
<circle cx="418.9" cy="91.5" r="0.72"/>
<circle cx="416.7" cy="83.0" r="0.72"/>
<circle cx="419.4" cy="102.9" r="0.72"/>
<circle cx="420.0" cy="103.2" r="0.72"/>
<circle cx="416.5" cy="88.1" r="0.72"/>
<circle cx="422.0" cy="72.2" r="0.72"/>
<circle cx="416.7" cy="116.3" r="0.72"/>
<circle cx="418.4" cy="117.6" r="0.72"/>
<circle cx="417.0" cy="113.6" r="0.72"/>
<circle cx="421.0" cy="82.8" r="0.72"/>
<circle cx="416.9" cy="80.8" r="0.72"/>
<circle cx="419.6" cy="81.5" r="0.72"/>
<circle cx="419.9" cy="111.4" r="0.72"/>
<circle cx="420.0" cy="121.8" r="0.72"/>
<circle cx="418.4" cy="99.5" r="0.72"/>
<circle cx="420.7" cy="88.0" r="0.72"/>
<circle cx="421.0" cy="106.4" r="0.72"/>
<circle cx="421.0" cy="85.1" r="0.72"/>
<circle cx="422.3" cy="108.4" r="0.72"/>
<circle cx="419.5" cy="106.5" r="0.72"/>
<circle cx="422.0" cy="83.8" r="0.72"/>
<circle cx="419.3" cy="85.7" r="0.72"/>
<circle cx="420.3" cy="85.6" r="0.72"/>
<circle cx="422.3" cy="85.0" r="0.72"/>
<circle cx="417.8" cy="110.7" r="0.72"/>
<circle cx="416.6" cy="86.7" r="0.72"/>
<circle cx="417.2" cy="97.9" r="0.72"/>
<circle cx="419.7" cy="72.4" r="0.72"/>
<circle cx="417.5" cy="81.2" r="0.72"/>
<circle cx="417.3" cy="75.2" r="0.72"/>
<circle cx="417.5" cy="95.8" r="0.72"/>
<circle cx="417.4" cy="91.3" r="0.72"/>
<circle cx="417.9" cy="64.4" r="0.72"/>
<circle cx="422.3" cy="82.7" r="0.72"/>
<circle cx="418.5" cy="122.9" r="0.72"/>
<circle cx="421.2" cy="86.8" r="0.72"/>
<circle cx="421.8" cy="108.6" r="0.72"/>
<circle cx="417.0" cy="84.0" r="0.72"/>
<circle cx="420.3" cy="87.9" r="0.72"/>
<circle cx="418.8" cy="96.2" r="0.72"/>
<circle cx="419.8" cy="83.9" r="0.72"/>
<circle cx="418.9" cy="93.6" r="0.72"/>
<circle cx="420.2" cy="59.1" r="0.72"/>
<circle cx="417.7" cy="116.6" r="0.72"/>
<circle cx="419.0" cy="87.1" r="0.72"/>
<circle cx="417.8" cy="76.6" r="0.72"/>
<circle cx="420.3" cy="80.4" r="0.72"/>
<circle cx="418.2" cy="65.6" r="0.72"/>
<circle cx="419.8" cy="77.7" r="0.72"/>
<circle cx="417.3" cy="87.5" r="0.72"/>
<circle cx="418.0" cy="69.5" r="0.72"/>
<circle cx="420.9" cy="125.7" r="0.72"/>
<circle cx="418.4" cy="82.1" r="0.72"/>
<circle cx="419.3" cy="105.4" r="0.72"/>
<circle cx="420.5" cy="80.8" r="0.72"/>
<circle cx="420.0" cy="96.4" r="0.72"/>
<circle cx="421.7" cy="118.8" r="0.72"/>
<circle cx="417.7" cy="81.9" r="0.72"/>
<circle cx="421.1" cy="77.6" r="0.72"/>
<circle cx="421.6" cy="102.9" r="0.72"/>
<circle cx="422.4" cy="76.0" r="0.72"/>
<circle cx="418.2" cy="62.9" r="0.72"/>
<circle cx="422.2" cy="80.6" r="0.72"/>
<circle cx="416.5" cy="85.9" r="0.72"/>
<circle cx="420.8" cy="80.5" r="0.72"/>
<circle cx="417.0" cy="94.5" r="0.72"/>
<circle cx="416.9" cy="77.1" r="0.72"/>
<circle cx="418.4" cy="69.5" r="0.72"/>
<circle cx="421.7" cy="68.6" r="0.72"/>
<circle cx="422.3" cy="106.6" r="0.72"/>
<circle cx="421.2" cy="77.5" r="0.72"/>
<circle cx="420.5" cy="84.9" r="0.72"/>
<circle cx="417.8" cy="71.7" r="0.72"/>
<circle cx="419.0" cy="83.2" r="0.72"/>
<circle cx="422.3" cy="84.8" r="0.72"/>
<circle cx="418.3" cy="85.3" r="0.72"/>
<circle cx="419.3" cy="82.1" r="0.72"/>
<circle cx="417.2" cy="95.8" r="0.72"/>
<circle cx="420.5" cy="101.2" r="0.72"/>
<circle cx="417.3" cy="83.3" r="0.72"/>
<circle cx="417.1" cy="89.1" r="0.72"/>
<circle cx="418.5" cy="116.7" r="0.72"/>
<circle cx="418.5" cy="86.2" r="0.72"/>
<circle cx="421.7" cy="79.4" r="0.72"/>
<circle cx="417.5" cy="89.3" r="0.72"/>
<circle cx="418.0" cy="107.0" r="0.72"/>
<circle cx="419.5" cy="83.3" r="0.72"/>
<circle cx="418.8" cy="85.3" r="0.72"/>
<circle cx="416.5" cy="109.5" r="0.72"/>
<circle cx="420.5" cy="95.3" r="0.72"/>
<circle cx="419.7" cy="105.1" r="0.72"/>
<circle cx="420.5" cy="113.0" r="0.72"/>
<circle cx="420.7" cy="60.2" r="0.72"/>
<circle cx="418.8" cy="92.6" r="0.72"/>
<circle cx="422.2" cy="97.9" r="0.72"/>
<circle cx="418.7" cy="74.4" r="0.72"/>
<circle cx="417.3" cy="106.5" r="0.72"/>
<circle cx="422.4" cy="78.0" r="0.72"/>
<circle cx="422.0" cy="68.9" r="0.72"/>
<circle cx="417.9" cy="86.3" r="0.72"/>
<circle cx="417.8" cy="105.8" r="0.72"/>
<circle cx="417.6" cy="102.7" r="0.72"/>
<circle cx="421.1" cy="68.0" r="0.72"/>
<circle cx="421.9" cy="70.0" r="0.72"/>
<circle cx="418.3" cy="67.6" r="0.72"/>
<circle cx="420.3" cy="80.7" r="0.72"/>
<circle cx="422.2" cy="107.9" r="0.72"/>
<circle cx="416.4" cy="93.6" r="0.72"/>
<circle cx="419.5" cy="88.1" r="0.72"/>
<circle cx="420.0" cy="136.6" r="0.72"/>
<circle cx="420.2" cy="77.3" r="0.72"/>
<circle cx="420.9" cy="87.5" r="0.72"/>
<circle cx="418.8" cy="115.9" r="0.72"/>
<circle cx="419.6" cy="72.5" r="0.72"/>
<circle cx="418.3" cy="115.8" r="0.72"/>
<circle cx="420.2" cy="111.7" r="0.72"/>
<circle cx="420.1" cy="104.3" r="0.72"/>
<circle cx="418.0" cy="91.7" r="0.72"/>
<circle cx="420.7" cy="74.3" r="0.72"/>
<circle cx="419.5" cy="102.5" r="0.72"/>
<circle cx="417.3" cy="104.6" r="0.72"/>
<circle cx="422.0" cy="85.5" r="0.72"/>
<circle cx="419.6" cy="117.3" r="0.72"/>
<circle cx="421.3" cy="92.4" r="0.72"/>
<circle cx="421.3" cy="86.3" r="0.72"/>
<circle cx="419.2" cy="78.8" r="0.72"/>
<circle cx="421.8" cy="117.1" r="0.72"/>
<circle cx="421.6" cy="123.6" r="0.72"/>
<circle cx="421.4" cy="74.4" r="0.72"/>
<circle cx="421.3" cy="83.4" r="0.72"/>
<circle cx="417.9" cy="81.4" r="0.72"/>
<circle cx="417.0" cy="81.6" r="0.72"/>
<circle cx="419.5" cy="115.3" r="0.72"/>
<circle cx="419.1" cy="68.3" r="0.72"/>
<circle cx="422.4" cy="75.6" r="0.72"/>
<circle cx="420.6" cy="79.9" r="0.72"/>
<circle cx="421.2" cy="114.4" r="0.72"/>
<circle cx="421.0" cy="82.2" r="0.72"/>
<circle cx="418.6" cy="75.2" r="0.72"/>
<circle cx="419.5" cy="70.8" r="0.72"/>
<circle cx="418.4" cy="85.9" r="0.72"/>
<circle cx="418.7" cy="74.2" r="0.72"/>
<circle cx="419.8" cy="78.1" r="0.72"/>
<circle cx="416.7" cy="85.9" r="0.72"/>
<circle cx="418.0" cy="77.8" r="0.72"/>
<circle cx="418.3" cy="68.0" r="0.72"/>
<circle cx="416.9" cy="85.6" r="0.72"/>
<circle cx="420.2" cy="61.9" r="0.72"/>
<circle cx="418.9" cy="81.3" r="0.72"/>
<circle cx="421.2" cy="100.1" r="0.72"/>
<circle cx="416.7" cy="104.9" r="0.72"/>
<circle cx="419.1" cy="103.4" r="0.72"/>
<circle cx="418.2" cy="113.8" r="0.72"/>
<circle cx="418.8" cy="71.5" r="0.72"/>
<circle cx="421.3" cy="145.5" r="0.72"/>
<circle cx="418.7" cy="148.5" r="0.72"/>
<circle cx="421.9" cy="146.2" r="0.72"/>
<circle cx="474.3" cy="239.1" r="0.72"/>
<circle cx="470.7" cy="238.5" r="0.72"/>
<circle cx="470.5" cy="238.6" r="0.72"/>
<circle cx="473.0" cy="239.2" r="0.72"/>
<circle cx="471.7" cy="238.9" r="0.72"/>
<circle cx="473.9" cy="238.8" r="0.72"/>
<circle cx="468.7" cy="238.4" r="0.72"/>
<circle cx="471.3" cy="238.7" r="0.72"/>
<circle cx="473.5" cy="238.8" r="0.72"/>
<circle cx="471.3" cy="238.9" r="0.72"/>
<circle cx="471.1" cy="235.8" r="0.72"/>
<circle cx="471.6" cy="238.8" r="0.72"/>
<circle cx="472.5" cy="237.0" r="0.72"/>
<circle cx="470.9" cy="238.5" r="0.72"/>
<circle cx="472.6" cy="239.3" r="0.72"/>
<circle cx="473.1" cy="238.7" r="0.72"/>
<circle cx="469.2" cy="238.1" r="0.72"/>
<circle cx="469.0" cy="239.1" r="0.72"/>
<circle cx="469.1" cy="237.2" r="0.72"/>
<circle cx="473.0" cy="239.2" r="0.72"/>
<circle cx="468.8" cy="238.7" r="0.72"/>
<circle cx="472.8" cy="238.6" r="0.72"/>
<circle cx="468.8" cy="238.8" r="0.72"/>
<circle cx="471.0" cy="238.6" r="0.72"/>
<circle cx="474.5" cy="238.7" r="0.72"/>
<circle cx="473.7" cy="237.2" r="0.72"/>
<circle cx="470.5" cy="239.1" r="0.72"/>
<circle cx="468.5" cy="238.7" r="0.72"/>
<circle cx="470.1" cy="221.9" r="0.72"/>
<circle cx="470.4" cy="239.0" r="0.72"/>
<circle cx="473.7" cy="239.0" r="0.72"/>
<circle cx="471.6" cy="238.7" r="0.72"/>
<circle cx="468.8" cy="238.9" r="0.72"/>
<circle cx="473.7" cy="239.0" r="0.72"/>
<circle cx="473.6" cy="237.5" r="0.72"/>
<circle cx="469.7" cy="239.0" r="0.72"/>
<circle cx="471.7" cy="239.2" r="0.72"/>
<circle cx="471.3" cy="238.9" r="0.72"/>
<circle cx="472.0" cy="238.8" r="0.72"/>
<circle cx="473.3" cy="238.9" r="0.72"/>
<circle cx="474.0" cy="239.1" r="0.72"/>
<circle cx="468.8" cy="238.7" r="0.72"/>
<circle cx="471.7" cy="239.0" r="0.72"/>
<circle cx="471.9" cy="238.9" r="0.72"/>
<circle cx="470.1" cy="239.0" r="0.72"/>
<circle cx="470.2" cy="237.6" r="0.72"/>
<circle cx="473.3" cy="238.5" r="0.72"/>
<circle cx="471.2" cy="238.7" r="0.72"/>
<circle cx="471.2" cy="234.3" r="0.72"/>
<circle cx="468.8" cy="236.0" r="0.72"/>
<circle cx="472.3" cy="238.8" r="0.72"/>
<circle cx="473.7" cy="239.2" r="0.72"/>
<circle cx="472.1" cy="239.2" r="0.72"/>
<circle cx="474.0" cy="239.1" r="0.72"/>
<circle cx="473.3" cy="238.7" r="0.72"/>
<circle cx="472.5" cy="238.8" r="0.72"/>
<circle cx="470.3" cy="238.6" r="0.72"/>
<circle cx="473.5" cy="239.1" r="0.72"/>
<circle cx="474.0" cy="239.1" r="0.72"/>
<circle cx="469.1" cy="239.1" r="0.72"/>
<circle cx="473.2" cy="239.2" r="0.72"/>
<circle cx="471.0" cy="232.1" r="0.72"/>
<circle cx="470.0" cy="238.6" r="0.72"/>
<circle cx="472.6" cy="235.5" r="0.72"/>
<circle cx="468.8" cy="239.1" r="0.72"/>
<circle cx="468.8" cy="238.6" r="0.72"/>
<circle cx="470.3" cy="236.8" r="0.72"/>
<circle cx="472.0" cy="239.1" r="0.72"/>
<circle cx="471.9" cy="239.0" r="0.72"/>
<circle cx="474.0" cy="239.1" r="0.72"/>
<circle cx="473.5" cy="239.0" r="0.72"/>
<circle cx="473.3" cy="239.1" r="0.72"/>
<circle cx="470.8" cy="227.9" r="0.72"/>
<circle cx="470.8" cy="239.3" r="0.72"/>
<circle cx="469.8" cy="238.6" r="0.72"/>
<circle cx="469.1" cy="238.7" r="0.72"/>
<circle cx="472.9" cy="238.8" r="0.72"/>
<circle cx="472.6" cy="238.8" r="0.72"/>
<circle cx="473.5" cy="239.2" r="0.72"/>
<circle cx="474.0" cy="239.2" r="0.72"/>
<circle cx="474.1" cy="216.7" r="0.72"/>
<circle cx="470.2" cy="238.7" r="0.72"/>
<circle cx="473.0" cy="238.9" r="0.72"/>
<circle cx="474.1" cy="238.8" r="0.72"/>
<circle cx="471.4" cy="239.2" r="0.72"/>
<circle cx="472.1" cy="236.3" r="0.72"/>
<circle cx="469.0" cy="238.7" r="0.72"/>
<circle cx="470.1" cy="239.2" r="0.72"/>
<circle cx="473.6" cy="235.7" r="0.72"/>
<circle cx="474.0" cy="239.1" r="0.72"/>
<circle cx="472.1" cy="239.3" r="0.72"/>
<circle cx="470.6" cy="229.8" r="0.72"/>
<circle cx="472.4" cy="233.0" r="0.72"/>
<circle cx="470.5" cy="239.2" r="0.72"/>
<circle cx="470.0" cy="238.8" r="0.72"/>
<circle cx="469.6" cy="238.5" r="0.72"/>
<circle cx="470.3" cy="237.8" r="0.72"/>
<circle cx="471.9" cy="239.2" r="0.72"/>
<circle cx="471.8" cy="239.2" r="0.72"/>
<circle cx="472.1" cy="237.8" r="0.72"/>
<circle cx="468.7" cy="238.8" r="0.72"/>
<circle cx="469.1" cy="238.8" r="0.72"/>
<circle cx="469.3" cy="238.6" r="0.72"/>
<circle cx="470.6" cy="238.7" r="0.72"/>
<circle cx="472.5" cy="238.9" r="0.72"/>
<circle cx="469.5" cy="239.1" r="0.72"/>
<circle cx="470.5" cy="233.4" r="0.72"/>
<circle cx="473.7" cy="236.7" r="0.72"/>
<circle cx="469.4" cy="238.8" r="0.72"/>
<circle cx="473.8" cy="239.2" r="0.72"/>
<circle cx="471.5" cy="239.2" r="0.72"/>
<circle cx="469.2" cy="238.7" r="0.72"/>
<circle cx="469.5" cy="238.8" r="0.72"/>
<circle cx="471.5" cy="238.7" r="0.72"/>
<circle cx="469.7" cy="238.9" r="0.72"/>
<circle cx="469.7" cy="238.9" r="0.72"/>
<circle cx="469.9" cy="239.2" r="0.72"/>
<circle cx="471.5" cy="236.1" r="0.72"/>
<circle cx="468.6" cy="235.8" r="0.72"/>
<circle cx="471.4" cy="233.1" r="0.72"/>
<circle cx="471.9" cy="237.7" r="0.72"/>
<circle cx="469.9" cy="238.6" r="0.72"/>
<circle cx="469.4" cy="238.5" r="0.72"/>
<circle cx="468.7" cy="239.0" r="0.72"/>
<circle cx="471.6" cy="238.9" r="0.72"/>
<circle cx="473.8" cy="239.0" r="0.72"/>
<circle cx="472.0" cy="239.2" r="0.72"/>
<circle cx="472.1" cy="239.1" r="0.72"/>
<circle cx="472.8" cy="237.8" r="0.72"/>
<circle cx="470.0" cy="239.2" r="0.72"/>
<circle cx="474.4" cy="238.7" r="0.72"/>
<circle cx="472.2" cy="239.3" r="0.72"/>
<circle cx="473.4" cy="238.6" r="0.72"/>
<circle cx="473.4" cy="238.9" r="0.72"/>
<circle cx="474.0" cy="238.8" r="0.72"/>
<circle cx="474.1" cy="239.3" r="0.72"/>
<circle cx="470.9" cy="238.9" r="0.72"/>
<circle cx="470.0" cy="239.2" r="0.72"/>
<circle cx="472.6" cy="238.5" r="0.72"/>
<circle cx="470.6" cy="239.1" r="0.72"/>
<circle cx="469.7" cy="239.2" r="0.72"/>
<circle cx="470.5" cy="239.1" r="0.72"/>
<circle cx="474.5" cy="228.6" r="0.72"/>
<circle cx="471.4" cy="237.7" r="0.72"/>
<circle cx="473.2" cy="238.8" r="0.72"/>
<circle cx="473.0" cy="235.4" r="0.72"/>
<circle cx="469.7" cy="238.6" r="0.72"/>
<circle cx="473.6" cy="238.6" r="0.72"/>
<circle cx="469.1" cy="237.8" r="0.72"/>
<circle cx="470.6" cy="238.5" r="0.72"/>
<circle cx="474.3" cy="239.1" r="0.72"/>
<circle cx="473.0" cy="238.6" r="0.72"/>
<circle cx="473.5" cy="239.2" r="0.72"/>
<circle cx="473.9" cy="234.0" r="0.72"/>
<circle cx="473.5" cy="238.5" r="0.72"/>
<circle cx="472.0" cy="237.5" r="0.72"/>
<circle cx="473.5" cy="238.8" r="0.72"/>
<circle cx="473.7" cy="237.8" r="0.72"/>
<circle cx="474.3" cy="239.0" r="0.72"/>
<circle cx="474.2" cy="238.7" r="0.72"/>
<circle cx="474.3" cy="239.2" r="0.72"/>
<circle cx="470.0" cy="237.8" r="0.72"/>
<circle cx="469.9" cy="236.8" r="0.72"/>
<circle cx="471.2" cy="239.1" r="0.72"/>
<circle cx="471.5" cy="239.0" r="0.72"/>
<circle cx="472.6" cy="235.4" r="0.72"/>
<circle cx="470.9" cy="238.5" r="0.72"/>
<circle cx="473.3" cy="237.8" r="0.72"/>
<circle cx="474.2" cy="238.6" r="0.72"/>
<circle cx="470.9" cy="237.0" r="0.72"/>
<circle cx="472.4" cy="239.2" r="0.72"/>
<circle cx="470.5" cy="236.8" r="0.72"/>
<circle cx="473.5" cy="238.7" r="0.72"/>
<circle cx="468.5" cy="237.7" r="0.72"/>
<circle cx="468.6" cy="238.8" r="0.72"/>
<circle cx="473.4" cy="239.2" r="0.72"/>
<circle cx="472.1" cy="238.9" r="0.72"/>
<circle cx="470.5" cy="238.8" r="0.72"/>
<circle cx="470.6" cy="239.1" r="0.72"/>
<circle cx="472.2" cy="236.7" r="0.72"/>
<circle cx="469.0" cy="239.0" r="0.72"/>
<circle cx="472.7" cy="239.0" r="0.72"/>
<circle cx="472.5" cy="238.8" r="0.72"/>
<circle cx="469.2" cy="237.4" r="0.72"/>
<circle cx="468.7" cy="238.6" r="0.72"/>
<circle cx="469.6" cy="237.1" r="0.72"/>
<circle cx="474.2" cy="239.0" r="0.72"/>
<circle cx="469.8" cy="238.9" r="0.72"/>
<circle cx="472.2" cy="235.8" r="0.72"/>
<circle cx="470.9" cy="235.7" r="0.72"/>
<circle cx="474.2" cy="238.8" r="0.72"/>
<circle cx="474.4" cy="238.8" r="0.72"/>
<circle cx="473.5" cy="239.1" r="0.72"/>
<circle cx="471.7" cy="239.1" r="0.72"/>
<circle cx="469.6" cy="239.3" r="0.72"/>
<circle cx="471.2" cy="232.9" r="0.72"/>
<circle cx="470.0" cy="237.3" r="0.72"/>
<circle cx="469.1" cy="238.9" r="0.72"/>
<circle cx="473.7" cy="238.7" r="0.72"/>
<circle cx="470.8" cy="238.8" r="0.72"/>
</g>
<text x="78.5" y="268.7" font-size="14.1" font-weight="bold" textLength="35.2" lengthAdjust="spacingAndGlyphs" stroke="#000" stroke-width="0.35" >CHOL</text>
<text x="166" y="268.7" font-size="14.1" font-weight="bold" textLength="29.5" lengthAdjust="spacingAndGlyphs" stroke="#000" stroke-width="0.35" >KICH</text>
<text x="244.4" y="268.7" font-size="14.1" font-weight="bold" textLength="29.3" lengthAdjust="spacingAndGlyphs" stroke="#000" stroke-width="0.35" >KIRC</text>
<text x="318.2" y="268.7" font-size="14.1" font-weight="bold" textLength="29.0" lengthAdjust="spacingAndGlyphs" stroke="#000" stroke-width="0.35" >KIRP</text>
<text x="399.5" y="268.7" font-size="14.1" font-weight="bold" textLength="27.7" lengthAdjust="spacingAndGlyphs" stroke="#000" stroke-width="0.35" >LICH</text>
<text x="479.3" y="268.7" font-size="14.1" font-weight="bold" textLength="33.9" lengthAdjust="spacingAndGlyphs" stroke="#000" stroke-width="0.35" >SARC</text>
<rect x="485.3" y="17" width="22.1" height="10.2" fill="#fd6464"/>
<rect x="485.3" y="31.9" width="22.1" height="9.8" fill="#808080"/>
<text x="431.3" y="30" font-size="13" font-weight="bold" textLength="41.6" lengthAdjust="spacingAndGlyphs" stroke="#000" stroke-width="0.35" >Tumor</text>
<text x="432.9" y="44" font-size="13" font-weight="bold" textLength="49" lengthAdjust="spacingAndGlyphs" stroke="#000" stroke-width="0.35" >Normal</text>
<rect x="35.7" y="278.7" width="506.8" height="243.1" fill="none" stroke="#808080" stroke-width="1.4"/>
<line x1="31.4" y1="512.9" x2="35.7" y2="512.9" stroke="#808080" stroke-width="1.2"/>
<line x1="31.4" y1="473.6" x2="35.7" y2="473.6" stroke="#808080" stroke-width="1.2"/>
<line x1="31.4" y1="434.2" x2="35.7" y2="434.2" stroke="#808080" stroke-width="1.2"/>
<line x1="31.4" y1="394.6" x2="35.7" y2="394.6" stroke="#808080" stroke-width="1.2"/>
<line x1="31.4" y1="355.5" x2="35.7" y2="355.5" stroke="#808080" stroke-width="1.2"/>
<line x1="31.4" y1="315.7" x2="35.7" y2="315.7" stroke="#808080" stroke-width="1.2"/>
<text x="18.4" y="516.6" font-size="10.4" fill="#000" stroke="#000" stroke-width="0.15" >0</text>
<text x="18.4" y="476.0" font-size="10.4" fill="#000" stroke="#000" stroke-width="0.15" >2</text>
<text x="18.2" y="435.6" font-size="10.4" fill="#000" stroke="#000" stroke-width="0.15" >4</text>
<text x="18.4" y="395.9" font-size="10.4" fill="#000" stroke="#000" stroke-width="0.15" >6</text>
<text x="18.4" y="355.3" font-size="10.4" fill="#000" stroke="#000" stroke-width="0.15" >8</text>
<text x="19.2" y="314.6" font-size="10.4" fill="#000" stroke="#000" stroke-width="0.15" textLength=10.7 lengthAdjust=spacingAndGlyphs>10</text>
<text transform="translate(15.8,467.7) rotate(-90)" font-size="12.8" font-weight="bold" textLength="155.3" lengthAdjust="spacingAndGlyphs" stroke="#000" stroke-width="0.3">Expression -log2 (TPM +1)</text>
<text x="34" y="299.8" font-size="20" font-weight="bold" textLength="25" lengthAdjust="spacingAndGlyphs" stroke="#000" stroke-width="0.35" >(b)</text>
<polyline points="93.8,387.5 93.8,314.9 109.48,314.9" fill="none" stroke="#7a7a7a" stroke-width="1.3"/>
<polyline points="116.92,314.9 132.8,314.9 132.8,320.4" fill="none" stroke="#7a7a7a" stroke-width="1.3"/>
<polygon points="113.20,312.20 114.04,314.04 116.05,314.27 114.56,315.64 114.96,317.63 113.20,316.63 111.44,317.63 111.84,315.64 110.35,314.27 112.36,314.04" fill="#ff1a1a"/>
<polyline points="210.8,337.5 210.8,332.4 226.78,332.4" fill="none" stroke="#7a7a7a" stroke-width="1.3"/>
<polyline points="234.22,332.4 250.2,332.4 250.2,357.2" fill="none" stroke="#7a7a7a" stroke-width="1.3"/>
<polygon points="230.50,329.70 231.34,331.54 233.35,331.77 231.86,333.14 232.26,335.13 230.50,334.13 228.74,335.13 229.14,333.14 227.65,331.77 229.66,331.54" fill="#ff1a1a"/>
<line x1="94.1" y1="494" x2="94.1" y2="505.1" stroke="#777" stroke-width="0.9" stroke-dasharray="1.7,2.3"/>
<line x1="94.1" y1="513.2" x2="94.1" y2="513.2" stroke="#777" stroke-width="0.9" stroke-dasharray="1.7,2.3"/>
<line x1="86.3" y1="494" x2="101.89999999999999" y2="494" stroke="#505050" stroke-width="0.85"/>
<line x1="86.3" y1="513.2" x2="101.89999999999999" y2="513.2" stroke="#505050" stroke-width="0.85"/>
<rect x="78.39999999999999" y="505.1" width="31.4" height="8.100000000000023" fill="#fd6464" stroke="#4a4a4a" stroke-width="0.85"/>
<line x1="78.39999999999999" y1="509.6" x2="109.8" y2="509.6" stroke="#000" stroke-width="2.2"/>
<line x1="133" y1="372.2" x2="133" y2="445.8" stroke="#777" stroke-width="0.9" stroke-dasharray="1.7,2.3"/>
<line x1="133" y1="496.6" x2="133" y2="513.0" stroke="#777" stroke-width="0.9" stroke-dasharray="1.7,2.3"/>
<line x1="125.4" y1="372.2" x2="140.6" y2="372.2" stroke="#505050" stroke-width="0.85"/>
<line x1="125.4" y1="513.0" x2="140.6" y2="513.0" stroke="#505050" stroke-width="0.85"/>
<rect x="117.3" y="445.8" width="31.4" height="50.80000000000001" fill="#808080" stroke="#4a4a4a" stroke-width="0.85"/>
<line x1="117.3" y1="477.4" x2="148.7" y2="477.4" stroke="#000" stroke-width="2.2"/>
<line x1="117.4" y1="513" x2="148.6" y2="513" stroke="#000" stroke-width="2"/>
<line x1="211" y1="391.4" x2="211" y2="453" stroke="#777" stroke-width="0.9" stroke-dasharray="1.7,2.3"/>
<line x1="211" y1="509.3" x2="211" y2="512.5" stroke="#777" stroke-width="0.9" stroke-dasharray="1.7,2.3"/>
<line x1="203" y1="391.4" x2="219" y2="391.4" stroke="#505050" stroke-width="0.85"/>
<line x1="203" y1="512.5" x2="219" y2="512.5" stroke="#505050" stroke-width="0.85"/>
<rect x="195.3" y="453" width="31.4" height="56.30000000000001" fill="#fd6464" stroke="#4a4a4a" stroke-width="0.85"/>
<line x1="195.3" y1="498.2" x2="226.7" y2="498.2" stroke="#000" stroke-width="2.2"/>
<line x1="250.1" y1="362.3" x2="250.1" y2="388.2" stroke="#777" stroke-width="0.9" stroke-dasharray="1.7,2.3"/>
<line x1="250.1" y1="418.1" x2="250.1" y2="442.5" stroke="#777" stroke-width="0.9" stroke-dasharray="1.7,2.3"/>
<line x1="242.5" y1="362.3" x2="257.7" y2="362.3" stroke="#505050" stroke-width="0.85"/>
<line x1="242.5" y1="442.5" x2="257.7" y2="442.5" stroke="#505050" stroke-width="0.85"/>
<rect x="234.4" y="388.2" width="31.4" height="29.900000000000034" fill="#808080" stroke="#4a4a4a" stroke-width="0.85"/>
<line x1="234.4" y1="400.9" x2="265.8" y2="400.9" stroke="#000" stroke-width="2.2"/>
<line x1="328.5" y1="494" x2="328.5" y2="503.3" stroke="#777" stroke-width="0.9" stroke-dasharray="1.7,2.3"/>
<line x1="328.5" y1="509.9" x2="328.5" y2="512.8" stroke="#777" stroke-width="0.9" stroke-dasharray="1.7,2.3"/>
<line x1="320.9" y1="494" x2="336.1" y2="494" stroke="#505050" stroke-width="0.85"/>
<line x1="320.9" y1="512.8" x2="336.1" y2="512.8" stroke="#505050" stroke-width="0.85"/>
<rect x="312.8" y="503.3" width="31.4" height="6.599999999999966" fill="#fd6464" stroke="#4a4a4a" stroke-width="0.85"/>
<line x1="312.8" y1="506.6" x2="344.2" y2="506.6" stroke="#000" stroke-width="2.0"/>
<line x1="367.8" y1="475.7" x2="367.8" y2="489.9" stroke="#777" stroke-width="0.9" stroke-dasharray="1.7,2.3"/>
<line x1="367.8" y1="500.1" x2="367.8" y2="512.8" stroke="#777" stroke-width="0.9" stroke-dasharray="1.7,2.3"/>
<line x1="359.8" y1="475.7" x2="375.8" y2="475.7" stroke="#505050" stroke-width="0.85"/>
<line x1="359.8" y1="512.8" x2="375.8" y2="512.8" stroke="#505050" stroke-width="0.85"/>
<rect x="352.1" y="489.9" width="31.4" height="10.200000000000045" fill="#808080" stroke="#4a4a4a" stroke-width="0.85"/>
<line x1="352.1" y1="495.4" x2="383.5" y2="495.4" stroke="#000" stroke-width="2.0"/>
<line x1="445.8" y1="298.1" x2="445.8" y2="367" stroke="#777" stroke-width="0.9" stroke-dasharray="1.7,2.3"/>
<line x1="445.8" y1="420.3" x2="445.8" y2="490.5" stroke="#777" stroke-width="0.9" stroke-dasharray="1.7,2.3"/>
<line x1="438.0" y1="298.1" x2="453.6" y2="298.1" stroke="#505050" stroke-width="0.85"/>
<line x1="438.0" y1="490.5" x2="453.6" y2="490.5" stroke="#505050" stroke-width="0.85"/>
<rect x="430.1" y="367" width="31.4" height="53.30000000000001" fill="#fd6464" stroke="#4a4a4a" stroke-width="0.85"/>
<line x1="430.1" y1="394.4" x2="461.5" y2="394.4" stroke="#000" stroke-width="2.2"/>
<line x1="485" y1="318.9" x2="485" y2="370.2" stroke="#777" stroke-width="0.9" stroke-dasharray="1.7,2.3"/>
<line x1="485" y1="414.4" x2="485" y2="461.3" stroke="#777" stroke-width="0.9" stroke-dasharray="1.7,2.3"/>
<line x1="477" y1="318.9" x2="493" y2="318.9" stroke="#505050" stroke-width="0.85"/>
<line x1="477" y1="461.3" x2="493" y2="461.3" stroke="#505050" stroke-width="0.85"/>
<rect x="469.3" y="370.2" width="31.4" height="44.19999999999999" fill="#808080" stroke="#4a4a4a" stroke-width="0.85"/>
<line x1="469.3" y1="389.5" x2="500.7" y2="389.5" stroke="#000" stroke-width="2.2"/>
<g fill="#111" fill-opacity="0.8">
<circle cx="96.9" cy="494.1" r="0.72"/>
<circle cx="91.1" cy="506.7" r="0.72"/>
<circle cx="93.7" cy="507.5" r="0.72"/>
<circle cx="93.1" cy="479.1" r="0.72"/>
<circle cx="95.0" cy="506.8" r="0.72"/>
<circle cx="94.3" cy="510.2" r="0.72"/>
<circle cx="97.0" cy="506.5" r="0.72"/>
<circle cx="93.1" cy="509.3" r="0.72"/>
<circle cx="91.0" cy="469.4" r="0.72"/>
<circle cx="95.4" cy="501.3" r="0.72"/>
<circle cx="93.7" cy="508.9" r="0.72"/>
<circle cx="96.8" cy="505.0" r="0.72"/>
<circle cx="95.8" cy="505.4" r="0.72"/>
<circle cx="92.9" cy="512.5" r="0.72"/>
<circle cx="97.3" cy="511.8" r="0.72"/>
<circle cx="91.6" cy="497.0" r="0.72"/>
<circle cx="94.6" cy="508.2" r="0.72"/>
<circle cx="93.3" cy="512.4" r="0.72"/>
<circle cx="95.1" cy="505.1" r="0.72"/>
<circle cx="95.9" cy="510.8" r="0.72"/>
<circle cx="94.4" cy="510.7" r="0.72"/>
<circle cx="97.4" cy="509.9" r="0.72"/>
<circle cx="96.2" cy="507.0" r="0.72"/>
<circle cx="93.3" cy="506.5" r="0.72"/>
<circle cx="95.6" cy="476.4" r="0.72"/>
<circle cx="92.5" cy="506.2" r="0.72"/>
<circle cx="94.6" cy="511.6" r="0.72"/>
<circle cx="96.2" cy="502.0" r="0.72"/>
<circle cx="91.6" cy="510.4" r="0.72"/>
<circle cx="96.7" cy="509.2" r="0.72"/>
<circle cx="95.8" cy="511.6" r="0.72"/>
<circle cx="92.8" cy="511.6" r="0.72"/>
<circle cx="92.7" cy="512.3" r="0.72"/>
<circle cx="97.4" cy="510.1" r="0.72"/>
<circle cx="91.9" cy="476.9" r="0.72"/>
<circle cx="97.2" cy="510.6" r="0.72"/>
<circle cx="92.8" cy="511.4" r="0.72"/>
<circle cx="91.4" cy="509.8" r="0.72"/>
<circle cx="93.4" cy="510.9" r="0.72"/>
<circle cx="97.3" cy="510.1" r="0.72"/>
<circle cx="92.0" cy="510.9" r="0.72"/>
<circle cx="93.8" cy="495.6" r="0.72"/>
<circle cx="95.1" cy="501.1" r="0.72"/>
<circle cx="92.8" cy="504.4" r="0.72"/>
<circle cx="95.9" cy="511.7" r="0.72"/>
<circle cx="94.5" cy="509.5" r="0.72"/>
<circle cx="95.9" cy="506.6" r="0.72"/>
<circle cx="93.1" cy="510.8" r="0.72"/>
<circle cx="94.3" cy="495.0" r="0.72"/>
<circle cx="95.0" cy="510.8" r="0.72"/>
<circle cx="96.0" cy="511.0" r="0.72"/>
<circle cx="96.4" cy="512.4" r="0.72"/>
<circle cx="93.1" cy="508.7" r="0.72"/>
<circle cx="92.5" cy="488.7" r="0.72"/>
<circle cx="91.1" cy="511.1" r="0.72"/>
<circle cx="95.9" cy="509.0" r="0.72"/>
<circle cx="93.5" cy="506.4" r="0.72"/>
<circle cx="91.4" cy="503.4" r="0.72"/>
<circle cx="95.1" cy="510.6" r="0.72"/>
<circle cx="95.0" cy="474.1" r="0.72"/>
<circle cx="96.0" cy="506.2" r="0.72"/>
<circle cx="97.2" cy="510.0" r="0.72"/>
<circle cx="93.0" cy="505.2" r="0.72"/>
<circle cx="96.2" cy="510.1" r="0.72"/>
<circle cx="91.9" cy="510.3" r="0.72"/>
<circle cx="94.3" cy="498.5" r="0.72"/>
<circle cx="95.3" cy="509.2" r="0.72"/>
<circle cx="91.5" cy="496.2" r="0.72"/>
<circle cx="91.1" cy="510.4" r="0.72"/>
<circle cx="94.1" cy="509.9" r="0.72"/>
<circle cx="95.3" cy="500.0" r="0.72"/>
<circle cx="93.4" cy="508.4" r="0.72"/>
<circle cx="92.5" cy="508.5" r="0.72"/>
<circle cx="96.1" cy="500.6" r="0.72"/>
<circle cx="91.7" cy="501.0" r="0.72"/>
<circle cx="95.9" cy="506.6" r="0.72"/>
<circle cx="96.9" cy="509.3" r="0.72"/>
<circle cx="95.8" cy="496.4" r="0.72"/>
<circle cx="95.1" cy="502.4" r="0.72"/>
<circle cx="91.5" cy="497.9" r="0.72"/>
<circle cx="95.5" cy="505.9" r="0.72"/>
<circle cx="92.5" cy="507.8" r="0.72"/>
<circle cx="94.8" cy="512.2" r="0.72"/>
<circle cx="92.5" cy="502.1" r="0.72"/>
<circle cx="92.2" cy="511.3" r="0.72"/>
<circle cx="95.3" cy="512.1" r="0.72"/>
<circle cx="96.2" cy="470.1" r="0.72"/>
<circle cx="95.5" cy="510.3" r="0.72"/>
<circle cx="96.5" cy="512.2" r="0.72"/>
<circle cx="90.6" cy="510.5" r="0.72"/>
<circle cx="91.6" cy="507.4" r="0.72"/>
<circle cx="91.0" cy="510.8" r="0.72"/>
<circle cx="94.5" cy="509.7" r="0.72"/>
<circle cx="90.9" cy="503.4" r="0.72"/>
<circle cx="91.4" cy="501.9" r="0.72"/>
<circle cx="95.0" cy="511.2" r="0.72"/>
<circle cx="92.9" cy="510.4" r="0.72"/>
<circle cx="92.1" cy="508.6" r="0.72"/>
<circle cx="92.1" cy="504.1" r="0.72"/>
<circle cx="96.3" cy="501.0" r="0.72"/>
<circle cx="90.8" cy="509.1" r="0.72"/>
<circle cx="90.8" cy="504.4" r="0.72"/>
<circle cx="93.6" cy="509.3" r="0.72"/>
<circle cx="95.0" cy="512.3" r="0.72"/>
<circle cx="94.7" cy="505.5" r="0.72"/>
<circle cx="94.2" cy="510.0" r="0.72"/>
<circle cx="92.2" cy="508.2" r="0.72"/>
<circle cx="97.6" cy="498.8" r="0.72"/>
<circle cx="97.3" cy="503.7" r="0.72"/>
<circle cx="97.5" cy="510.5" r="0.72"/>
<circle cx="93.9" cy="512.2" r="0.72"/>
<circle cx="93.8" cy="511.8" r="0.72"/>
<circle cx="95.6" cy="506.3" r="0.72"/>
<circle cx="93.0" cy="509.6" r="0.72"/>
<circle cx="93.4" cy="511.4" r="0.72"/>
<circle cx="92.0" cy="510.8" r="0.72"/>
<circle cx="94.2" cy="505.3" r="0.72"/>
<circle cx="92.0" cy="509.7" r="0.72"/>
<circle cx="92.0" cy="505.9" r="0.72"/>
<circle cx="94.5" cy="510.9" r="0.72"/>
<circle cx="97.4" cy="506.0" r="0.72"/>
<circle cx="97.2" cy="505.0" r="0.72"/>
<circle cx="95.7" cy="494.8" r="0.72"/>
<circle cx="91.0" cy="505.6" r="0.72"/>
<circle cx="90.7" cy="511.3" r="0.72"/>
<circle cx="95.7" cy="499.1" r="0.72"/>
<circle cx="92.4" cy="507.4" r="0.72"/>
<circle cx="91.7" cy="510.3" r="0.72"/>
<circle cx="97.5" cy="507.4" r="0.72"/>
<circle cx="90.9" cy="510.6" r="0.72"/>
<circle cx="93.1" cy="511.5" r="0.72"/>
<circle cx="96.2" cy="496.4" r="0.72"/>
<circle cx="91.3" cy="509.6" r="0.72"/>
<circle cx="91.7" cy="512.0" r="0.72"/>
<circle cx="93.9" cy="504.5" r="0.72"/>
<circle cx="97.0" cy="460.7" r="0.72"/>
<circle cx="93.9" cy="504.1" r="0.72"/>
<circle cx="91.5" cy="502.3" r="0.72"/>
<circle cx="94.5" cy="512.0" r="0.72"/>
<circle cx="92.1" cy="509.3" r="0.72"/>
<circle cx="90.7" cy="511.0" r="0.72"/>
<circle cx="95.6" cy="495.6" r="0.72"/>
<circle cx="97.5" cy="485.8" r="0.72"/>
<circle cx="95.7" cy="509.8" r="0.72"/>
<circle cx="96.3" cy="510.1" r="0.72"/>
<circle cx="91.5" cy="500.8" r="0.72"/>
<circle cx="92.1" cy="512.6" r="0.72"/>
<circle cx="93.3" cy="508.3" r="0.72"/>
<circle cx="96.4" cy="512.6" r="0.72"/>
<circle cx="93.8" cy="504.3" r="0.72"/>
<circle cx="96.8" cy="512.4" r="0.72"/>
<circle cx="91.1" cy="509.1" r="0.72"/>
<circle cx="95.0" cy="510.5" r="0.72"/>
<circle cx="94.0" cy="497.4" r="0.72"/>
<circle cx="92.0" cy="507.2" r="0.72"/>
<circle cx="96.9" cy="511.1" r="0.72"/>
<circle cx="91.3" cy="510.1" r="0.72"/>
<circle cx="91.5" cy="508.2" r="0.72"/>
<circle cx="93.8" cy="511.4" r="0.72"/>
<circle cx="95.1" cy="508.3" r="0.72"/>
<circle cx="93.7" cy="505.9" r="0.72"/>
<circle cx="95.7" cy="512.2" r="0.72"/>
<circle cx="93.9" cy="512.3" r="0.72"/>
<circle cx="95.3" cy="510.0" r="0.72"/>
<circle cx="92.3" cy="505.7" r="0.72"/>
<circle cx="95.4" cy="507.0" r="0.72"/>
<circle cx="91.6" cy="509.5" r="0.72"/>
<circle cx="94.8" cy="495.6" r="0.72"/>
<circle cx="92.3" cy="512.3" r="0.72"/>
<circle cx="92.2" cy="463.7" r="0.72"/>
<circle cx="96.1" cy="510.1" r="0.72"/>
<circle cx="95.0" cy="502.2" r="0.72"/>
<circle cx="90.9" cy="505.2" r="0.72"/>
<circle cx="97.4" cy="512.1" r="0.72"/>
<circle cx="90.9" cy="503.8" r="0.72"/>
<circle cx="92.3" cy="512.4" r="0.72"/>
<circle cx="92.1" cy="493.6" r="0.72"/>
<circle cx="97.1" cy="506.6" r="0.72"/>
<circle cx="97.0" cy="507.2" r="0.72"/>
<circle cx="91.7" cy="510.9" r="0.72"/>
<circle cx="95.9" cy="512.6" r="0.72"/>
<circle cx="97.4" cy="512.0" r="0.72"/>
<circle cx="91.9" cy="505.8" r="0.72"/>
<circle cx="91.7" cy="503.5" r="0.72"/>
<circle cx="91.3" cy="509.3" r="0.72"/>
<circle cx="96.8" cy="504.3" r="0.72"/>
<circle cx="90.6" cy="495.0" r="0.72"/>
<circle cx="94.5" cy="500.0" r="0.72"/>
<circle cx="94.1" cy="502.4" r="0.72"/>
<circle cx="94.8" cy="507.6" r="0.72"/>
<circle cx="91.1" cy="504.0" r="0.72"/>
<circle cx="94.4" cy="512.3" r="0.72"/>
<circle cx="93.4" cy="510.7" r="0.72"/>
<circle cx="95.8" cy="512.6" r="0.72"/>
<circle cx="96.4" cy="512.5" r="0.72"/>
<circle cx="93.8" cy="503.1" r="0.72"/>
<circle cx="95.2" cy="511.9" r="0.72"/>
<circle cx="93.6" cy="511.3" r="0.72"/>
<circle cx="97.4" cy="512.0" r="0.72"/>
<circle cx="93.1" cy="509.0" r="0.72"/>
<circle cx="95.7" cy="512.1" r="0.72"/>
<circle cx="96.5" cy="500.2" r="0.72"/>
<circle cx="93.2" cy="512.0" r="0.72"/>
<circle cx="95.9" cy="510.7" r="0.72"/>
<circle cx="94.8" cy="511.7" r="0.72"/>
<circle cx="96.0" cy="468.1" r="0.72"/>
<circle cx="91.1" cy="512.7" r="0.72"/>
<circle cx="95.4" cy="511.9" r="0.72"/>
<circle cx="94.2" cy="508.0" r="0.72"/>
<circle cx="93.5" cy="509.6" r="0.72"/>
<circle cx="95.1" cy="507.8" r="0.72"/>
<circle cx="95.7" cy="495.0" r="0.72"/>
<circle cx="97.0" cy="504.1" r="0.72"/>
<circle cx="95.6" cy="501.1" r="0.72"/>
<circle cx="95.4" cy="512.5" r="0.72"/>
<circle cx="93.6" cy="500.2" r="0.72"/>
<circle cx="91.9" cy="498.0" r="0.72"/>
<circle cx="93.7" cy="487.2" r="0.72"/>
<circle cx="92.4" cy="505.9" r="0.72"/>
<circle cx="93.0" cy="510.7" r="0.72"/>
<circle cx="91.3" cy="510.5" r="0.72"/>
<circle cx="97.5" cy="509.7" r="0.72"/>
<circle cx="97.1" cy="506.9" r="0.72"/>
<circle cx="96.5" cy="504.8" r="0.72"/>
<circle cx="95.9" cy="452.6" r="0.72"/>
<circle cx="92.3" cy="510.9" r="0.72"/>
<circle cx="90.7" cy="509.9" r="0.72"/>
<circle cx="96.8" cy="511.1" r="0.72"/>
<circle cx="92.9" cy="494.7" r="0.72"/>
<circle cx="96.0" cy="504.6" r="0.72"/>
<circle cx="96.2" cy="497.1" r="0.72"/>
<circle cx="91.3" cy="509.1" r="0.72"/>
<circle cx="92.8" cy="502.0" r="0.72"/>
<circle cx="93.2" cy="507.5" r="0.72"/>
<circle cx="97.4" cy="509.1" r="0.72"/>
<circle cx="94.3" cy="511.6" r="0.72"/>
<circle cx="94.4" cy="507.0" r="0.72"/>
<circle cx="93.5" cy="489.8" r="0.72"/>
<circle cx="95.4" cy="495.2" r="0.72"/>
<circle cx="91.2" cy="474.0" r="0.72"/>
<circle cx="92.6" cy="511.3" r="0.72"/>
<circle cx="90.7" cy="495.8" r="0.72"/>
<circle cx="95.6" cy="510.9" r="0.72"/>
<circle cx="91.8" cy="462.2" r="0.72"/>
<circle cx="95.4" cy="509.8" r="0.72"/>
<circle cx="95.8" cy="506.2" r="0.72"/>
<circle cx="92.3" cy="504.9" r="0.72"/>
<circle cx="90.8" cy="511.0" r="0.72"/>
<circle cx="92.1" cy="506.2" r="0.72"/>
<circle cx="97.4" cy="511.0" r="0.72"/>
<circle cx="94.7" cy="507.1" r="0.72"/>
<circle cx="94.8" cy="506.9" r="0.72"/>
<circle cx="92.7" cy="506.1" r="0.72"/>
<circle cx="91.1" cy="512.3" r="0.72"/>
<circle cx="93.1" cy="512.6" r="0.72"/>
<circle cx="91.4" cy="511.7" r="0.72"/>
<circle cx="97.4" cy="509.4" r="0.72"/>
<circle cx="92.5" cy="506.2" r="0.72"/>
<circle cx="91.8" cy="504.6" r="0.72"/>
<circle cx="92.7" cy="512.0" r="0.72"/>
<circle cx="95.4" cy="509.9" r="0.72"/>
<circle cx="95.7" cy="509.7" r="0.72"/>
<circle cx="97.1" cy="512.1" r="0.72"/>
<circle cx="96.4" cy="510.4" r="0.72"/>
<circle cx="96.4" cy="512.5" r="0.72"/>
<circle cx="96.6" cy="511.2" r="0.72"/>
<circle cx="95.3" cy="503.8" r="0.72"/>
<circle cx="90.7" cy="510.8" r="0.72"/>
<circle cx="96.9" cy="511.4" r="0.72"/>
<circle cx="95.2" cy="511.6" r="0.72"/>
<circle cx="95.2" cy="508.3" r="0.72"/>
<circle cx="91.6" cy="511.5" r="0.72"/>
<circle cx="97.5" cy="512.0" r="0.72"/>
<circle cx="95.2" cy="510.1" r="0.72"/>
<circle cx="92.2" cy="508.6" r="0.72"/>
<circle cx="90.7" cy="512.3" r="0.72"/>
<circle cx="91.5" cy="500.0" r="0.72"/>
<circle cx="93.1" cy="476.4" r="0.72"/>
<circle cx="91.6" cy="505.5" r="0.72"/>
<circle cx="92.4" cy="504.2" r="0.72"/>
<circle cx="94.3" cy="510.2" r="0.72"/>
<circle cx="92.3" cy="512.0" r="0.72"/>
<circle cx="92.6" cy="504.1" r="0.72"/>
<circle cx="96.0" cy="510.1" r="0.72"/>
<circle cx="92.0" cy="511.2" r="0.72"/>
<circle cx="93.3" cy="511.2" r="0.72"/>
<circle cx="95.1" cy="510.2" r="0.72"/>
<circle cx="96.7" cy="509.5" r="0.72"/>
<circle cx="95.2" cy="512.4" r="0.72"/>
<circle cx="92.2" cy="501.2" r="0.72"/>
<circle cx="93.7" cy="512.5" r="0.72"/>
<circle cx="93.8" cy="511.9" r="0.72"/>
<circle cx="91.3" cy="505.8" r="0.72"/>
<circle cx="94.0" cy="511.9" r="0.72"/>
<circle cx="92.2" cy="511.5" r="0.72"/>
<circle cx="91.4" cy="509.7" r="0.72"/>
<circle cx="93.1" cy="512.2" r="0.72"/>
<circle cx="97.2" cy="509.5" r="0.72"/>
<circle cx="91.1" cy="508.9" r="0.72"/>
<circle cx="95.8" cy="511.2" r="0.72"/>
<circle cx="96.7" cy="508.7" r="0.72"/>
<circle cx="96.6" cy="476.7" r="0.72"/>
<circle cx="97.2" cy="512.0" r="0.72"/>
<circle cx="92.3" cy="509.2" r="0.72"/>
<circle cx="96.7" cy="511.6" r="0.72"/>
<circle cx="91.2" cy="511.3" r="0.72"/>
<circle cx="97.1" cy="510.9" r="0.72"/>
<circle cx="95.7" cy="509.6" r="0.72"/>
<circle cx="93.8" cy="512.2" r="0.72"/>
<circle cx="92.0" cy="510.6" r="0.72"/>
<circle cx="93.1" cy="506.7" r="0.72"/>
<circle cx="97.5" cy="511.9" r="0.72"/>
<circle cx="91.9" cy="509.5" r="0.72"/>
<circle cx="95.2" cy="512.6" r="0.72"/>
<circle cx="90.8" cy="509.2" r="0.72"/>
<circle cx="95.8" cy="509.5" r="0.72"/>
<circle cx="92.2" cy="509.1" r="0.72"/>
<circle cx="94.8" cy="509.3" r="0.72"/>
<circle cx="91.6" cy="507.0" r="0.72"/>
<circle cx="97.2" cy="503.7" r="0.72"/>
<circle cx="96.6" cy="505.2" r="0.72"/>
<circle cx="96.9" cy="510.2" r="0.72"/>
<circle cx="92.2" cy="511.5" r="0.72"/>
<circle cx="96.9" cy="508.0" r="0.72"/>
<circle cx="92.1" cy="512.1" r="0.72"/>
<circle cx="93.7" cy="512.5" r="0.72"/>
<circle cx="91.9" cy="511.8" r="0.72"/>
<circle cx="94.7" cy="505.0" r="0.72"/>
<circle cx="93.4" cy="489.0" r="0.72"/>
<circle cx="90.7" cy="506.4" r="0.72"/>
<circle cx="92.2" cy="484.2" r="0.72"/>
<circle cx="94.2" cy="509.5" r="0.72"/>
<circle cx="94.0" cy="484.2" r="0.72"/>
<circle cx="94.9" cy="457.9" r="0.72"/>
<circle cx="96.4" cy="511.2" r="0.72"/>
<circle cx="97.6" cy="511.3" r="0.72"/>
<circle cx="92.2" cy="509.6" r="0.72"/>
<circle cx="92.9" cy="477.4" r="0.72"/>
<circle cx="93.0" cy="510.0" r="0.72"/>
<circle cx="90.8" cy="506.6" r="0.72"/>
<circle cx="91.7" cy="510.2" r="0.72"/>
<circle cx="90.6" cy="501.8" r="0.72"/>
<circle cx="92.4" cy="507.8" r="0.72"/>
<circle cx="94.5" cy="509.6" r="0.72"/>
<circle cx="91.6" cy="505.8" r="0.72"/>
<circle cx="91.4" cy="511.1" r="0.72"/>
<circle cx="91.6" cy="477.9" r="0.72"/>
<circle cx="94.3" cy="511.8" r="0.72"/>
<circle cx="96.8" cy="508.4" r="0.72"/>
<circle cx="92.2" cy="512.3" r="0.72"/>
<circle cx="94.7" cy="511.6" r="0.72"/>
<circle cx="93.5" cy="509.7" r="0.72"/>
<circle cx="95.2" cy="497.2" r="0.72"/>
<circle cx="97.3" cy="499.4" r="0.72"/>
<circle cx="97.2" cy="510.9" r="0.72"/>
<circle cx="91.0" cy="510.0" r="0.72"/>
<circle cx="91.3" cy="495.2" r="0.72"/>
<circle cx="92.6" cy="512.6" r="0.72"/>
<circle cx="97.4" cy="510.8" r="0.72"/>
<circle cx="93.5" cy="498.6" r="0.72"/>
<circle cx="96.5" cy="509.1" r="0.72"/>
<circle cx="95.2" cy="503.5" r="0.72"/>
<circle cx="91.4" cy="509.3" r="0.72"/>
<circle cx="95.2" cy="511.1" r="0.72"/>
<circle cx="96.2" cy="508.3" r="0.72"/>
<circle cx="97.3" cy="496.4" r="0.72"/>
<circle cx="91.1" cy="511.4" r="0.72"/>
<circle cx="94.6" cy="496.5" r="0.72"/>
<circle cx="95.4" cy="511.5" r="0.72"/>
<circle cx="92.3" cy="511.0" r="0.72"/>
<circle cx="94.3" cy="510.2" r="0.72"/>
<circle cx="91.1" cy="506.5" r="0.72"/>
<circle cx="95.0" cy="505.2" r="0.72"/>
<circle cx="95.3" cy="509.5" r="0.72"/>
<circle cx="90.7" cy="504.0" r="0.72"/>
<circle cx="95.3" cy="509.5" r="0.72"/>
<circle cx="95.1" cy="505.8" r="0.72"/>
<circle cx="97.3" cy="511.5" r="0.72"/>
<circle cx="92.2" cy="504.3" r="0.72"/>
<circle cx="97.3" cy="509.8" r="0.72"/>
<circle cx="93.5" cy="511.3" r="0.72"/>
<circle cx="96.9" cy="477.2" r="0.72"/>
<circle cx="95.7" cy="511.1" r="0.72"/>
<circle cx="95.2" cy="510.3" r="0.72"/>
<circle cx="91.5" cy="504.7" r="0.72"/>
<circle cx="92.1" cy="511.2" r="0.72"/>
<circle cx="90.8" cy="510.9" r="0.72"/>
<circle cx="93.4" cy="511.8" r="0.72"/>
<circle cx="91.1" cy="509.9" r="0.72"/>
<circle cx="97.2" cy="508.4" r="0.72"/>
<circle cx="93.1" cy="508.5" r="0.72"/>
<circle cx="93.7" cy="505.9" r="0.72"/>
<circle cx="94.0" cy="511.5" r="0.72"/>
<circle cx="95.3" cy="512.6" r="0.72"/>
<circle cx="93.2" cy="511.6" r="0.72"/>
<circle cx="96.0" cy="476.7" r="0.72"/>
<circle cx="95.1" cy="501.3" r="0.72"/>
<circle cx="95.5" cy="507.3" r="0.72"/>
<circle cx="92.0" cy="474.6" r="0.72"/>
<circle cx="92.7" cy="504.7" r="0.72"/>
<circle cx="96.4" cy="511.0" r="0.72"/>
<circle cx="96.5" cy="508.0" r="0.72"/>
<circle cx="94.7" cy="498.2" r="0.72"/>
<circle cx="90.7" cy="511.4" r="0.72"/>
<circle cx="95.7" cy="509.1" r="0.72"/>
<circle cx="91.1" cy="510.9" r="0.72"/>
<circle cx="91.8" cy="512.7" r="0.72"/>
<circle cx="90.6" cy="506.1" r="0.72"/>
<circle cx="92.5" cy="511.2" r="0.72"/>
<circle cx="97.5" cy="505.8" r="0.72"/>
<circle cx="91.4" cy="512.6" r="0.72"/>
<circle cx="97.4" cy="491.5" r="0.72"/>
<circle cx="92.9" cy="511.7" r="0.72"/>
<circle cx="92.8" cy="509.2" r="0.72"/>
<circle cx="94.0" cy="509.9" r="0.72"/>
<circle cx="91.0" cy="511.0" r="0.72"/>
<circle cx="91.7" cy="512.1" r="0.72"/>
<circle cx="95.0" cy="512.1" r="0.72"/>
<circle cx="92.4" cy="506.1" r="0.72"/>
<circle cx="95.7" cy="504.2" r="0.72"/>
<circle cx="94.0" cy="510.4" r="0.72"/>
<circle cx="97.1" cy="511.4" r="0.72"/>
<circle cx="91.0" cy="508.8" r="0.72"/>
<circle cx="95.4" cy="511.7" r="0.72"/>
<circle cx="95.6" cy="510.1" r="0.72"/>
<circle cx="96.2" cy="511.2" r="0.72"/>
<circle cx="91.3" cy="503.8" r="0.72"/>
<circle cx="91.9" cy="508.3" r="0.72"/>
<circle cx="96.2" cy="505.8" r="0.72"/>
<circle cx="92.2" cy="504.2" r="0.72"/>
<circle cx="95.2" cy="512.1" r="0.72"/>
<circle cx="91.6" cy="508.7" r="0.72"/>
<circle cx="94.7" cy="511.4" r="0.72"/>
<circle cx="95.0" cy="512.0" r="0.72"/>
<circle cx="92.4" cy="511.1" r="0.72"/>
<circle cx="94.3" cy="509.9" r="0.72"/>
<circle cx="90.8" cy="505.5" r="0.72"/>
<circle cx="92.1" cy="505.5" r="0.72"/>
<circle cx="95.1" cy="510.7" r="0.72"/>
<circle cx="94.9" cy="506.2" r="0.72"/>
<circle cx="92.0" cy="496.2" r="0.72"/>
<circle cx="95.2" cy="510.6" r="0.72"/>
<circle cx="91.7" cy="510.9" r="0.72"/>
<circle cx="96.0" cy="511.2" r="0.72"/>
<circle cx="95.6" cy="501.9" r="0.72"/>
<circle cx="96.2" cy="478.7" r="0.72"/>
<circle cx="92.8" cy="510.6" r="0.72"/>
<circle cx="91.0" cy="505.6" r="0.72"/>
<circle cx="91.2" cy="507.8" r="0.72"/>
<circle cx="94.2" cy="512.4" r="0.72"/>
<circle cx="97.1" cy="511.7" r="0.72"/>
<circle cx="93.8" cy="498.1" r="0.72"/>
<circle cx="91.4" cy="511.4" r="0.72"/>
<circle cx="94.2" cy="509.3" r="0.72"/>
<circle cx="95.6" cy="510.3" r="0.72"/>
<circle cx="96.0" cy="509.1" r="0.72"/>
<circle cx="91.1" cy="512.0" r="0.72"/>
<circle cx="94.0" cy="510.1" r="0.72"/>
<circle cx="95.3" cy="511.0" r="0.72"/>
<circle cx="92.8" cy="511.2" r="0.72"/>
<circle cx="95.6" cy="509.5" r="0.72"/>
<circle cx="93.2" cy="504.6" r="0.72"/>
<circle cx="97.1" cy="509.7" r="0.72"/>
<circle cx="94.9" cy="491.9" r="0.72"/>
<circle cx="93.8" cy="512.0" r="0.72"/>
<circle cx="92.6" cy="507.3" r="0.72"/>
<circle cx="97.5" cy="512.4" r="0.72"/>
<circle cx="91.5" cy="495.6" r="0.72"/>
<circle cx="94.9" cy="509.6" r="0.72"/>
<circle cx="91.1" cy="510.7" r="0.72"/>
<circle cx="96.0" cy="505.0" r="0.72"/>
<circle cx="91.2" cy="509.8" r="0.72"/>
<circle cx="91.3" cy="510.1" r="0.72"/>
<circle cx="91.0" cy="476.1" r="0.72"/>
<circle cx="96.0" cy="510.8" r="0.72"/>
<circle cx="91.3" cy="511.8" r="0.72"/>
<circle cx="91.7" cy="512.2" r="0.72"/>
<circle cx="96.4" cy="509.1" r="0.72"/>
<circle cx="91.8" cy="511.6" r="0.72"/>
<circle cx="93.6" cy="504.7" r="0.72"/>
<circle cx="91.5" cy="510.4" r="0.72"/>
<circle cx="97.4" cy="511.1" r="0.72"/>
<circle cx="92.4" cy="511.9" r="0.72"/>
<circle cx="96.8" cy="505.2" r="0.72"/>
<circle cx="93.9" cy="496.0" r="0.72"/>
<circle cx="94.8" cy="479.9" r="0.72"/>
<circle cx="93.9" cy="510.8" r="0.72"/>
<circle cx="95.7" cy="505.7" r="0.72"/>
<circle cx="92.0" cy="511.8" r="0.72"/>
<circle cx="91.3" cy="478.9" r="0.72"/>
<circle cx="93.0" cy="503.0" r="0.72"/>
<circle cx="92.4" cy="511.0" r="0.72"/>
<circle cx="97.5" cy="509.5" r="0.72"/>
<circle cx="96.6" cy="511.7" r="0.72"/>
<circle cx="91.8" cy="510.5" r="0.72"/>
<circle cx="93.0" cy="505.1" r="0.72"/>
<circle cx="93.5" cy="511.4" r="0.72"/>
<circle cx="96.6" cy="502.3" r="0.72"/>
<circle cx="90.7" cy="508.5" r="0.72"/>
<circle cx="94.8" cy="504.7" r="0.72"/>
<circle cx="97.3" cy="496.4" r="0.72"/>
<circle cx="96.5" cy="510.5" r="0.72"/>
<circle cx="92.5" cy="502.5" r="0.72"/>
<circle cx="93.2" cy="510.2" r="0.72"/>
<circle cx="93.2" cy="510.3" r="0.72"/>
<circle cx="92.2" cy="512.0" r="0.72"/>
<circle cx="93.5" cy="495.6" r="0.72"/>
<circle cx="96.8" cy="507.3" r="0.72"/>
<circle cx="92.3" cy="504.9" r="0.72"/>
<circle cx="96.2" cy="494.8" r="0.72"/>
<circle cx="95.7" cy="460.6" r="0.72"/>
<circle cx="96.3" cy="504.9" r="0.72"/>
<circle cx="95.2" cy="511.0" r="0.72"/>
<circle cx="96.5" cy="510.1" r="0.72"/>
<circle cx="94.4" cy="511.8" r="0.72"/>
<circle cx="96.3" cy="510.4" r="0.72"/>
<circle cx="96.5" cy="510.4" r="0.72"/>
<circle cx="96.8" cy="500.3" r="0.72"/>
<circle cx="97.2" cy="511.8" r="0.72"/>
<circle cx="95.3" cy="505.1" r="0.72"/>
<circle cx="90.9" cy="507.0" r="0.72"/>
<circle cx="94.4" cy="498.6" r="0.72"/>
<circle cx="93.0" cy="509.6" r="0.72"/>
<circle cx="96.1" cy="504.3" r="0.72"/>
<circle cx="92.1" cy="498.6" r="0.72"/>
<circle cx="92.3" cy="510.4" r="0.72"/>
<circle cx="92.9" cy="512.0" r="0.72"/>
<circle cx="96.2" cy="512.5" r="0.72"/>
<circle cx="91.1" cy="511.2" r="0.72"/>
<circle cx="95.8" cy="512.2" r="0.72"/>
<circle cx="93.8" cy="511.4" r="0.72"/>
<circle cx="96.2" cy="510.0" r="0.72"/>
<circle cx="92.8" cy="481.2" r="0.72"/>
<circle cx="96.9" cy="507.4" r="0.72"/>
<circle cx="96.9" cy="509.5" r="0.72"/>
<circle cx="92.8" cy="505.3" r="0.72"/>
<circle cx="94.6" cy="498.3" r="0.72"/>
<circle cx="94.7" cy="512.0" r="0.72"/>
<circle cx="94.2" cy="501.8" r="0.72"/>
<circle cx="93.5" cy="509.4" r="0.72"/>
<circle cx="95.3" cy="497.8" r="0.72"/>
<circle cx="93.1" cy="511.3" r="0.72"/>
<circle cx="97.3" cy="510.3" r="0.72"/>
<circle cx="91.5" cy="506.1" r="0.72"/>
<circle cx="90.8" cy="495.2" r="0.72"/>
<circle cx="93.6" cy="508.2" r="0.72"/>
<circle cx="93.6" cy="505.7" r="0.72"/>
<circle cx="94.3" cy="512.1" r="0.72"/>
<circle cx="96.1" cy="502.4" r="0.72"/>
<circle cx="92.2" cy="510.3" r="0.72"/>
<circle cx="96.2" cy="505.1" r="0.72"/>
<circle cx="96.8" cy="511.2" r="0.72"/>
<circle cx="93.6" cy="456.6" r="0.72"/>
<circle cx="95.6" cy="510.1" r="0.72"/>
<circle cx="92.0" cy="494.0" r="0.72"/>
<circle cx="92.9" cy="510.7" r="0.72"/>
<circle cx="91.9" cy="505.4" r="0.72"/>
<circle cx="94.1" cy="509.0" r="0.72"/>
<circle cx="91.6" cy="506.6" r="0.72"/>
<circle cx="97.6" cy="479.8" r="0.72"/>
<circle cx="96.2" cy="508.8" r="0.72"/>
<circle cx="97.0" cy="511.5" r="0.72"/>
<circle cx="95.9" cy="509.0" r="0.72"/>
<circle cx="93.1" cy="498.7" r="0.72"/>
<circle cx="92.1" cy="494.5" r="0.72"/>
<circle cx="94.1" cy="512.5" r="0.72"/>
<circle cx="96.9" cy="496.4" r="0.72"/>
<circle cx="94.2" cy="480.7" r="0.72"/>
<circle cx="94.5" cy="492.6" r="0.72"/>
<circle cx="95.0" cy="511.7" r="0.72"/>
<circle cx="93.6" cy="503.7" r="0.72"/>
<circle cx="92.4" cy="508.0" r="0.72"/>
<circle cx="93.5" cy="510.8" r="0.72"/>
<circle cx="93.9" cy="509.2" r="0.72"/>
<circle cx="90.6" cy="512.1" r="0.72"/>
<circle cx="95.6" cy="510.4" r="0.72"/>
<circle cx="92.3" cy="505.0" r="0.72"/>
<circle cx="94.2" cy="511.0" r="0.72"/>
<circle cx="94.8" cy="511.5" r="0.72"/>
<circle cx="92.0" cy="496.0" r="0.72"/>
<circle cx="95.6" cy="508.3" r="0.72"/>
<circle cx="95.6" cy="505.0" r="0.72"/>
<circle cx="92.5" cy="505.8" r="0.72"/>
<circle cx="97.1" cy="501.0" r="0.72"/>
<circle cx="97.2" cy="512.3" r="0.72"/>
<circle cx="91.2" cy="509.7" r="0.72"/>
<circle cx="96.2" cy="512.2" r="0.72"/>
<circle cx="91.6" cy="506.4" r="0.72"/>
<circle cx="95.1" cy="509.6" r="0.72"/>
<circle cx="93.0" cy="445.3" r="0.72"/>
<circle cx="92.3" cy="504.7" r="0.72"/>
<circle cx="91.7" cy="511.4" r="0.72"/>
<circle cx="94.9" cy="509.9" r="0.72"/>
<circle cx="91.7" cy="510.7" r="0.72"/>
<circle cx="91.2" cy="511.2" r="0.72"/>
<circle cx="92.8" cy="511.4" r="0.72"/>
<circle cx="91.9" cy="509.3" r="0.72"/>
<circle cx="93.7" cy="509.5" r="0.72"/>
<circle cx="94.0" cy="471.1" r="0.72"/>
<circle cx="93.9" cy="486.1" r="0.72"/>
<circle cx="94.7" cy="511.4" r="0.72"/>
<circle cx="91.8" cy="511.7" r="0.72"/>
<circle cx="95.5" cy="512.2" r="0.72"/>
<circle cx="93.4" cy="474.3" r="0.72"/>
<circle cx="93.6" cy="510.3" r="0.72"/>
<circle cx="95.4" cy="510.3" r="0.72"/>
<circle cx="91.7" cy="510.1" r="0.72"/>
<circle cx="94.6" cy="499.1" r="0.72"/>
<circle cx="96.5" cy="512.7" r="0.72"/>
<circle cx="93.1" cy="505.4" r="0.72"/>
<circle cx="97.0" cy="507.4" r="0.72"/>
<circle cx="93.6" cy="510.0" r="0.72"/>
<circle cx="94.5" cy="510.7" r="0.72"/>
<circle cx="95.7" cy="506.7" r="0.72"/>
<circle cx="91.6" cy="483.7" r="0.72"/>
<circle cx="96.6" cy="510.2" r="0.72"/>
<circle cx="94.7" cy="504.2" r="0.72"/>
<circle cx="93.0" cy="506.5" r="0.72"/>
<circle cx="94.4" cy="486.1" r="0.72"/>
<circle cx="91.9" cy="510.0" r="0.72"/>
<circle cx="96.9" cy="511.9" r="0.72"/>
<circle cx="90.8" cy="504.0" r="0.72"/>
<circle cx="94.0" cy="510.5" r="0.72"/>
<circle cx="93.1" cy="509.4" r="0.72"/>
<circle cx="93.0" cy="496.7" r="0.72"/>
<circle cx="97.1" cy="509.1" r="0.72"/>
<circle cx="93.9" cy="507.2" r="0.72"/>
<circle cx="93.3" cy="510.5" r="0.72"/>
<circle cx="96.1" cy="507.8" r="0.72"/>
<circle cx="93.2" cy="510.9" r="0.72"/>
<circle cx="93.1" cy="510.1" r="0.72"/>
<circle cx="94.4" cy="495.3" r="0.72"/>
<circle cx="92.9" cy="510.8" r="0.72"/>
<circle cx="91.7" cy="502.4" r="0.72"/>
<circle cx="90.8" cy="506.2" r="0.72"/>
<circle cx="91.0" cy="511.4" r="0.72"/>
<circle cx="91.6" cy="503.6" r="0.72"/>
<circle cx="91.0" cy="511.2" r="0.72"/>
<circle cx="95.7" cy="510.9" r="0.72"/>
<circle cx="97.0" cy="505.6" r="0.72"/>
<circle cx="94.5" cy="485.0" r="0.72"/>
<circle cx="91.2" cy="494.6" r="0.72"/>
<circle cx="93.6" cy="494.4" r="0.72"/>
<circle cx="95.8" cy="511.4" r="0.72"/>
<circle cx="93.3" cy="499.5" r="0.72"/>
<circle cx="96.7" cy="512.1" r="0.72"/>
<circle cx="94.8" cy="504.9" r="0.72"/>
<circle cx="90.9" cy="469.0" r="0.72"/>
<circle cx="91.5" cy="512.3" r="0.72"/>
<circle cx="95.6" cy="512.6" r="0.72"/>
<circle cx="91.4" cy="507.4" r="0.72"/>
<circle cx="91.9" cy="511.6" r="0.72"/>
<circle cx="95.3" cy="507.8" r="0.72"/>
<circle cx="93.1" cy="472.9" r="0.72"/>
<circle cx="93.6" cy="467.9" r="0.72"/>
<circle cx="92.4" cy="510.1" r="0.72"/>
<circle cx="97.4" cy="511.1" r="0.72"/>
<circle cx="95.5" cy="451.2" r="0.72"/>
<circle cx="91.9" cy="511.5" r="0.72"/>
<circle cx="93.1" cy="511.7" r="0.72"/>
<circle cx="91.0" cy="505.3" r="0.72"/>
<circle cx="95.4" cy="509.1" r="0.72"/>
<circle cx="93.7" cy="512.5" r="0.72"/>
<circle cx="94.6" cy="504.2" r="0.72"/>
<circle cx="96.8" cy="509.7" r="0.72"/>
<circle cx="93.0" cy="508.0" r="0.72"/>
<circle cx="97.2" cy="510.0" r="0.72"/>
<circle cx="97.0" cy="499.4" r="0.72"/>
<circle cx="91.6" cy="508.8" r="0.72"/>
<circle cx="93.3" cy="511.5" r="0.72"/>
<circle cx="90.6" cy="506.2" r="0.72"/>
<circle cx="96.1" cy="503.8" r="0.72"/>
<circle cx="90.6" cy="509.2" r="0.72"/>
<circle cx="93.5" cy="504.0" r="0.72"/>
<circle cx="94.6" cy="506.6" r="0.72"/>
<circle cx="93.5" cy="505.4" r="0.72"/>
<circle cx="97.3" cy="478.0" r="0.72"/>
<circle cx="94.9" cy="494.1" r="0.72"/>
<circle cx="93.2" cy="510.6" r="0.72"/>
<circle cx="96.9" cy="510.9" r="0.72"/>
<circle cx="96.1" cy="504.2" r="0.72"/>
<circle cx="97.5" cy="502.4" r="0.72"/>
<circle cx="92.8" cy="506.2" r="0.72"/>
<circle cx="92.4" cy="504.8" r="0.72"/>
<circle cx="91.7" cy="507.8" r="0.72"/>
<circle cx="94.0" cy="499.6" r="0.72"/>
<circle cx="97.1" cy="510.8" r="0.72"/>
<circle cx="97.1" cy="512.1" r="0.72"/>
<circle cx="91.6" cy="504.9" r="0.72"/>
<circle cx="94.6" cy="504.8" r="0.72"/>
<circle cx="94.7" cy="495.8" r="0.72"/>
<circle cx="97.1" cy="509.8" r="0.72"/>
<circle cx="96.0" cy="512.1" r="0.72"/>
<circle cx="92.5" cy="512.0" r="0.72"/>
<circle cx="96.7" cy="511.9" r="0.72"/>
<circle cx="95.7" cy="509.7" r="0.72"/>
<circle cx="95.7" cy="511.0" r="0.72"/>
<circle cx="91.3" cy="507.0" r="0.72"/>
<circle cx="95.7" cy="509.4" r="0.72"/>
<circle cx="95.2" cy="511.3" r="0.72"/>
<circle cx="93.2" cy="510.8" r="0.72"/>
<circle cx="97.2" cy="494.8" r="0.72"/>
<circle cx="93.6" cy="444.6" r="0.72"/>
<circle cx="96.3" cy="508.6" r="0.72"/>
<circle cx="93.8" cy="504.8" r="0.72"/>
<circle cx="93.4" cy="499.1" r="0.72"/>
<circle cx="93.9" cy="483.3" r="0.72"/>
<circle cx="95.8" cy="511.9" r="0.72"/>
<circle cx="95.4" cy="511.7" r="0.72"/>
<circle cx="97.5" cy="512.3" r="0.72"/>
<circle cx="95.8" cy="509.1" r="0.72"/>
<circle cx="95.1" cy="511.8" r="0.72"/>
<circle cx="92.3" cy="510.2" r="0.72"/>
<circle cx="90.8" cy="502.9" r="0.72"/>
<circle cx="91.2" cy="509.5" r="0.72"/>
<circle cx="96.9" cy="500.0" r="0.72"/>
<circle cx="93.9" cy="512.5" r="0.72"/>
<circle cx="95.6" cy="509.5" r="0.72"/>
<circle cx="93.0" cy="505.4" r="0.72"/>
<circle cx="91.9" cy="492.5" r="0.72"/>
<circle cx="96.3" cy="511.8" r="0.72"/>
<circle cx="91.9" cy="511.9" r="0.72"/>
<circle cx="93.0" cy="509.3" r="0.72"/>
<circle cx="97.1" cy="511.6" r="0.72"/>
<circle cx="96.1" cy="509.5" r="0.72"/>
<circle cx="97.0" cy="511.0" r="0.72"/>
<circle cx="96.9" cy="511.2" r="0.72"/>
<circle cx="97.4" cy="507.7" r="0.72"/>
<circle cx="95.0" cy="504.6" r="0.72"/>
<circle cx="96.6" cy="509.1" r="0.72"/>
<circle cx="91.3" cy="509.7" r="0.72"/>
<circle cx="96.2" cy="495.3" r="0.72"/>
<circle cx="95.8" cy="506.4" r="0.72"/>
<circle cx="93.8" cy="511.1" r="0.72"/>
<circle cx="97.3" cy="502.2" r="0.72"/>
<circle cx="91.7" cy="494.5" r="0.72"/>
<circle cx="94.5" cy="506.3" r="0.72"/>
<circle cx="91.8" cy="510.0" r="0.72"/>
<circle cx="93.9" cy="511.8" r="0.72"/>
<circle cx="92.5" cy="509.4" r="0.72"/>
<circle cx="94.5" cy="510.2" r="0.72"/>
<circle cx="94.7" cy="504.8" r="0.72"/>
<circle cx="96.8" cy="511.6" r="0.72"/>
<circle cx="97.3" cy="510.2" r="0.72"/>
<circle cx="91.6" cy="466.5" r="0.72"/>
<circle cx="97.4" cy="508.4" r="0.72"/>
<circle cx="94.4" cy="510.1" r="0.72"/>
<circle cx="90.8" cy="510.6" r="0.72"/>
<circle cx="91.5" cy="511.3" r="0.72"/>
<circle cx="95.0" cy="510.8" r="0.72"/>
<circle cx="97.2" cy="508.7" r="0.72"/>
<circle cx="93.1" cy="506.3" r="0.72"/>
<circle cx="95.0" cy="483.7" r="0.72"/>
<circle cx="96.6" cy="509.0" r="0.72"/>
<circle cx="93.1" cy="506.6" r="0.72"/>
<circle cx="92.7" cy="507.9" r="0.72"/>
<circle cx="92.3" cy="473.1" r="0.72"/>
<circle cx="91.1" cy="471.1" r="0.72"/>
<circle cx="94.5" cy="512.6" r="0.72"/>
<circle cx="94.2" cy="511.3" r="0.72"/>
<circle cx="96.5" cy="511.9" r="0.72"/>
<circle cx="95.4" cy="506.6" r="0.72"/>
<circle cx="97.5" cy="494.3" r="0.72"/>
<circle cx="95.6" cy="506.4" r="0.72"/>
<circle cx="90.9" cy="512.7" r="0.72"/>
<circle cx="97.4" cy="509.8" r="0.72"/>
<circle cx="94.6" cy="510.6" r="0.72"/>
<circle cx="93.5" cy="512.6" r="0.72"/>
<circle cx="94.7" cy="496.1" r="0.72"/>
<circle cx="90.7" cy="502.1" r="0.72"/>
<circle cx="91.9" cy="511.3" r="0.72"/>
<circle cx="91.3" cy="501.5" r="0.72"/>
<circle cx="92.5" cy="492.9" r="0.72"/>
<circle cx="94.2" cy="497.8" r="0.72"/>
<circle cx="97.4" cy="510.5" r="0.72"/>
<circle cx="95.5" cy="510.0" r="0.72"/>
<circle cx="96.4" cy="512.2" r="0.72"/>
<circle cx="91.4" cy="466.7" r="0.72"/>
<circle cx="92.5" cy="505.1" r="0.72"/>
<circle cx="93.1" cy="511.7" r="0.72"/>
<circle cx="97.3" cy="506.8" r="0.72"/>
<circle cx="97.6" cy="453.3" r="0.72"/>
<circle cx="95.2" cy="507.5" r="0.72"/>
<circle cx="95.7" cy="511.6" r="0.72"/>
<circle cx="93.1" cy="509.0" r="0.72"/>
<circle cx="92.4" cy="496.3" r="0.72"/>
<circle cx="91.7" cy="511.7" r="0.72"/>
<circle cx="94.7" cy="511.7" r="0.72"/>
<circle cx="91.7" cy="503.9" r="0.72"/>
<circle cx="94.6" cy="509.3" r="0.72"/>
<circle cx="93.5" cy="508.8" r="0.72"/>
<circle cx="90.7" cy="509.0" r="0.72"/>
<circle cx="93.6" cy="512.3" r="0.72"/>
<circle cx="95.9" cy="511.1" r="0.72"/>
<circle cx="96.4" cy="511.1" r="0.72"/>
<circle cx="91.2" cy="511.1" r="0.72"/>
<circle cx="93.3" cy="509.5" r="0.72"/>
<circle cx="96.0" cy="510.4" r="0.72"/>
<circle cx="95.3" cy="511.2" r="0.72"/>
<circle cx="93.8" cy="501.3" r="0.72"/>
<circle cx="97.1" cy="509.3" r="0.72"/>
<circle cx="91.9" cy="507.9" r="0.72"/>
<circle cx="91.2" cy="512.2" r="0.72"/>
<circle cx="91.2" cy="510.5" r="0.72"/>
<circle cx="93.6" cy="507.0" r="0.72"/>
<circle cx="94.2" cy="510.6" r="0.72"/>
<circle cx="92.3" cy="490.5" r="0.72"/>
<circle cx="92.7" cy="511.7" r="0.72"/>
<circle cx="97.0" cy="510.5" r="0.72"/>
<circle cx="93.6" cy="505.9" r="0.72"/>
<circle cx="90.9" cy="511.6" r="0.72"/>
<circle cx="96.5" cy="511.9" r="0.72"/>
<circle cx="91.7" cy="507.0" r="0.72"/>
<circle cx="91.0" cy="507.5" r="0.72"/>
<circle cx="92.9" cy="509.3" r="0.72"/>
<circle cx="95.8" cy="512.0" r="0.72"/>
<circle cx="94.2" cy="505.7" r="0.72"/>
<circle cx="95.3" cy="511.6" r="0.72"/>
<circle cx="95.2" cy="509.8" r="0.72"/>
<circle cx="96.9" cy="512.1" r="0.72"/>
<circle cx="92.2" cy="512.7" r="0.72"/>
<circle cx="92.0" cy="510.0" r="0.72"/>
<circle cx="95.4" cy="512.1" r="0.72"/>
<circle cx="92.9" cy="453.5" r="0.72"/>
<circle cx="95.3" cy="510.9" r="0.72"/>
<circle cx="93.4" cy="511.2" r="0.72"/>
<circle cx="93.6" cy="506.2" r="0.72"/>
<circle cx="91.1" cy="511.7" r="0.72"/>
<circle cx="97.5" cy="509.0" r="0.72"/>
<circle cx="91.3" cy="494.8" r="0.72"/>
<circle cx="94.0" cy="509.3" r="0.72"/>
<circle cx="95.3" cy="511.4" r="0.72"/>
<circle cx="96.3" cy="509.4" r="0.72"/>
<circle cx="97.1" cy="510.7" r="0.72"/>
<circle cx="93.9" cy="502.9" r="0.72"/>
<circle cx="94.0" cy="511.7" r="0.72"/>
<circle cx="95.4" cy="511.8" r="0.72"/>
<circle cx="94.6" cy="506.1" r="0.72"/>
<circle cx="90.9" cy="469.3" r="0.72"/>
<circle cx="96.2" cy="505.7" r="0.72"/>
<circle cx="92.9" cy="511.9" r="0.72"/>
<circle cx="94.7" cy="512.3" r="0.72"/>
<circle cx="93.0" cy="505.5" r="0.72"/>
<circle cx="93.2" cy="506.1" r="0.72"/>
<circle cx="92.5" cy="505.8" r="0.72"/>
<circle cx="93.7" cy="468.3" r="0.72"/>
<circle cx="91.2" cy="512.7" r="0.72"/>
<circle cx="96.7" cy="505.5" r="0.72"/>
<circle cx="91.7" cy="507.3" r="0.72"/>
<circle cx="95.6" cy="498.5" r="0.72"/>
<circle cx="93.3" cy="511.9" r="0.72"/>
<circle cx="90.6" cy="506.6" r="0.72"/>
<circle cx="93.1" cy="512.4" r="0.72"/>
<circle cx="97.6" cy="498.3" r="0.72"/>
<circle cx="97.0" cy="510.6" r="0.72"/>
<circle cx="96.7" cy="504.3" r="0.72"/>
<circle cx="97.4" cy="508.2" r="0.72"/>
<circle cx="97.2" cy="507.1" r="0.72"/>
<circle cx="92.0" cy="508.7" r="0.72"/>
<circle cx="94.0" cy="509.2" r="0.72"/>
<circle cx="93.2" cy="510.4" r="0.72"/>
<circle cx="94.7" cy="509.3" r="0.72"/>
<circle cx="92.5" cy="511.2" r="0.72"/>
<circle cx="94.1" cy="509.3" r="0.72"/>
<circle cx="95.2" cy="509.9" r="0.72"/>
<circle cx="94.3" cy="511.5" r="0.72"/>
<circle cx="96.0" cy="510.8" r="0.72"/>
<circle cx="96.1" cy="505.9" r="0.72"/>
<circle cx="92.3" cy="509.2" r="0.72"/>
<circle cx="94.2" cy="494.3" r="0.72"/>
<circle cx="92.6" cy="510.2" r="0.72"/>
<circle cx="95.6" cy="510.0" r="0.72"/>
<circle cx="94.0" cy="502.6" r="0.72"/>
<circle cx="92.1" cy="505.4" r="0.72"/>
<circle cx="93.1" cy="509.7" r="0.72"/>
<circle cx="93.1" cy="510.6" r="0.72"/>
<circle cx="95.7" cy="504.9" r="0.72"/>
<circle cx="92.2" cy="511.3" r="0.72"/>
<circle cx="95.2" cy="504.3" r="0.72"/>
<circle cx="95.0" cy="506.5" r="0.72"/>
<circle cx="92.5" cy="506.1" r="0.72"/>
<circle cx="93.1" cy="512.3" r="0.72"/>
<circle cx="97.3" cy="512.5" r="0.72"/>
<circle cx="95.3" cy="509.2" r="0.72"/>
<circle cx="96.2" cy="474.5" r="0.72"/>
<circle cx="93.0" cy="511.2" r="0.72"/>
<circle cx="96.2" cy="512.0" r="0.72"/>
<circle cx="94.0" cy="505.3" r="0.72"/>
<circle cx="92.5" cy="510.2" r="0.72"/>
<circle cx="95.6" cy="509.4" r="0.72"/>
<circle cx="96.5" cy="496.7" r="0.72"/>
<circle cx="93.7" cy="498.8" r="0.72"/>
<circle cx="92.8" cy="509.9" r="0.72"/>
<circle cx="91.9" cy="470.4" r="0.72"/>
<circle cx="92.6" cy="511.6" r="0.72"/>
<circle cx="96.6" cy="494.6" r="0.72"/>
<circle cx="96.6" cy="510.5" r="0.72"/>
<circle cx="93.6" cy="497.0" r="0.72"/>
<circle cx="96.0" cy="511.4" r="0.72"/>
<circle cx="91.4" cy="510.2" r="0.72"/>
<circle cx="93.7" cy="496.1" r="0.72"/>
<circle cx="94.8" cy="510.0" r="0.72"/>
<circle cx="90.7" cy="511.0" r="0.72"/>
<circle cx="93.3" cy="510.1" r="0.72"/>
<circle cx="93.2" cy="512.6" r="0.72"/>
<circle cx="92.9" cy="504.8" r="0.72"/>
<circle cx="95.0" cy="506.4" r="0.72"/>
<circle cx="90.7" cy="511.4" r="0.72"/>
<circle cx="94.9" cy="506.5" r="0.72"/>
<circle cx="92.0" cy="510.7" r="0.72"/>
<circle cx="97.0" cy="499.7" r="0.72"/>
<circle cx="94.7" cy="511.1" r="0.72"/>
<circle cx="92.9" cy="508.5" r="0.72"/>
<circle cx="92.9" cy="512.5" r="0.72"/>
<circle cx="94.8" cy="507.1" r="0.72"/>
<circle cx="91.5" cy="509.3" r="0.72"/>
<circle cx="92.8" cy="511.3" r="0.72"/>
<circle cx="93.1" cy="509.9" r="0.72"/>
<circle cx="91.4" cy="496.1" r="0.72"/>
<circle cx="92.3" cy="463.9" r="0.72"/>
<circle cx="92.3" cy="499.6" r="0.72"/>
<circle cx="93.2" cy="508.3" r="0.72"/>
<circle cx="96.2" cy="512.4" r="0.72"/>
<circle cx="92.5" cy="503.2" r="0.72"/>
<circle cx="94.0" cy="504.5" r="0.72"/>
<circle cx="91.0" cy="463.6" r="0.72"/>
<circle cx="92.2" cy="510.1" r="0.72"/>
<circle cx="96.0" cy="507.5" r="0.72"/>
<circle cx="94.4" cy="500.8" r="0.72"/>
<circle cx="96.2" cy="510.1" r="0.72"/>
<circle cx="92.4" cy="512.0" r="0.72"/>
<circle cx="93.7" cy="504.9" r="0.72"/>
<circle cx="91.2" cy="455.4" r="0.72"/>
<circle cx="92.1" cy="509.6" r="0.72"/>
<circle cx="91.3" cy="512.7" r="0.72"/>
<circle cx="93.2" cy="512.1" r="0.72"/>
<circle cx="94.2" cy="509.8" r="0.72"/>
<circle cx="95.5" cy="510.8" r="0.72"/>
<circle cx="97.5" cy="509.2" r="0.72"/>
<circle cx="94.2" cy="511.6" r="0.72"/>
<circle cx="93.2" cy="509.4" r="0.72"/>
<circle cx="92.1" cy="499.3" r="0.72"/>
<circle cx="93.1" cy="498.0" r="0.72"/>
<circle cx="94.9" cy="510.4" r="0.72"/>
<circle cx="92.6" cy="508.7" r="0.72"/>
<circle cx="97.3" cy="512.1" r="0.72"/>
<circle cx="91.4" cy="510.2" r="0.72"/>
<circle cx="94.3" cy="506.9" r="0.72"/>
<circle cx="92.9" cy="510.5" r="0.72"/>
<circle cx="93.0" cy="500.5" r="0.72"/>
<circle cx="97.3" cy="509.9" r="0.72"/>
<circle cx="93.4" cy="510.3" r="0.72"/>
<circle cx="95.2" cy="511.6" r="0.72"/>
<circle cx="93.7" cy="506.7" r="0.72"/>
<circle cx="92.2" cy="510.0" r="0.72"/>
<circle cx="93.8" cy="504.2" r="0.72"/>
<circle cx="93.2" cy="501.5" r="0.72"/>
<circle cx="90.8" cy="505.3" r="0.72"/>
<circle cx="97.3" cy="511.2" r="0.72"/>
<circle cx="95.3" cy="506.4" r="0.72"/>
<circle cx="93.9" cy="509.4" r="0.72"/>
<circle cx="91.8" cy="511.4" r="0.72"/>
<circle cx="95.5" cy="507.1" r="0.72"/>
<circle cx="95.1" cy="511.0" r="0.72"/>
<circle cx="94.9" cy="511.8" r="0.72"/>
<circle cx="94.2" cy="511.5" r="0.72"/>
<circle cx="94.5" cy="510.6" r="0.72"/>
<circle cx="94.0" cy="511.8" r="0.72"/>
<circle cx="91.5" cy="507.7" r="0.72"/>
<circle cx="95.4" cy="510.6" r="0.72"/>
<circle cx="94.9" cy="509.0" r="0.72"/>
<circle cx="94.6" cy="504.4" r="0.72"/>
<circle cx="93.7" cy="511.2" r="0.72"/>
<circle cx="94.6" cy="501.7" r="0.72"/>
<circle cx="93.1" cy="504.9" r="0.72"/>
<circle cx="97.4" cy="509.7" r="0.72"/>
<circle cx="95.2" cy="502.3" r="0.72"/>
<circle cx="94.9" cy="512.0" r="0.72"/>
<circle cx="97.1" cy="512.5" r="0.72"/>
<circle cx="95.7" cy="471.6" r="0.72"/>
<circle cx="96.5" cy="510.9" r="0.72"/>
<circle cx="96.4" cy="511.5" r="0.72"/>
<circle cx="90.7" cy="509.2" r="0.72"/>
<circle cx="93.7" cy="497.1" r="0.72"/>
<circle cx="95.4" cy="501.7" r="0.72"/>
<circle cx="96.6" cy="509.1" r="0.72"/>
<circle cx="96.9" cy="511.3" r="0.72"/>
<circle cx="90.8" cy="510.4" r="0.72"/>
<circle cx="91.1" cy="510.4" r="0.72"/>
<circle cx="95.0" cy="512.2" r="0.72"/>
<circle cx="91.7" cy="511.9" r="0.72"/>
<circle cx="92.6" cy="510.7" r="0.72"/>
<circle cx="96.9" cy="494.8" r="0.72"/>
<circle cx="97.5" cy="498.6" r="0.72"/>
<circle cx="96.2" cy="509.7" r="0.72"/>
<circle cx="97.1" cy="510.8" r="0.72"/>
<circle cx="95.7" cy="503.2" r="0.72"/>
<circle cx="91.2" cy="511.2" r="0.72"/>
<circle cx="94.5" cy="494.4" r="0.72"/>
<circle cx="96.6" cy="507.8" r="0.72"/>
<circle cx="95.5" cy="511.7" r="0.72"/>
<circle cx="96.1" cy="509.6" r="0.72"/>
<circle cx="92.0" cy="509.6" r="0.72"/>
<circle cx="92.6" cy="479.9" r="0.72"/>
<circle cx="96.4" cy="505.1" r="0.72"/>
<circle cx="95.5" cy="511.0" r="0.72"/>
<circle cx="92.2" cy="510.0" r="0.72"/>
<circle cx="97.3" cy="511.2" r="0.72"/>
<circle cx="94.2" cy="510.2" r="0.72"/>
<circle cx="90.8" cy="509.3" r="0.72"/>
<circle cx="95.8" cy="504.9" r="0.72"/>
<circle cx="93.1" cy="498.2" r="0.72"/>
<circle cx="93.0" cy="511.3" r="0.72"/>
<circle cx="95.2" cy="505.4" r="0.72"/>
<circle cx="94.3" cy="510.0" r="0.72"/>
<circle cx="97.0" cy="511.7" r="0.72"/>
<circle cx="94.1" cy="509.5" r="0.72"/>
<circle cx="92.0" cy="504.3" r="0.72"/>
<circle cx="93.1" cy="505.6" r="0.72"/>
<circle cx="91.3" cy="503.0" r="0.72"/>
<circle cx="95.0" cy="510.8" r="0.72"/>
<circle cx="93.2" cy="509.5" r="0.72"/>
<circle cx="92.1" cy="508.4" r="0.72"/>
<circle cx="90.6" cy="509.8" r="0.72"/>
<circle cx="92.4" cy="504.0" r="0.72"/>
<circle cx="94.5" cy="501.6" r="0.72"/>
<circle cx="95.0" cy="508.0" r="0.72"/>
<circle cx="96.0" cy="511.9" r="0.72"/>
<circle cx="96.6" cy="510.7" r="0.72"/>
<circle cx="95.3" cy="504.3" r="0.72"/>
<circle cx="93.7" cy="502.8" r="0.72"/>
<circle cx="97.3" cy="506.5" r="0.72"/>
<circle cx="91.3" cy="511.4" r="0.72"/>
<circle cx="94.2" cy="509.9" r="0.72"/>
<circle cx="92.1" cy="511.7" r="0.72"/>
<circle cx="93.3" cy="498.9" r="0.72"/>
<circle cx="91.9" cy="511.7" r="0.72"/>
<circle cx="91.9" cy="508.5" r="0.72"/>
<circle cx="94.4" cy="509.5" r="0.72"/>
<circle cx="94.1" cy="509.7" r="0.72"/>
<circle cx="90.7" cy="501.2" r="0.72"/>
<circle cx="92.0" cy="494.0" r="0.72"/>
<circle cx="96.0" cy="512.4" r="0.72"/>
<circle cx="94.4" cy="508.6" r="0.72"/>
<circle cx="96.1" cy="511.2" r="0.72"/>
<circle cx="95.7" cy="510.6" r="0.72"/>
<circle cx="94.6" cy="511.2" r="0.72"/>
<circle cx="93.2" cy="507.0" r="0.72"/>
<circle cx="91.1" cy="509.5" r="0.72"/>
<circle cx="95.4" cy="507.1" r="0.72"/>
<circle cx="94.5" cy="511.7" r="0.72"/>
<circle cx="91.3" cy="505.3" r="0.72"/>
<circle cx="96.7" cy="501.0" r="0.72"/>
<circle cx="92.3" cy="512.4" r="0.72"/>
<circle cx="92.4" cy="512.1" r="0.72"/>
<circle cx="94.0" cy="512.1" r="0.72"/>
<circle cx="92.7" cy="511.0" r="0.72"/>
<circle cx="93.2" cy="509.6" r="0.72"/>
<circle cx="95.7" cy="504.2" r="0.72"/>
<circle cx="92.2" cy="511.9" r="0.72"/>
<circle cx="92.9" cy="512.6" r="0.72"/>
<circle cx="95.5" cy="512.0" r="0.72"/>
<circle cx="97.6" cy="504.4" r="0.72"/>
<circle cx="90.9" cy="511.3" r="0.72"/>
<circle cx="93.5" cy="504.9" r="0.72"/>
<circle cx="93.3" cy="493.4" r="0.72"/>
<circle cx="91.1" cy="510.6" r="0.72"/>
<circle cx="94.2" cy="484.5" r="0.72"/>
<circle cx="93.7" cy="509.7" r="0.72"/>
<circle cx="96.4" cy="504.6" r="0.72"/>
<circle cx="91.8" cy="509.5" r="0.72"/>
<circle cx="96.8" cy="510.0" r="0.72"/>
<circle cx="95.2" cy="510.0" r="0.72"/>
<circle cx="93.8" cy="508.8" r="0.72"/>
<circle cx="92.3" cy="508.5" r="0.72"/>
<circle cx="96.7" cy="508.9" r="0.72"/>
<circle cx="93.2" cy="512.2" r="0.72"/>
<circle cx="97.4" cy="497.8" r="0.72"/>
<circle cx="95.0" cy="512.6" r="0.72"/>
<circle cx="96.5" cy="507.4" r="0.72"/>
<circle cx="91.5" cy="509.5" r="0.72"/>
<circle cx="95.6" cy="510.7" r="0.72"/>
<circle cx="92.0" cy="505.4" r="0.72"/>
<circle cx="95.2" cy="507.1" r="0.72"/>
<circle cx="90.8" cy="506.8" r="0.72"/>
<circle cx="92.9" cy="509.7" r="0.72"/>
<circle cx="93.0" cy="508.1" r="0.72"/>
<circle cx="95.3" cy="511.8" r="0.72"/>
<circle cx="96.1" cy="510.8" r="0.72"/>
<circle cx="94.4" cy="510.6" r="0.72"/>
<circle cx="91.4" cy="503.4" r="0.72"/>
<circle cx="91.1" cy="505.4" r="0.72"/>
<circle cx="90.8" cy="490.7" r="0.72"/>
<circle cx="93.2" cy="505.5" r="0.72"/>
<circle cx="93.4" cy="511.5" r="0.72"/>
<circle cx="93.5" cy="509.3" r="0.72"/>
<circle cx="94.3" cy="511.9" r="0.72"/>
<circle cx="97.4" cy="510.7" r="0.72"/>
<circle cx="93.6" cy="510.1" r="0.72"/>
<circle cx="97.4" cy="511.2" r="0.72"/>
<circle cx="95" cy="392.5" r="0.8"/>
<circle cx="95.5" cy="432.5" r="0.8"/>
<circle cx="93" cy="447" r="0.8"/>
<circle cx="97" cy="449" r="0.8"/>
<circle cx="134.2" cy="491.1" r="0.72"/>
<circle cx="132.1" cy="420.4" r="0.72"/>
<circle cx="131.2" cy="444.2" r="0.72"/>
<circle cx="129.3" cy="505.6" r="0.72"/>
<circle cx="136.0" cy="481.3" r="0.72"/>
<circle cx="132.5" cy="499.6" r="0.72"/>
<circle cx="131.2" cy="441.9" r="0.72"/>
<circle cx="133.2" cy="502.9" r="0.72"/>
<circle cx="136.5" cy="483.1" r="0.72"/>
<circle cx="130.9" cy="400.5" r="0.72"/>
<circle cx="132.3" cy="469.7" r="0.72"/>
<circle cx="132.6" cy="510.5" r="0.72"/>
<circle cx="131.4" cy="394.9" r="0.72"/>
<circle cx="134.7" cy="466.5" r="0.72"/>
<circle cx="136.4" cy="508.6" r="0.72"/>
<circle cx="131.4" cy="505.7" r="0.72"/>
<circle cx="129.2" cy="450.1" r="0.72"/>
<circle cx="130.0" cy="487.0" r="0.72"/>
<circle cx="129.1" cy="479.4" r="0.72"/>
<circle cx="130.8" cy="503.0" r="0.72"/>
<circle cx="129.7" cy="507.5" r="0.72"/>
<circle cx="133.1" cy="500.2" r="0.72"/>
<circle cx="135.6" cy="503.9" r="0.72"/>
<circle cx="131.0" cy="483.8" r="0.72"/>
<circle cx="135.7" cy="497.2" r="0.72"/>
<circle cx="134.9" cy="509.7" r="0.72"/>
<circle cx="136.6" cy="506.4" r="0.72"/>
<circle cx="133.8" cy="484.4" r="0.72"/>
<circle cx="129.8" cy="411.0" r="0.72"/>
<circle cx="134.5" cy="508.6" r="0.72"/>
<circle cx="134.8" cy="466.3" r="0.72"/>
<circle cx="133.0" cy="494.5" r="0.72"/>
<circle cx="132.5" cy="500.7" r="0.72"/>
<circle cx="133.7" cy="494.2" r="0.72"/>
<circle cx="131.2" cy="492.8" r="0.72"/>
<circle cx="129.7" cy="459.4" r="0.72"/>
<circle cx="133.0" cy="430.1" r="0.72"/>
<circle cx="129.9" cy="498.0" r="0.72"/>
<circle cx="133.0" cy="476.3" r="0.72"/>
<circle cx="132.0" cy="449.7" r="0.72"/>
<circle cx="136.1" cy="484.1" r="0.72"/>
<circle cx="136.8" cy="494.8" r="0.72"/>
<circle cx="136.9" cy="402.0" r="0.72"/>
<circle cx="131.1" cy="386.4" r="0.72"/>
<circle cx="133.9" cy="426.0" r="0.72"/>
<circle cx="137.0" cy="499.6" r="0.72"/>
<circle cx="135.5" cy="458.7" r="0.72"/>
<circle cx="129.6" cy="470.1" r="0.72"/>
<circle cx="130.4" cy="411.0" r="0.72"/>
<circle cx="133.9" cy="495.9" r="0.72"/>
<circle cx="132.7" cy="500.2" r="0.72"/>
<circle cx="129.8" cy="450.4" r="0.72"/>
<circle cx="129.8" cy="457.1" r="0.72"/>
<circle cx="134.2" cy="479.3" r="0.72"/>
<circle cx="129.3" cy="453.7" r="0.72"/>
<circle cx="136.7" cy="500.4" r="0.72"/>
<circle cx="132.4" cy="485.8" r="0.72"/>
<circle cx="134.6" cy="487.0" r="0.72"/>
<circle cx="134.2" cy="447.0" r="0.72"/>
<circle cx="133.6" cy="484.9" r="0.72"/>
<circle cx="130.5" cy="475.5" r="0.72"/>
<circle cx="136.7" cy="384.5" r="0.72"/>
<circle cx="136.9" cy="437.4" r="0.72"/>
<circle cx="135.7" cy="480.0" r="0.72"/>
<circle cx="134.9" cy="497.2" r="0.72"/>
<circle cx="136.5" cy="450.2" r="0.72"/>
<circle cx="136.0" cy="420.2" r="0.72"/>
<circle cx="135.3" cy="495.2" r="0.72"/>
<circle cx="131.5" cy="479.3" r="0.72"/>
<circle cx="135.4" cy="487.5" r="0.72"/>
<circle cx="135.8" cy="417.3" r="0.72"/>
<circle cx="130.4" cy="456.0" r="0.72"/>
<circle cx="133.5" cy="502.7" r="0.72"/>
<circle cx="131.7" cy="499.0" r="0.72"/>
<circle cx="130.2" cy="506.1" r="0.72"/>
<circle cx="130.8" cy="450.0" r="0.72"/>
<circle cx="131.6" cy="415.7" r="0.72"/>
<circle cx="131.4" cy="415.4" r="0.72"/>
<circle cx="132.2" cy="495.3" r="0.72"/>
<circle cx="132.5" cy="511.9" r="0.72"/>
<circle cx="129.1" cy="486.6" r="0.72"/>
<circle cx="132.0" cy="411.5" r="0.72"/>
<circle cx="136.7" cy="512.7" r="0.72"/>
<circle cx="131.0" cy="498.0" r="0.72"/>
<circle cx="129.8" cy="511.1" r="0.72"/>
<circle cx="133.7" cy="450.9" r="0.72"/>
<circle cx="131.0" cy="476.9" r="0.72"/>
<circle cx="136.8" cy="493.8" r="0.72"/>
<circle cx="136.9" cy="487.2" r="0.72"/>
<circle cx="130.0" cy="403.8" r="0.72"/>
<circle cx="129.2" cy="415.6" r="0.72"/>
<circle cx="135.5" cy="450.7" r="0.72"/>
<circle cx="133.4" cy="452.7" r="0.72"/>
<circle cx="130.2" cy="426.5" r="0.72"/>
<circle cx="131.1" cy="472.4" r="0.72"/>
<circle cx="130.5" cy="485.1" r="0.72"/>
<circle cx="133.6" cy="451.1" r="0.72"/>
<circle cx="134.0" cy="436.8" r="0.72"/>
<circle cx="136.4" cy="464.9" r="0.72"/>
<circle cx="133.5" cy="426.6" r="0.72"/>
<circle cx="136.4" cy="490.8" r="0.72"/>
<circle cx="129.8" cy="487.3" r="0.72"/>
<circle cx="134.7" cy="490.2" r="0.72"/>
<circle cx="134.2" cy="390.0" r="0.72"/>
<circle cx="136.5" cy="456.9" r="0.72"/>
<circle cx="132.6" cy="437.2" r="0.72"/>
<circle cx="135.1" cy="480.3" r="0.72"/>
<circle cx="129.9" cy="491.4" r="0.72"/>
<circle cx="135.5" cy="462.3" r="0.72"/>
<circle cx="134.5" cy="496.7" r="0.72"/>
<circle cx="130.0" cy="402.0" r="0.72"/>
<circle cx="132.9" cy="504.0" r="0.72"/>
<circle cx="136.6" cy="490.1" r="0.72"/>
<circle cx="132.6" cy="490.1" r="0.72"/>
<circle cx="134.1" cy="432.5" r="0.72"/>
<circle cx="136.8" cy="501.5" r="0.72"/>
<circle cx="129.6" cy="501.5" r="0.72"/>
<circle cx="129.1" cy="481.0" r="0.72"/>
<circle cx="132.3" cy="478.9" r="0.72"/>
<circle cx="132.3" cy="383.0" r="0.72"/>
<circle cx="135.2" cy="415.1" r="0.72"/>
<circle cx="130.9" cy="466.5" r="0.72"/>
<circle cx="132.9" cy="492.4" r="0.72"/>
<circle cx="134.2" cy="485.5" r="0.72"/>
<circle cx="131.6" cy="476.7" r="0.72"/>
<circle cx="137.0" cy="463.9" r="0.72"/>
<circle cx="131.7" cy="499.7" r="0.72"/>
<circle cx="129.8" cy="511.9" r="0.72"/>
<circle cx="132.4" cy="509.1" r="0.72"/>
<circle cx="134.6" cy="419.2" r="0.72"/>
<circle cx="135.7" cy="379.3" r="0.72"/>
<circle cx="133.6" cy="466.5" r="0.72"/>
<circle cx="132.1" cy="511.9" r="0.72"/>
<circle cx="134.0" cy="495.7" r="0.72"/>
<circle cx="133.3" cy="508.5" r="0.72"/>
<circle cx="132.9" cy="487.0" r="0.72"/>
<circle cx="129.8" cy="484.7" r="0.72"/>
<circle cx="135.4" cy="448.1" r="0.72"/>
<circle cx="129.9" cy="465.0" r="0.72"/>
<circle cx="136.0" cy="464.9" r="0.72"/>
<circle cx="135.1" cy="373.0" r="0.72"/>
<circle cx="136.0" cy="509.8" r="0.72"/>
<circle cx="131.2" cy="456.5" r="0.72"/>
<circle cx="135.6" cy="393.5" r="0.72"/>
<circle cx="131.0" cy="401.2" r="0.72"/>
<circle cx="132.0" cy="467.7" r="0.72"/>
<circle cx="135.1" cy="493.1" r="0.72"/>
<circle cx="131.7" cy="462.7" r="0.72"/>
<circle cx="136.4" cy="472.0" r="0.72"/>
<circle cx="136.3" cy="469.0" r="0.72"/>
<circle cx="136.9" cy="469.1" r="0.72"/>
<circle cx="132.7" cy="510.8" r="0.72"/>
<circle cx="134.8" cy="470.8" r="0.72"/>
<circle cx="134.0" cy="378.5" r="0.72"/>
<circle cx="134.1" cy="479.1" r="0.72"/>
<circle cx="134.6" cy="473.2" r="0.72"/>
<circle cx="129.1" cy="385.2" r="0.72"/>
<circle cx="136.0" cy="491.2" r="0.72"/>
<circle cx="135.3" cy="508.9" r="0.72"/>
<circle cx="134.2" cy="510.7" r="0.72"/>
<circle cx="130.9" cy="430.3" r="0.72"/>
<circle cx="130.8" cy="486.5" r="0.72"/>
<circle cx="133.2" cy="451.5" r="0.72"/>
<circle cx="131.6" cy="464.1" r="0.72"/>
<circle cx="136.6" cy="466.4" r="0.72"/>
<circle cx="136.6" cy="436.8" r="0.72"/>
<circle cx="133.1" cy="496.8" r="0.72"/>
<circle cx="131.8" cy="486.2" r="0.72"/>
<circle cx="130.4" cy="429.4" r="0.72"/>
<circle cx="135.2" cy="470.0" r="0.72"/>
<circle cx="129.1" cy="388.8" r="0.72"/>
<circle cx="132.9" cy="495.0" r="0.72"/>
<circle cx="130.3" cy="388.5" r="0.72"/>
<circle cx="132.2" cy="417.9" r="0.72"/>
<circle cx="136.4" cy="471.4" r="0.72"/>
<circle cx="131.6" cy="508.6" r="0.72"/>
<circle cx="130.1" cy="502.7" r="0.72"/>
<circle cx="134.6" cy="492.5" r="0.72"/>
<circle cx="130.0" cy="467.2" r="0.72"/>
<circle cx="133.1" cy="430.0" r="0.72"/>
<circle cx="135.6" cy="503.5" r="0.72"/>
<circle cx="130.7" cy="424.0" r="0.72"/>
<circle cx="135.5" cy="387.5" r="0.72"/>
<circle cx="129.0" cy="497.9" r="0.72"/>
<circle cx="135.6" cy="409.7" r="0.72"/>
<circle cx="135.1" cy="506.4" r="0.72"/>
<circle cx="134.1" cy="438.7" r="0.72"/>
<circle cx="136.9" cy="420.4" r="0.72"/>
<circle cx="135.7" cy="490.6" r="0.72"/>
<circle cx="131.5" cy="393.2" r="0.72"/>
<circle cx="134.5" cy="454.2" r="0.72"/>
<circle cx="133.5" cy="415.4" r="0.72"/>
<circle cx="131.0" cy="494.6" r="0.72"/>
<circle cx="130.1" cy="472.0" r="0.72"/>
<circle cx="136.1" cy="412.1" r="0.72"/>
<circle cx="134.6" cy="497.1" r="0.72"/>
<circle cx="130.0" cy="455.5" r="0.72"/>
<circle cx="135.1" cy="437.1" r="0.72"/>
<circle cx="129.8" cy="492.3" r="0.72"/>
<circle cx="135.2" cy="494.2" r="0.72"/>
<circle cx="135.5" cy="480.0" r="0.72"/>
<circle cx="129.9" cy="502.4" r="0.72"/>
<circle cx="136.0" cy="489.0" r="0.72"/>
<circle cx="129.6" cy="502.3" r="0.72"/>
<circle cx="129.7" cy="444.9" r="0.72"/>
<circle cx="129.7" cy="456.2" r="0.72"/>
<circle cx="134.3" cy="496.8" r="0.72"/>
<circle cx="132.3" cy="407.8" r="0.72"/>
<circle cx="129.2" cy="481.3" r="0.72"/>
<circle cx="130.9" cy="489.6" r="0.72"/>
<circle cx="134.7" cy="433.9" r="0.72"/>
<circle cx="133.3" cy="435.2" r="0.72"/>
<circle cx="130.0" cy="452.2" r="0.72"/>
<circle cx="131.3" cy="486.2" r="0.72"/>
<circle cx="134.9" cy="494.1" r="0.72"/>
<circle cx="131.6" cy="498.9" r="0.72"/>
<circle cx="135.9" cy="494.1" r="0.72"/>
<circle cx="132.8" cy="459.9" r="0.72"/>
<circle cx="136.4" cy="486.6" r="0.72"/>
<circle cx="132.6" cy="387.6" r="0.72"/>
<circle cx="135.9" cy="469.0" r="0.72"/>
<circle cx="131.1" cy="496.1" r="0.72"/>
<circle cx="133.0" cy="506.1" r="0.72"/>
<circle cx="130.3" cy="440.1" r="0.72"/>
<circle cx="136.9" cy="482.6" r="0.72"/>
<circle cx="132.1" cy="478.8" r="0.72"/>
<circle cx="136.1" cy="418.3" r="0.72"/>
<circle cx="130.0" cy="486.9" r="0.72"/>
<circle cx="134.9" cy="460.1" r="0.72"/>
<circle cx="134.3" cy="392.5" r="0.72"/>
<circle cx="133.1" cy="492.2" r="0.72"/>
<circle cx="132.6" cy="493.7" r="0.72"/>
<circle cx="136.3" cy="479.8" r="0.72"/>
<circle cx="136.4" cy="397.9" r="0.72"/>
<circle cx="136.7" cy="479.1" r="0.72"/>
<circle cx="136.4" cy="503.8" r="0.72"/>
<circle cx="136.0" cy="459.7" r="0.72"/>
<circle cx="136.9" cy="484.1" r="0.72"/>
<circle cx="135.8" cy="511.1" r="0.72"/>
<circle cx="132.0" cy="424.4" r="0.72"/>
<circle cx="130.7" cy="421.6" r="0.72"/>
<circle cx="132.7" cy="445.0" r="0.72"/>
<circle cx="130.6" cy="484.2" r="0.72"/>
<circle cx="134.8" cy="430.4" r="0.72"/>
<circle cx="136.8" cy="507.0" r="0.72"/>
<circle cx="132.0" cy="498.4" r="0.72"/>
<circle cx="133.6" cy="484.0" r="0.72"/>
<circle cx="136.6" cy="402.7" r="0.72"/>
<circle cx="131.9" cy="460.6" r="0.72"/>
<circle cx="129.6" cy="505.8" r="0.72"/>
<circle cx="133.7" cy="475.0" r="0.72"/>
<circle cx="136.9" cy="481.5" r="0.72"/>
<circle cx="131.8" cy="484.0" r="0.72"/>
<circle cx="130.4" cy="483.7" r="0.72"/>
<circle cx="133.7" cy="387.6" r="0.72"/>
<circle cx="132.4" cy="472.0" r="0.72"/>
<circle cx="131.5" cy="496.6" r="0.72"/>
<circle cx="132.6" cy="477.9" r="0.72"/>
<circle cx="133.5" cy="375.3" r="0.72"/>
<circle cx="129.4" cy="499.4" r="0.72"/>
<circle cx="131.8" cy="502.4" r="0.72"/>
<circle cx="136.1" cy="435.8" r="0.72"/>
<circle cx="135.2" cy="497.5" r="0.72"/>
<circle cx="133.3" cy="481.9" r="0.72"/>
<circle cx="129.3" cy="473.2" r="0.72"/>
<circle cx="134.3" cy="508.4" r="0.72"/>
<circle cx="132.0" cy="453.5" r="0.72"/>
<circle cx="135.6" cy="393.8" r="0.72"/>
<circle cx="129.5" cy="492.6" r="0.72"/>
<circle cx="134.2" cy="470.7" r="0.72"/>
<circle cx="129.4" cy="498.2" r="0.72"/>
<circle cx="129.3" cy="478.4" r="0.72"/>
<circle cx="134.0" cy="447.5" r="0.72"/>
<circle cx="132.6" cy="494.4" r="0.72"/>
<circle cx="130.5" cy="497.7" r="0.72"/>
<circle cx="135.5" cy="501.0" r="0.72"/>
<circle cx="134.7" cy="481.0" r="0.72"/>
<circle cx="135.5" cy="489.1" r="0.72"/>
<circle cx="134.2" cy="465.3" r="0.72"/>
<circle cx="133.5" cy="485.6" r="0.72"/>
<circle cx="136.8" cy="500.4" r="0.72"/>
<circle cx="133.3" cy="455.6" r="0.72"/>
<circle cx="129.8" cy="459.9" r="0.72"/>
<circle cx="130.8" cy="490.1" r="0.72"/>
<circle cx="129.1" cy="417.2" r="0.72"/>
<circle cx="135.9" cy="481.7" r="0.72"/>
<circle cx="134.8" cy="435.8" r="0.72"/>
<circle cx="130.9" cy="492.6" r="0.72"/>
<circle cx="131.4" cy="451.6" r="0.72"/>
<circle cx="131.8" cy="449.2" r="0.72"/>
<circle cx="133.6" cy="442.5" r="0.72"/>
<circle cx="136.9" cy="425.7" r="0.72"/>
<circle cx="136.9" cy="486.7" r="0.72"/>
<circle cx="136.0" cy="512.1" r="0.72"/>
<circle cx="133.4" cy="510.8" r="0.72"/>
<circle cx="135.2" cy="486.0" r="0.72"/>
<circle cx="130.7" cy="491.6" r="0.72"/>
<circle cx="133.4" cy="435.3" r="0.72"/>
<circle cx="132.9" cy="444.1" r="0.72"/>
<circle cx="135.2" cy="510.3" r="0.72"/>
<circle cx="132.5" cy="325" r="0.8"/>
<circle cx="133" cy="330" r="0.8"/>
<circle cx="131" cy="355" r="0.8"/>
<circle cx="129" cy="368" r="0.8"/>
<circle cx="134" cy="360" r="0.8"/>
<circle cx="208.2" cy="343.3" r="0.7"/>
<circle cx="210.8" cy="509.7" r="0.72"/>
<circle cx="209.1" cy="512.7" r="0.72"/>
<circle cx="213.1" cy="468.3" r="0.72"/>
<circle cx="210.5" cy="473.5" r="0.72"/>
<circle cx="212.4" cy="456.1" r="0.72"/>
<circle cx="211.3" cy="509.9" r="0.72"/>
<circle cx="212.8" cy="480.5" r="0.72"/>
<circle cx="209.5" cy="510.0" r="0.72"/>
<circle cx="207.8" cy="505.2" r="0.72"/>
<circle cx="212.8" cy="504.9" r="0.72"/>
<circle cx="208.4" cy="484.2" r="0.72"/>
<circle cx="207.9" cy="456.3" r="0.72"/>
<circle cx="208.2" cy="452.7" r="0.72"/>
<circle cx="209.0" cy="511.4" r="0.72"/>
<circle cx="209.2" cy="495.5" r="0.72"/>
<circle cx="214.5" cy="420.0" r="0.72"/>
<circle cx="213.0" cy="507.8" r="0.72"/>
<circle cx="211.5" cy="462.8" r="0.72"/>
<circle cx="214.6" cy="509.1" r="0.72"/>
<circle cx="207.1" cy="402.1" r="0.72"/>
<circle cx="209.6" cy="505.7" r="0.72"/>
<circle cx="210.4" cy="510.0" r="0.72"/>
<circle cx="207.2" cy="416.5" r="0.72"/>
<circle cx="209.5" cy="431.9" r="0.72"/>
<circle cx="214.2" cy="512.5" r="0.72"/>
<circle cx="208.7" cy="508.3" r="0.72"/>
<circle cx="209.9" cy="511.1" r="0.72"/>
<circle cx="208.4" cy="511.1" r="0.72"/>
<circle cx="211.6" cy="509.3" r="0.72"/>
<circle cx="209.4" cy="500.6" r="0.72"/>
<circle cx="213.2" cy="493.5" r="0.72"/>
<circle cx="209.7" cy="457.7" r="0.72"/>
<circle cx="213.3" cy="411.6" r="0.72"/>
<circle cx="210.8" cy="487.0" r="0.72"/>
<circle cx="208.1" cy="505.8" r="0.72"/>
<circle cx="211.9" cy="419.6" r="0.72"/>
<circle cx="253.5" cy="432.8" r="0.72"/>
<circle cx="246.4" cy="373.9" r="0.72"/>
<circle cx="248.0" cy="390.6" r="0.72"/>
<circle cx="252.8" cy="399.1" r="0.72"/>
<circle cx="250.1" cy="411.2" r="0.72"/>
<circle cx="247.6" cy="392.4" r="0.72"/>
<circle cx="249.5" cy="394.4" r="0.72"/>
<circle cx="247.6" cy="364.1" r="0.72"/>
<circle cx="246.4" cy="390.0" r="0.72"/>
<circle cx="325.8" cy="509.6" r="0.72"/>
<circle cx="328.7" cy="511.0" r="0.72"/>
<circle cx="330.6" cy="510.7" r="0.72"/>
<circle cx="329.4" cy="511.6" r="0.72"/>
<circle cx="325.9" cy="498.1" r="0.72"/>
<circle cx="330.4" cy="510.3" r="0.72"/>
<circle cx="331.5" cy="507.0" r="0.72"/>
<circle cx="327.8" cy="508.7" r="0.72"/>
<circle cx="327.4" cy="491.9" r="0.72"/>
<circle cx="331.2" cy="489.4" r="0.72"/>
<circle cx="328.8" cy="510.5" r="0.72"/>
<circle cx="325.8" cy="494.4" r="0.72"/>
<circle cx="330.4" cy="498.7" r="0.72"/>
<circle cx="329.2" cy="503.3" r="0.72"/>
<circle cx="331.7" cy="511.6" r="0.72"/>
<circle cx="330.5" cy="511.6" r="0.72"/>
<circle cx="327.2" cy="503.7" r="0.72"/>
<circle cx="327.9" cy="504.2" r="0.72"/>
<circle cx="325.3" cy="503.3" r="0.72"/>
<circle cx="327.7" cy="494.8" r="0.72"/>
<circle cx="328.3" cy="500.8" r="0.72"/>
<circle cx="327.1" cy="500.4" r="0.72"/>
<circle cx="325.2" cy="506.0" r="0.72"/>
<circle cx="325.6" cy="506.7" r="0.72"/>
<circle cx="329.7" cy="498.2" r="0.72"/>
<circle cx="331.8" cy="507.6" r="0.72"/>
<circle cx="331.7" cy="494.2" r="0.72"/>
<circle cx="329.9" cy="511.8" r="0.72"/>
<circle cx="329.2" cy="503.6" r="0.72"/>
<circle cx="331.5" cy="512.5" r="0.72"/>
<circle cx="329.2" cy="507.4" r="0.72"/>
<circle cx="326.9" cy="500.3" r="0.72"/>
<circle cx="331.5" cy="512.4" r="0.72"/>
<circle cx="325.3" cy="509.6" r="0.72"/>
<circle cx="332.0" cy="511.2" r="0.72"/>
<circle cx="326.5" cy="503.4" r="0.72"/>
<circle cx="331.3" cy="511.1" r="0.72"/>
<circle cx="329.1" cy="504.4" r="0.72"/>
<circle cx="327.9" cy="511.2" r="0.72"/>
<circle cx="325.0" cy="494.2" r="0.72"/>
<circle cx="325.4" cy="507.7" r="0.72"/>
<circle cx="325.7" cy="480.6" r="0.72"/>
<circle cx="330.9" cy="493.0" r="0.72"/>
<circle cx="325.3" cy="503.5" r="0.72"/>
<circle cx="328.5" cy="504.0" r="0.72"/>
<circle cx="326.0" cy="506.7" r="0.72"/>
<circle cx="330.6" cy="506.4" r="0.72"/>
<circle cx="331.1" cy="511.2" r="0.72"/>
<circle cx="326.9" cy="507.7" r="0.72"/>
<circle cx="328.2" cy="510.0" r="0.72"/>
<circle cx="329.0" cy="504.7" r="0.72"/>
<circle cx="328.6" cy="496.8" r="0.72"/>
<circle cx="331.9" cy="506.4" r="0.72"/>
<circle cx="325.1" cy="510.3" r="0.72"/>
<circle cx="327.2" cy="508.9" r="0.72"/>
<circle cx="327.9" cy="511.3" r="0.72"/>
<circle cx="331.4" cy="512.3" r="0.72"/>
<circle cx="331.2" cy="506.8" r="0.72"/>
<circle cx="330.1" cy="504.0" r="0.72"/>
<circle cx="327.1" cy="502.9" r="0.72"/>
<circle cx="326.4" cy="503.6" r="0.72"/>
<circle cx="329.2" cy="505.9" r="0.72"/>
<circle cx="326.2" cy="502.1" r="0.72"/>
<circle cx="330.8" cy="508.7" r="0.72"/>
<circle cx="331.8" cy="500.8" r="0.72"/>
<circle cx="326.5" cy="511.4" r="0.72"/>
<circle cx="330.1" cy="511.5" r="0.72"/>
<circle cx="329.5" cy="503.4" r="0.72"/>
<circle cx="328.6" cy="501.9" r="0.72"/>
<circle cx="331.4" cy="505.8" r="0.72"/>
<circle cx="329.6" cy="504.6" r="0.72"/>
<circle cx="328.5" cy="505.4" r="0.72"/>
<circle cx="329.0" cy="503.0" r="0.72"/>
<circle cx="328.0" cy="511.3" r="0.72"/>
<circle cx="328.0" cy="507.6" r="0.72"/>
<circle cx="327.5" cy="505.8" r="0.72"/>
<circle cx="328.0" cy="508.0" r="0.72"/>
<circle cx="331.8" cy="508.3" r="0.72"/>
<circle cx="325.1" cy="511.7" r="0.72"/>
<circle cx="327.8" cy="503.7" r="0.72"/>
<circle cx="329.1" cy="507.3" r="0.72"/>
<circle cx="326.7" cy="508.4" r="0.72"/>
<circle cx="331.1" cy="512.5" r="0.72"/>
<circle cx="327.0" cy="494.5" r="0.72"/>
<circle cx="327.3" cy="507.1" r="0.72"/>
<circle cx="331.2" cy="512.0" r="0.72"/>
<circle cx="326.7" cy="499.3" r="0.72"/>
<circle cx="329.9" cy="509.8" r="0.72"/>
<circle cx="328.3" cy="501.1" r="0.72"/>
<circle cx="326.6" cy="508.1" r="0.72"/>
<circle cx="331.0" cy="501.1" r="0.72"/>
<circle cx="325.8" cy="498.3" r="0.72"/>
<circle cx="331.9" cy="505.4" r="0.72"/>
<circle cx="328.2" cy="503.8" r="0.72"/>
<circle cx="325.4" cy="511.1" r="0.72"/>
<circle cx="325.5" cy="503.5" r="0.72"/>
<circle cx="329.7" cy="500.6" r="0.72"/>
<circle cx="331.2" cy="506.9" r="0.72"/>
<circle cx="329.3" cy="494.8" r="0.72"/>
<circle cx="329.1" cy="511.6" r="0.72"/>
<circle cx="326.7" cy="507.6" r="0.72"/>
<circle cx="330.1" cy="495.0" r="0.72"/>
<circle cx="326.6" cy="511.3" r="0.72"/>
<circle cx="329.0" cy="508.7" r="0.72"/>
<circle cx="328.1" cy="508.9" r="0.72"/>
<circle cx="326.3" cy="500.4" r="0.72"/>
<circle cx="327.3" cy="503.7" r="0.72"/>
<circle cx="331.7" cy="494.3" r="0.72"/>
<circle cx="329.2" cy="508.9" r="0.72"/>
<circle cx="327.9" cy="511.5" r="0.72"/>
<circle cx="329.5" cy="505.0" r="0.72"/>
<circle cx="325.2" cy="508.7" r="0.72"/>
<circle cx="328.9" cy="511.3" r="0.72"/>
<circle cx="327.1" cy="510.8" r="0.72"/>
<circle cx="331.3" cy="505.0" r="0.72"/>
<circle cx="326.8" cy="506.4" r="0.72"/>
<circle cx="326.9" cy="505.5" r="0.72"/>
<circle cx="326.1" cy="501.8" r="0.72"/>
<circle cx="328.1" cy="509.7" r="0.72"/>
<circle cx="326.2" cy="495.9" r="0.72"/>
<circle cx="364.9" cy="503.0" r="0.72"/>
<circle cx="366.5" cy="501.9" r="0.72"/>
<circle cx="369.9" cy="497.4" r="0.72"/>
<circle cx="367.6" cy="497.2" r="0.72"/>
<circle cx="370.0" cy="497.3" r="0.72"/>
<circle cx="367.2" cy="480.0" r="0.72"/>
<circle cx="365.8" cy="478.8" r="0.72"/>
<circle cx="368.0" cy="474.7" r="0.72"/>
<circle cx="366.9" cy="491.4" r="0.72"/>
<circle cx="364.9" cy="499.7" r="0.72"/>
<circle cx="366.7" cy="481.2" r="0.72"/>
<circle cx="367.5" cy="491.0" r="0.72"/>
<circle cx="365.5" cy="494.8" r="0.72"/>
<circle cx="366.5" cy="503.8" r="0.72"/>
<circle cx="368.1" cy="491.4" r="0.72"/>
<circle cx="369.5" cy="512.6" r="0.72"/>
<circle cx="364.4" cy="496.7" r="0.72"/>
<circle cx="365.5" cy="499.9" r="0.72"/>
<circle cx="368.2" cy="485.2" r="0.72"/>
<circle cx="365.8" cy="498.7" r="0.72"/>
<circle cx="366.0" cy="499.3" r="0.72"/>
<circle cx="370.1" cy="498.3" r="0.72"/>
<circle cx="369.4" cy="487.4" r="0.72"/>
<circle cx="369.0" cy="481.2" r="0.72"/>
<circle cx="364.2" cy="507.0" r="0.72"/>
<circle cx="365.9" cy="504.4" r="0.72"/>
<circle cx="370.4" cy="494.8" r="0.72"/>
<circle cx="367.2" cy="493.5" r="0.72"/>
<circle cx="371.7" cy="500.5" r="0.72"/>
<circle cx="366.5" cy="489.7" r="0.72"/>
<circle cx="371.7" cy="510.4" r="0.72"/>
<circle cx="370.6" cy="500.0" r="0.72"/>
<circle cx="369.0" cy="506.8" r="0.72"/>
<circle cx="370.9" cy="498.1" r="0.72"/>
<circle cx="364.6" cy="499.2" r="0.72"/>
<circle cx="370.2" cy="502.7" r="0.72"/>
<circle cx="368.9" cy="474.6" r="0.72"/>
<circle cx="366.1" cy="491.4" r="0.72"/>
<circle cx="364.5" cy="499.7" r="0.72"/>
<circle cx="364.1" cy="473.9" r="0.72"/>
<circle cx="366.6" cy="492.9" r="0.72"/>
<circle cx="367.3" cy="503.3" r="0.72"/>
<circle cx="365.8" cy="478.2" r="0.72"/>
<circle cx="368.8" cy="504.4" r="0.72"/>
<circle cx="367.9" cy="491.9" r="0.72"/>
<circle cx="370.8" cy="503.6" r="0.72"/>
<circle cx="365.2" cy="507.1" r="0.72"/>
<circle cx="367.9" cy="500.5" r="0.72"/>
<circle cx="368.2" cy="495.8" r="0.72"/>
<circle cx="371.0" cy="490.4" r="0.72"/>
<circle cx="364.1" cy="496.0" r="0.72"/>
<circle cx="363.9" cy="484.7" r="0.72"/>
<circle cx="364.9" cy="498.8" r="0.72"/>
<circle cx="370.1" cy="493.2" r="0.72"/>
<circle cx="366.2" cy="506.2" r="0.72"/>
<circle cx="369.3" cy="483.4" r="0.72"/>
<circle cx="369.3" cy="507.2" r="0.72"/>
<circle cx="367.1" cy="487.1" r="0.72"/>
<circle cx="369.1" cy="504.9" r="0.72"/>
<circle cx="364.9" cy="498.8" r="0.72"/>
<circle cx="367.0" cy="504.4" r="0.72"/>
<circle cx="366.9" cy="506.3" r="0.72"/>
<circle cx="368.2" cy="494.3" r="0.72"/>
<circle cx="370.2" cy="497.2" r="0.72"/>
<circle cx="366.4" cy="508.3" r="0.72"/>
<circle cx="370.7" cy="478.1" r="0.72"/>
<circle cx="369.9" cy="478.9" r="0.72"/>
<circle cx="370.1" cy="494.6" r="0.72"/>
<circle cx="364.7" cy="493.8" r="0.72"/>
<circle cx="364.6" cy="500.0" r="0.72"/>
<circle cx="366.4" cy="481.8" r="0.72"/>
<circle cx="368.1" cy="497.1" r="0.72"/>
<circle cx="369.4" cy="507.6" r="0.72"/>
<circle cx="370.2" cy="487.0" r="0.72"/>
<circle cx="366.3" cy="481.4" r="0.72"/>
<circle cx="369.9" cy="505.4" r="0.72"/>
<circle cx="366.8" cy="491.1" r="0.72"/>
<circle cx="365.0" cy="498.3" r="0.72"/>
<circle cx="367.5" cy="484.6" r="0.72"/>
<circle cx="366.5" cy="485.9" r="0.72"/>
<circle cx="367.9" cy="498.8" r="0.72"/>
<circle cx="370.9" cy="490.0" r="0.72"/>
<circle cx="369.3" cy="498.2" r="0.72"/>
<circle cx="370.7" cy="497.2" r="0.72"/>
<circle cx="368.2" cy="489.2" r="0.72"/>
<circle cx="366.0" cy="498.0" r="0.72"/>
<circle cx="370.2" cy="481.2" r="0.72"/>
<circle cx="364.5" cy="499.1" r="0.72"/>
<circle cx="371.5" cy="502.9" r="0.72"/>
<circle cx="370.3" cy="510.7" r="0.72"/>
<circle cx="368.2" cy="494.8" r="0.72"/>
<circle cx="367.1" cy="494.5" r="0.72"/>
<circle cx="364.5" cy="494.1" r="0.72"/>
<circle cx="364.6" cy="478.9" r="0.72"/>
<circle cx="369.2" cy="505.7" r="0.72"/>
<circle cx="370.3" cy="492.3" r="0.72"/>
<circle cx="371.2" cy="491.2" r="0.72"/>
<circle cx="363.9" cy="510.1" r="0.72"/>
<circle cx="370.0" cy="500.8" r="0.72"/>
<circle cx="368.1" cy="505.0" r="0.72"/>
<circle cx="365.1" cy="488.6" r="0.72"/>
<circle cx="371.0" cy="494.8" r="0.72"/>
<circle cx="367.0" cy="490.0" r="0.72"/>
<circle cx="366.0" cy="495.8" r="0.72"/>
<circle cx="370.1" cy="476.3" r="0.72"/>
<circle cx="366.2" cy="491.4" r="0.72"/>
<circle cx="367.7" cy="490.3" r="0.72"/>
<circle cx="366.7" cy="486.8" r="0.72"/>
<circle cx="369.3" cy="481.4" r="0.72"/>
<circle cx="368.3" cy="496.3" r="0.72"/>
<circle cx="368.0" cy="486.4" r="0.72"/>
<circle cx="363.9" cy="476.3" r="0.72"/>
<circle cx="369.5" cy="480.4" r="0.72"/>
<circle cx="370.6" cy="495.6" r="0.72"/>
<circle cx="366.5" cy="505.2" r="0.72"/>
<circle cx="370.4" cy="490.7" r="0.72"/>
<circle cx="371.8" cy="497.8" r="0.72"/>
<circle cx="364.2" cy="492.1" r="0.72"/>
<circle cx="364.4" cy="506.5" r="0.72"/>
<circle cx="366.4" cy="493.9" r="0.72"/>
<circle cx="367.4" cy="499.9" r="0.72"/>
<circle cx="371.1" cy="508.8" r="0.72"/>
<circle cx="368.3" cy="484.2" r="0.72"/>
<circle cx="366.3" cy="496.4" r="0.72"/>
<circle cx="366.6" cy="493.1" r="0.72"/>
<circle cx="371.4" cy="475.0" r="0.72"/>
<circle cx="370.4" cy="490.4" r="0.72"/>
<circle cx="364.8" cy="508.9" r="0.72"/>
<circle cx="364.8" cy="498.3" r="0.72"/>
<circle cx="371.7" cy="496.9" r="0.72"/>
<circle cx="371.5" cy="484.4" r="0.72"/>
<circle cx="365.6" cy="501.5" r="0.72"/>
<circle cx="366.0" cy="511.5" r="0.72"/>
<circle cx="368.0" cy="509.9" r="0.72"/>
<circle cx="369.2" cy="499.1" r="0.72"/>
<circle cx="368.6" cy="494.1" r="0.72"/>
<circle cx="369.7" cy="499.2" r="0.72"/>
<circle cx="369.5" cy="491.2" r="0.72"/>
<circle cx="367.5" cy="495.9" r="0.72"/>
<circle cx="364.1" cy="499.4" r="0.72"/>
<circle cx="368.7" cy="496.0" r="0.72"/>
<circle cx="370.7" cy="503.3" r="0.72"/>
<circle cx="370.6" cy="481.6" r="0.72"/>
<circle cx="367.7" cy="485.6" r="0.72"/>
<circle cx="366.0" cy="503.8" r="0.72"/>
<circle cx="371.7" cy="490.2" r="0.72"/>
<circle cx="363.9" cy="507.1" r="0.72"/>
<circle cx="366.6" cy="498.2" r="0.72"/>
<circle cx="364.7" cy="493.3" r="0.72"/>
<circle cx="366.5" cy="483.8" r="0.72"/>
<circle cx="366.4" cy="479.7" r="0.72"/>
<circle cx="365.2" cy="499.1" r="0.72"/>
<circle cx="368.5" cy="476.0" r="0.72"/>
<circle cx="364.3" cy="485.0" r="0.72"/>
<circle cx="369.7" cy="494.5" r="0.72"/>
<circle cx="371.3" cy="474.0" r="0.72"/>
<circle cx="366.8" cy="507.5" r="0.72"/>
<circle cx="368.1" cy="472.2" r="0.72"/>
<circle cx="365.8" cy="476.5" r="0.72"/>
<circle cx="371.4" cy="511.4" r="0.72"/>
<circle cx="368.3" cy="499.8" r="0.72"/>
<circle cx="368.4" cy="498.0" r="0.72"/>
<circle cx="371.4" cy="478.0" r="0.72"/>
<circle cx="365.9" cy="481.7" r="0.72"/>
<circle cx="363.9" cy="485.3" r="0.72"/>
<circle cx="371.4" cy="497.0" r="0.72"/>
<circle cx="366.7" cy="500.0" r="0.72"/>
<circle cx="365.7" cy="493.6" r="0.72"/>
<circle cx="369.0" cy="490.8" r="0.72"/>
<circle cx="371.2" cy="507.9" r="0.72"/>
<circle cx="369.4" cy="509.1" r="0.72"/>
<circle cx="364.9" cy="498.3" r="0.72"/>
<circle cx="371.8" cy="508.8" r="0.72"/>
<circle cx="367.5" cy="486.7" r="0.72"/>
<circle cx="371.6" cy="487.0" r="0.72"/>
<circle cx="368.1" cy="478.5" r="0.72"/>
<circle cx="367.9" cy="499.6" r="0.72"/>
<circle cx="369.6" cy="474.3" r="0.72"/>
<circle cx="370.5" cy="491.7" r="0.72"/>
<circle cx="368.3" cy="497.1" r="0.72"/>
<circle cx="365.4" cy="483.5" r="0.72"/>
<circle cx="364.0" cy="482.9" r="0.72"/>
<circle cx="368.4" cy="494.6" r="0.72"/>
<circle cx="371.2" cy="505.3" r="0.72"/>
<circle cx="365.3" cy="496.5" r="0.72"/>
<circle cx="368.5" cy="497.1" r="0.72"/>
<circle cx="363.8" cy="496.7" r="0.72"/>
<circle cx="369.5" cy="508.0" r="0.72"/>
<circle cx="365.8" cy="506.1" r="0.72"/>
<circle cx="370.7" cy="486.2" r="0.72"/>
<circle cx="365.2" cy="481.4" r="0.72"/>
<circle cx="369.8" cy="512.4" r="0.72"/>
<circle cx="366.7" cy="493.2" r="0.72"/>
<circle cx="367.3" cy="511.8" r="0.72"/>
<circle cx="368.5" cy="500.7" r="0.72"/>
<circle cx="365.5" cy="474.4" r="0.72"/>
<circle cx="369.4" cy="508.9" r="0.72"/>
<circle cx="365.6" cy="507.3" r="0.72"/>
<circle cx="371.7" cy="496.5" r="0.72"/>
<circle cx="366.3" cy="498.7" r="0.72"/>
<circle cx="365.1" cy="495.9" r="0.72"/>
<circle cx="369.4" cy="497.2" r="0.72"/>
<circle cx="370.2" cy="498.7" r="0.72"/>
<circle cx="364.6" cy="503.4" r="0.72"/>
<circle cx="367.4" cy="492.6" r="0.72"/>
<circle cx="364.6" cy="479.0" r="0.72"/>
<circle cx="369.2" cy="490.0" r="0.72"/>
<circle cx="364.8" cy="497.8" r="0.72"/>
<circle cx="369.9" cy="492.9" r="0.72"/>
<circle cx="367.6" cy="495.9" r="0.72"/>
<circle cx="368.7" cy="491.3" r="0.72"/>
<circle cx="365.3" cy="496.8" r="0.72"/>
<circle cx="368.2" cy="496.1" r="0.72"/>
<circle cx="371.8" cy="480.4" r="0.72"/>
<circle cx="366.4" cy="494.2" r="0.72"/>
<circle cx="368.8" cy="501.5" r="0.72"/>
<circle cx="365.8" cy="490.2" r="0.72"/>
<circle cx="371.8" cy="491.2" r="0.72"/>
<circle cx="371.3" cy="497.4" r="0.72"/>
<circle cx="369.0" cy="496.6" r="0.72"/>
<circle cx="365.4" cy="482.4" r="0.72"/>
<circle cx="371.7" cy="498.3" r="0.72"/>
<circle cx="366.2" cy="509.4" r="0.72"/>
<circle cx="369.8" cy="495.8" r="0.72"/>
<circle cx="371.2" cy="492.5" r="0.72"/>
<circle cx="363.8" cy="491.7" r="0.72"/>
<circle cx="364.1" cy="509.1" r="0.72"/>
<circle cx="364.0" cy="496.7" r="0.72"/>
<circle cx="368.9" cy="494.8" r="0.72"/>
<circle cx="370.6" cy="502.5" r="0.72"/>
<circle cx="444.7" cy="477.8" r="0.72"/>
<circle cx="446.8" cy="341.2" r="0.72"/>
<circle cx="448.0" cy="423.4" r="0.72"/>
<circle cx="441.8" cy="402.2" r="0.72"/>
<circle cx="448.9" cy="394.3" r="0.72"/>
<circle cx="445.8" cy="358.7" r="0.72"/>
<circle cx="446.7" cy="361.1" r="0.72"/>
<circle cx="448.3" cy="386.6" r="0.72"/>
<circle cx="444.9" cy="339.7" r="0.72"/>
<circle cx="446.0" cy="349.7" r="0.72"/>
<circle cx="449.7" cy="430.7" r="0.72"/>
<circle cx="449.2" cy="373.7" r="0.72"/>
<circle cx="447.4" cy="336.7" r="0.72"/>
<circle cx="442.9" cy="425.3" r="0.72"/>
<circle cx="447.2" cy="319.7" r="0.72"/>
<circle cx="446.8" cy="377.6" r="0.72"/>
<circle cx="449.2" cy="406.0" r="0.72"/>
<circle cx="446.1" cy="364.8" r="0.72"/>
<circle cx="444.6" cy="357.6" r="0.72"/>
<circle cx="442.3" cy="389.8" r="0.72"/>
<circle cx="448.3" cy="307.5" r="0.72"/>
<circle cx="441.8" cy="405.8" r="0.72"/>
<circle cx="447.6" cy="410.6" r="0.72"/>
<circle cx="448.3" cy="384.6" r="0.72"/>
<circle cx="442.8" cy="376.8" r="0.72"/>
<circle cx="441.9" cy="460.3" r="0.72"/>
<circle cx="448.4" cy="329.2" r="0.72"/>
<circle cx="445.9" cy="351.4" r="0.72"/>
<circle cx="442.8" cy="386.7" r="0.72"/>
<circle cx="444.4" cy="314.7" r="0.72"/>
<circle cx="445.1" cy="393.0" r="0.72"/>
<circle cx="446.4" cy="384.7" r="0.72"/>
<circle cx="449.7" cy="462.9" r="0.72"/>
<circle cx="449.5" cy="380.1" r="0.72"/>
<circle cx="442.5" cy="481.2" r="0.72"/>
<circle cx="444.4" cy="394.3" r="0.72"/>
<circle cx="444.5" cy="421.9" r="0.72"/>
<circle cx="445.3" cy="380.1" r="0.72"/>
<circle cx="442.8" cy="395.4" r="0.72"/>
<circle cx="447.4" cy="346.8" r="0.72"/>
<circle cx="446.0" cy="395.1" r="0.72"/>
<circle cx="445.1" cy="390.4" r="0.72"/>
<circle cx="447.8" cy="429.0" r="0.72"/>
<circle cx="444.3" cy="417.9" r="0.72"/>
<circle cx="448.6" cy="471.2" r="0.72"/>
<circle cx="445.1" cy="398.4" r="0.72"/>
<circle cx="446.3" cy="444.3" r="0.72"/>
<circle cx="444.3" cy="378.1" r="0.72"/>
<circle cx="442.8" cy="385.9" r="0.72"/>
<circle cx="447.7" cy="332.9" r="0.72"/>
<circle cx="446.7" cy="374.9" r="0.72"/>
<circle cx="448.4" cy="376.6" r="0.72"/>
<circle cx="446.8" cy="331.9" r="0.72"/>
<circle cx="445.0" cy="387.0" r="0.72"/>
<circle cx="444.0" cy="342.5" r="0.72"/>
<circle cx="446.9" cy="346.0" r="0.72"/>
<circle cx="449.3" cy="329.1" r="0.72"/>
<circle cx="445.9" cy="379.4" r="0.72"/>
<circle cx="442.3" cy="366.3" r="0.72"/>
<circle cx="445.7" cy="409.8" r="0.72"/>
<circle cx="449.1" cy="346.5" r="0.72"/>
<circle cx="446.5" cy="442.8" r="0.72"/>
<circle cx="448.1" cy="420.0" r="0.72"/>
<circle cx="449.6" cy="395.3" r="0.72"/>
<circle cx="448.1" cy="393.3" r="0.72"/>
<circle cx="443.6" cy="380.6" r="0.72"/>
<circle cx="447.1" cy="380.3" r="0.72"/>
<circle cx="445.8" cy="388.9" r="0.72"/>
<circle cx="441.8" cy="388.4" r="0.72"/>
<circle cx="443.4" cy="396.5" r="0.72"/>
<circle cx="441.8" cy="354.6" r="0.72"/>
<circle cx="444.4" cy="396.2" r="0.72"/>
<circle cx="445.1" cy="364.1" r="0.72"/>
<circle cx="442.0" cy="416.0" r="0.72"/>
<circle cx="448.5" cy="366.7" r="0.72"/>
<circle cx="441.8" cy="397.7" r="0.72"/>
<circle cx="443.7" cy="439.0" r="0.72"/>
<circle cx="443.4" cy="358.0" r="0.72"/>
<circle cx="448.4" cy="419.2" r="0.72"/>
<circle cx="445.8" cy="378.3" r="0.72"/>
<circle cx="446.3" cy="406.8" r="0.72"/>
<circle cx="446.7" cy="368.0" r="0.72"/>
<circle cx="447.2" cy="370.4" r="0.72"/>
<circle cx="444.8" cy="431.4" r="0.72"/>
<circle cx="442.4" cy="433.0" r="0.72"/>
<circle cx="448.7" cy="317.3" r="0.72"/>
<circle cx="449.0" cy="386.6" r="0.72"/>
<circle cx="443.2" cy="332.6" r="0.72"/>
<circle cx="444.6" cy="362.4" r="0.72"/>
<circle cx="448.4" cy="369.7" r="0.72"/>
<circle cx="448.5" cy="317.7" r="0.72"/>
<circle cx="443.9" cy="460.6" r="0.72"/>
<circle cx="446.4" cy="329.8" r="0.72"/>
<circle cx="444.9" cy="407.4" r="0.72"/>
<circle cx="442.6" cy="419.2" r="0.72"/>
<circle cx="442.9" cy="386.9" r="0.72"/>
<circle cx="444.0" cy="417.9" r="0.72"/>
<circle cx="446.0" cy="429.2" r="0.72"/>
<circle cx="448.6" cy="436.6" r="0.72"/>
<circle cx="446.1" cy="394.0" r="0.72"/>
<circle cx="443.2" cy="420.7" r="0.72"/>
<circle cx="442.4" cy="393.2" r="0.72"/>
<circle cx="444.6" cy="371.5" r="0.72"/>
<circle cx="442.5" cy="349.5" r="0.72"/>
<circle cx="443.6" cy="431.1" r="0.72"/>
<circle cx="442.0" cy="434.0" r="0.72"/>
<circle cx="442.6" cy="420.1" r="0.72"/>
<circle cx="442.4" cy="442.1" r="0.72"/>
<circle cx="448.0" cy="415.4" r="0.72"/>
<circle cx="446.0" cy="391.1" r="0.72"/>
<circle cx="444.5" cy="340.3" r="0.72"/>
<circle cx="445.2" cy="355.9" r="0.72"/>
<circle cx="446.1" cy="407.1" r="0.72"/>
<circle cx="448.0" cy="330.1" r="0.72"/>
<circle cx="446.9" cy="453.6" r="0.72"/>
<circle cx="449.5" cy="409.1" r="0.72"/>
<circle cx="443.5" cy="326.9" r="0.72"/>
<circle cx="446.3" cy="406.3" r="0.72"/>
<circle cx="448.1" cy="420.3" r="0.72"/>
<circle cx="443.6" cy="383.5" r="0.72"/>
<circle cx="445.2" cy="405.5" r="0.72"/>
<circle cx="447.5" cy="437.5" r="0.72"/>
<circle cx="449.8" cy="412.7" r="0.72"/>
<circle cx="447.2" cy="384.6" r="0.72"/>
<circle cx="445.8" cy="423.0" r="0.72"/>
<circle cx="444.7" cy="353.2" r="0.72"/>
<circle cx="442.0" cy="409.7" r="0.72"/>
<circle cx="444.3" cy="440.9" r="0.72"/>
<circle cx="442.6" cy="385.1" r="0.72"/>
<circle cx="443.2" cy="409.0" r="0.72"/>
<circle cx="445.4" cy="392.8" r="0.72"/>
<circle cx="446.0" cy="420.5" r="0.72"/>
<circle cx="444.9" cy="355.4" r="0.72"/>
<circle cx="446.3" cy="389.2" r="0.72"/>
<circle cx="449.6" cy="388.6" r="0.72"/>
<circle cx="444.4" cy="401.4" r="0.72"/>
<circle cx="447.7" cy="357.3" r="0.72"/>
<circle cx="441.8" cy="462.8" r="0.72"/>
<circle cx="442.9" cy="391.3" r="0.72"/>
<circle cx="445.0" cy="383.8" r="0.72"/>
<circle cx="444.9" cy="356.9" r="0.72"/>
<circle cx="446.4" cy="351.7" r="0.72"/>
<circle cx="449.5" cy="403.2" r="0.72"/>
<circle cx="448.4" cy="426.8" r="0.72"/>
<circle cx="444.5" cy="434.6" r="0.72"/>
<circle cx="446.1" cy="371.5" r="0.72"/>
<circle cx="447.8" cy="406.8" r="0.72"/>
<circle cx="444.8" cy="401.4" r="0.72"/>
<circle cx="449.1" cy="413.9" r="0.72"/>
<circle cx="444.8" cy="418.9" r="0.72"/>
<circle cx="443.6" cy="407.4" r="0.72"/>
<circle cx="444.0" cy="309.5" r="0.72"/>
<circle cx="442.7" cy="385.0" r="0.72"/>
<circle cx="442.4" cy="376.6" r="0.72"/>
<circle cx="445.1" cy="324.2" r="0.72"/>
<circle cx="448.1" cy="381.2" r="0.72"/>
<circle cx="442.7" cy="453.7" r="0.72"/>
<circle cx="448.3" cy="365.0" r="0.72"/>
<circle cx="445.6" cy="417.4" r="0.72"/>
<circle cx="443.9" cy="358.5" r="0.72"/>
<circle cx="443.0" cy="422.0" r="0.72"/>
<circle cx="443.1" cy="406.7" r="0.72"/>
<circle cx="448.8" cy="394.1" r="0.72"/>
<circle cx="443.0" cy="462.9" r="0.72"/>
<circle cx="445.6" cy="428.7" r="0.72"/>
<circle cx="443.9" cy="412.4" r="0.72"/>
<circle cx="449.2" cy="390.6" r="0.72"/>
<circle cx="446.7" cy="402.0" r="0.72"/>
<circle cx="448.7" cy="439.6" r="0.72"/>
<circle cx="442.2" cy="342.1" r="0.72"/>
<circle cx="448.8" cy="409.2" r="0.72"/>
<circle cx="442.9" cy="379.0" r="0.72"/>
<circle cx="445.9" cy="368.5" r="0.72"/>
<circle cx="445.6" cy="431.4" r="0.72"/>
<circle cx="442.9" cy="415.5" r="0.72"/>
<circle cx="444.3" cy="403.9" r="0.72"/>
<circle cx="448.5" cy="441.1" r="0.72"/>
<circle cx="449.7" cy="309.2" r="0.72"/>
<circle cx="442.4" cy="426.9" r="0.72"/>
<circle cx="443.9" cy="426.5" r="0.72"/>
<circle cx="447.8" cy="365.8" r="0.72"/>
<circle cx="445.8" cy="376.0" r="0.72"/>
<circle cx="449.5" cy="406.2" r="0.72"/>
<circle cx="442.6" cy="360.4" r="0.72"/>
<circle cx="445.5" cy="421.5" r="0.72"/>
<circle cx="443.3" cy="461.4" r="0.72"/>
<circle cx="444.0" cy="401.8" r="0.72"/>
<circle cx="446.7" cy="388.2" r="0.72"/>
<circle cx="442.6" cy="395.0" r="0.72"/>
<circle cx="449.2" cy="394.3" r="0.72"/>
<circle cx="443.6" cy="434.7" r="0.72"/>
<circle cx="442.2" cy="373.4" r="0.72"/>
<circle cx="442.5" cy="413.6" r="0.72"/>
<circle cx="449.6" cy="358.6" r="0.72"/>
<circle cx="444.6" cy="375.9" r="0.72"/>
<circle cx="445.9" cy="396.5" r="0.72"/>
<circle cx="446.1" cy="404.3" r="0.72"/>
<circle cx="445.4" cy="350.7" r="0.72"/>
<circle cx="444.4" cy="363.5" r="0.72"/>
<circle cx="442.8" cy="364.2" r="0.72"/>
<circle cx="442.6" cy="445.9" r="0.72"/>
<circle cx="446.9" cy="364.3" r="0.72"/>
<circle cx="449.5" cy="384.1" r="0.72"/>
<circle cx="442.8" cy="314.7" r="0.72"/>
<circle cx="448.1" cy="409.4" r="0.72"/>
<circle cx="449.8" cy="390.9" r="0.72"/>
<circle cx="446.6" cy="437.7" r="0.72"/>
<circle cx="442.8" cy="373.5" r="0.72"/>
<circle cx="446.7" cy="375.2" r="0.72"/>
<circle cx="441.9" cy="448.3" r="0.72"/>
<circle cx="441.9" cy="447.7" r="0.72"/>
<circle cx="443.9" cy="363.2" r="0.72"/>
<circle cx="448.7" cy="399.5" r="0.72"/>
<circle cx="449.0" cy="339.3" r="0.72"/>
<circle cx="446.3" cy="348.0" r="0.72"/>
<circle cx="446.7" cy="397.6" r="0.72"/>
<circle cx="446.7" cy="397.0" r="0.72"/>
<circle cx="442.7" cy="387.9" r="0.72"/>
<circle cx="443.6" cy="440.3" r="0.72"/>
<circle cx="442.7" cy="403.3" r="0.72"/>
<circle cx="443.8" cy="407.2" r="0.72"/>
<circle cx="444.7" cy="379.7" r="0.72"/>
<circle cx="449.5" cy="440.7" r="0.72"/>
<circle cx="446.3" cy="419.2" r="0.72"/>
<circle cx="448.6" cy="408.2" r="0.72"/>
<circle cx="446.4" cy="422.2" r="0.72"/>
<circle cx="449.7" cy="362.5" r="0.72"/>
<circle cx="446.5" cy="410.0" r="0.72"/>
<circle cx="444.4" cy="413.0" r="0.72"/>
<circle cx="442.0" cy="454.2" r="0.72"/>
<circle cx="445.9" cy="383.7" r="0.72"/>
<circle cx="448.4" cy="414.8" r="0.72"/>
<circle cx="445.5" cy="343.9" r="0.72"/>
<circle cx="443.8" cy="416.1" r="0.72"/>
<circle cx="445.9" cy="417.5" r="0.72"/>
<circle cx="447.9" cy="421.1" r="0.72"/>
<circle cx="445.8" cy="399.9" r="0.72"/>
<circle cx="448.5" cy="412.5" r="0.72"/>
<circle cx="449.0" cy="369.9" r="0.72"/>
<circle cx="442.4" cy="366.0" r="0.72"/>
<circle cx="446.9" cy="405.4" r="0.72"/>
<circle cx="447.2" cy="315.3" r="0.72"/>
<circle cx="444.5" cy="382.0" r="0.72"/>
<circle cx="443.1" cy="448.7" r="0.72"/>
<circle cx="444.7" cy="372.2" r="0.72"/>
<circle cx="446.5" cy="380.3" r="0.72"/>
<circle cx="442.6" cy="450.9" r="0.72"/>
<circle cx="442.1" cy="388.0" r="0.72"/>
<circle cx="446.9" cy="363.8" r="0.72"/>
<circle cx="446.2" cy="472.7" r="0.72"/>
<circle cx="449.1" cy="432.9" r="0.72"/>
<circle cx="444.1" cy="439.9" r="0.72"/>
<circle cx="445.5" cy="384.9" r="0.72"/>
<circle cx="441.8" cy="351.1" r="0.72"/>
<circle cx="444.6" cy="411.6" r="0.72"/>
<circle cx="445.9" cy="376.1" r="0.72"/>
<circle cx="445.6" cy="340.6" r="0.72"/>
<circle cx="442.5" cy="332.6" r="0.72"/>
<circle cx="442.0" cy="423.2" r="0.72"/>
<circle cx="447.0" cy="410.2" r="0.72"/>
<circle cx="445.8" cy="443.7" r="0.72"/>
<circle cx="448.5" cy="351.0" r="0.72"/>
<circle cx="446.6" cy="384.5" r="0.72"/>
<circle cx="449.0" cy="374.3" r="0.72"/>
<circle cx="446.2" cy="388.7" r="0.72"/>
<circle cx="449.2" cy="361.8" r="0.72"/>
<circle cx="448.7" cy="339.7" r="0.72"/>
<circle cx="442.5" cy="437.0" r="0.72"/>
<circle cx="445.5" cy="449.5" r="0.72"/>
<circle cx="443.0" cy="380.7" r="0.72"/>
<circle cx="448.7" cy="427.0" r="0.72"/>
<circle cx="442.3" cy="395.7" r="0.72"/>
<circle cx="446.3" cy="398.9" r="0.72"/>
<circle cx="448.8" cy="340.4" r="0.72"/>
<circle cx="442.6" cy="409.6" r="0.72"/>
<circle cx="444.5" cy="416.0" r="0.72"/>
<circle cx="443.0" cy="405.6" r="0.72"/>
<circle cx="447.1" cy="405.9" r="0.72"/>
<circle cx="447.0" cy="391.6" r="0.72"/>
<circle cx="442.4" cy="337.0" r="0.72"/>
<circle cx="448.8" cy="431.4" r="0.72"/>
<circle cx="445.7" cy="481.2" r="0.72"/>
<circle cx="442.5" cy="418.4" r="0.72"/>
<circle cx="449.7" cy="401.1" r="0.72"/>
<circle cx="446.1" cy="417.1" r="0.72"/>
<circle cx="444.4" cy="355.7" r="0.72"/>
<circle cx="447.1" cy="420.2" r="0.72"/>
<circle cx="444.0" cy="405.1" r="0.72"/>
<circle cx="445.2" cy="435.7" r="0.72"/>
<circle cx="443.1" cy="400.5" r="0.72"/>
<circle cx="445.7" cy="421.4" r="0.72"/>
<circle cx="444.0" cy="402.2" r="0.72"/>
<circle cx="449.6" cy="406.3" r="0.72"/>
<circle cx="444.2" cy="401.5" r="0.72"/>
<circle cx="442.5" cy="325.0" r="0.72"/>
<circle cx="448.0" cy="471.6" r="0.72"/>
<circle cx="442.2" cy="387.3" r="0.72"/>
<circle cx="445.7" cy="409.8" r="0.72"/>
<circle cx="447.1" cy="445.6" r="0.72"/>
<circle cx="447.4" cy="418.6" r="0.72"/>
<circle cx="442.8" cy="397.7" r="0.72"/>
<circle cx="446.3" cy="422.0" r="0.72"/>
<circle cx="445.9" cy="320.6" r="0.72"/>
<circle cx="444.9" cy="405.5" r="0.72"/>
<circle cx="446.2" cy="437.7" r="0.72"/>
<circle cx="442.1" cy="357.0" r="0.72"/>
<circle cx="449.8" cy="389.1" r="0.72"/>
<circle cx="443.1" cy="344.9" r="0.72"/>
<circle cx="448.6" cy="425.0" r="0.72"/>
<circle cx="447.0" cy="408.7" r="0.72"/>
<circle cx="446.6" cy="322.5" r="0.72"/>
<circle cx="448.5" cy="396.0" r="0.72"/>
<circle cx="446.1" cy="424.6" r="0.72"/>
<circle cx="443.8" cy="391.0" r="0.72"/>
<circle cx="445.1" cy="467.8" r="0.72"/>
<circle cx="448.8" cy="404.3" r="0.72"/>
<circle cx="447.3" cy="382.0" r="0.72"/>
<circle cx="448.8" cy="442.5" r="0.72"/>
<circle cx="442.4" cy="391.1" r="0.72"/>
<circle cx="446.1" cy="431.1" r="0.72"/>
<circle cx="445.8" cy="346.2" r="0.72"/>
<circle cx="447.2" cy="395.9" r="0.72"/>
<circle cx="444.5" cy="365.6" r="0.72"/>
<circle cx="449.6" cy="313.5" r="0.72"/>
<circle cx="444.0" cy="426.1" r="0.72"/>
<circle cx="444.7" cy="412.4" r="0.72"/>
<circle cx="442.4" cy="396.0" r="0.72"/>
<circle cx="447.9" cy="395.4" r="0.72"/>
<circle cx="449.3" cy="414.6" r="0.72"/>
<circle cx="442.2" cy="369.7" r="0.72"/>
<circle cx="442.4" cy="349.4" r="0.72"/>
<circle cx="449.4" cy="456.9" r="0.72"/>
<circle cx="445.2" cy="417.5" r="0.72"/>
<circle cx="446.7" cy="424.7" r="0.72"/>
<circle cx="449.0" cy="470.6" r="0.72"/>
<circle cx="444.4" cy="407.4" r="0.72"/>
<circle cx="447.0" cy="324.0" r="0.72"/>
<circle cx="447.0" cy="390.5" r="0.72"/>
<circle cx="449.0" cy="380.0" r="0.72"/>
<circle cx="444.7" cy="387.1" r="0.72"/>
<circle cx="443.4" cy="375.8" r="0.72"/>
<circle cx="446.3" cy="403.4" r="0.72"/>
<circle cx="447.7" cy="404.7" r="0.72"/>
<circle cx="449.5" cy="356.7" r="0.72"/>
<circle cx="448.4" cy="337.1" r="0.72"/>
<circle cx="447.5" cy="369.5" r="0.72"/>
<circle cx="446.2" cy="484.6" r="0.72"/>
<circle cx="446.8" cy="361.2" r="0.72"/>
<circle cx="447.2" cy="456.5" r="0.72"/>
<circle cx="444.4" cy="378.3" r="0.72"/>
<circle cx="448.7" cy="361.2" r="0.72"/>
<circle cx="449.8" cy="387.8" r="0.72"/>
<circle cx="442.3" cy="425.6" r="0.72"/>
<circle cx="442.4" cy="360.9" r="0.72"/>
<circle cx="449.4" cy="380.7" r="0.72"/>
<circle cx="448.6" cy="418.4" r="0.72"/>
<circle cx="446.1" cy="363.2" r="0.72"/>
<circle cx="445.5" cy="422.6" r="0.72"/>
<circle cx="449.5" cy="424.6" r="0.72"/>
<circle cx="445.6" cy="402.4" r="0.72"/>
<circle cx="442.9" cy="345.5" r="0.72"/>
<circle cx="448.2" cy="365.1" r="0.72"/>
<circle cx="445.3" cy="356.0" r="0.72"/>
<circle cx="442.9" cy="305.9" r="0.72"/>
<circle cx="448.9" cy="359.9" r="0.72"/>
<circle cx="446.7" cy="512.6" r="0.72"/>
<circle cx="444.4" cy="511.8" r="0.72"/>
<circle cx="447.3" cy="509.6" r="0.72"/>
<circle cx="445.3" cy="509.5" r="0.72"/>
<circle cx="445.9" cy="509.8" r="0.72"/>
<circle cx="448.5" cy="510.8" r="0.72"/>
<circle cx="443.6" cy="511.5" r="0.72"/>
<circle cx="486.8" cy="422.3" r="0.72"/>
<circle cx="481.3" cy="399.8" r="0.72"/>
<circle cx="488.4" cy="405.1" r="0.72"/>
<circle cx="483.4" cy="421.0" r="0.72"/>
<circle cx="485.3" cy="418.9" r="0.72"/>
<circle cx="483.2" cy="379.3" r="0.72"/>
<circle cx="486.7" cy="407.9" r="0.72"/>
<circle cx="483.3" cy="422.8" r="0.72"/>
<circle cx="486.7" cy="434.9" r="0.72"/>
<circle cx="486.2" cy="379.7" r="0.72"/>
<circle cx="481.9" cy="403.6" r="0.72"/>
<circle cx="482.2" cy="384.3" r="0.72"/>
<circle cx="486.3" cy="382.1" r="0.72"/>
<circle cx="483.7" cy="372.8" r="0.72"/>
<circle cx="483.0" cy="372.0" r="0.72"/>
<circle cx="482.5" cy="404.2" r="0.72"/>
<circle cx="485.6" cy="362.8" r="0.72"/>
<circle cx="483.0" cy="355.4" r="0.72"/>
<circle cx="484.4" cy="373.6" r="0.72"/>
<circle cx="485.9" cy="441.0" r="0.72"/>
<circle cx="481.7" cy="411.5" r="0.72"/>
<circle cx="483.9" cy="422.7" r="0.72"/>
<circle cx="486.1" cy="363.4" r="0.72"/>
<circle cx="481.7" cy="401.4" r="0.72"/>
<circle cx="484.0" cy="380.9" r="0.72"/>
<circle cx="483.0" cy="420.2" r="0.72"/>
<circle cx="482.7" cy="364.8" r="0.72"/>
<circle cx="485.1" cy="359.4" r="0.72"/>
<circle cx="488.6" cy="358.0" r="0.72"/>
<circle cx="488.6" cy="332.8" r="0.72"/>
<circle cx="487.7" cy="407.1" r="0.72"/>
<circle cx="488.8" cy="374.6" r="0.72"/>
<circle cx="488.0" cy="387.2" r="0.72"/>
<circle cx="484.5" cy="427.8" r="0.72"/>
<circle cx="484.4" cy="423.6" r="0.72"/>
<circle cx="483.2" cy="367.5" r="0.72"/>
<circle cx="482.0" cy="360.9" r="0.72"/>
<circle cx="488.0" cy="363.8" r="0.72"/>
<circle cx="483.4" cy="424.6" r="0.72"/>
<circle cx="487.6" cy="415.8" r="0.72"/>
<circle cx="482.7" cy="403.3" r="0.72"/>
<circle cx="483.6" cy="417.7" r="0.72"/>
<circle cx="481.6" cy="427.1" r="0.72"/>
<circle cx="487.5" cy="434.3" r="0.72"/>
<circle cx="482.6" cy="386.6" r="0.72"/>
<circle cx="487.4" cy="379.9" r="0.72"/>
<circle cx="482.9" cy="367.1" r="0.72"/>
<circle cx="481.7" cy="395.8" r="0.72"/>
<circle cx="486.7" cy="396.5" r="0.72"/>
<circle cx="484.8" cy="407.5" r="0.72"/>
<circle cx="488.5" cy="389.2" r="0.72"/>
<circle cx="484.4" cy="426.0" r="0.72"/>
<circle cx="485.0" cy="366.4" r="0.72"/>
<circle cx="485.6" cy="332.4" r="0.72"/>
<circle cx="483.8" cy="373.6" r="0.72"/>
<circle cx="488.5" cy="394.6" r="0.72"/>
<circle cx="487.7" cy="371.5" r="0.72"/>
<circle cx="485.4" cy="425.7" r="0.72"/>
<circle cx="482.6" cy="362.6" r="0.72"/>
<circle cx="482.3" cy="343.9" r="0.72"/>
<circle cx="485.5" cy="379.8" r="0.72"/>
<circle cx="482.3" cy="383.5" r="0.72"/>
<circle cx="486.2" cy="388.9" r="0.72"/>
<circle cx="481.1" cy="413.5" r="0.72"/>
<circle cx="488.7" cy="427.4" r="0.72"/>
<circle cx="481.3" cy="385.5" r="0.72"/>
<circle cx="482.7" cy="372.9" r="0.72"/>
<circle cx="484.2" cy="425.6" r="0.72"/>
<circle cx="482.8" cy="355.9" r="0.72"/>
<circle cx="486.6" cy="372.3" r="0.72"/>
<circle cx="485.9" cy="369.3" r="0.72"/>
<circle cx="486.7" cy="350.7" r="0.72"/>
<circle cx="486.5" cy="366.7" r="0.72"/>
<circle cx="484.2" cy="399.0" r="0.72"/>
<circle cx="487.1" cy="347.5" r="0.72"/>
<circle cx="485.8" cy="432.1" r="0.72"/>
<circle cx="488.8" cy="395.3" r="0.72"/>
<circle cx="488.6" cy="327.2" r="0.72"/>
<circle cx="486.4" cy="425.6" r="0.72"/>
<circle cx="487.7" cy="344.3" r="0.72"/>
<circle cx="484.2" cy="379.4" r="0.72"/>
<circle cx="487.4" cy="428.0" r="0.72"/>
<circle cx="488.0" cy="415.4" r="0.72"/>
<circle cx="481.3" cy="427.5" r="0.72"/>
<circle cx="481.8" cy="357.6" r="0.72"/>
<circle cx="487.7" cy="386.8" r="0.72"/>
<circle cx="482.8" cy="339.2" r="0.72"/>
<circle cx="482.1" cy="358.4" r="0.72"/>
<circle cx="484.3" cy="388.5" r="0.72"/>
<circle cx="485.8" cy="445.0" r="0.72"/>
<circle cx="485.1" cy="418.9" r="0.72"/>
<circle cx="484.3" cy="429.3" r="0.72"/>
<circle cx="486.5" cy="399.6" r="0.72"/>
<circle cx="488.4" cy="355.9" r="0.72"/>
<circle cx="487.1" cy="361.2" r="0.72"/>
<circle cx="481.8" cy="422.7" r="0.72"/>
<circle cx="481.7" cy="398.7" r="0.72"/>
<circle cx="487.9" cy="408.1" r="0.72"/>
<circle cx="487.5" cy="370.1" r="0.72"/>
<circle cx="484.8" cy="346.0" r="0.72"/>
<circle cx="483.7" cy="377.9" r="0.72"/>
<circle cx="485.1" cy="407.9" r="0.72"/>
<circle cx="483.4" cy="395.4" r="0.72"/>
<circle cx="487.9" cy="429.4" r="0.72"/>
<circle cx="482.8" cy="419.5" r="0.72"/>
<circle cx="484.9" cy="370.8" r="0.72"/>
<circle cx="486.3" cy="399.0" r="0.72"/>
<circle cx="484.9" cy="423.2" r="0.72"/>
<circle cx="483.3" cy="384.0" r="0.72"/>
<circle cx="482.7" cy="416.0" r="0.72"/>
<circle cx="482.2" cy="371.6" r="0.72"/>
<circle cx="487.8" cy="381.9" r="0.72"/>
<circle cx="483.2" cy="400.2" r="0.72"/>
<circle cx="485.1" cy="390.7" r="0.72"/>
<circle cx="488.2" cy="378.3" r="0.72"/>
<circle cx="484.6" cy="367.7" r="0.72"/>
<circle cx="481.9" cy="385.4" r="0.72"/>
<circle cx="485.2" cy="351.1" r="0.72"/>
<circle cx="485.4" cy="399.0" r="0.72"/>
<circle cx="483.5" cy="402.2" r="0.72"/>
<circle cx="488.3" cy="391.2" r="0.72"/>
<circle cx="485.9" cy="440.5" r="0.72"/>
<circle cx="486.6" cy="382.0" r="0.72"/>
<circle cx="487.5" cy="372.8" r="0.72"/>
<circle cx="483.3" cy="362.0" r="0.72"/>
<circle cx="484.7" cy="378.1" r="0.72"/>
<circle cx="487.0" cy="364.0" r="0.72"/>
<circle cx="487.1" cy="423.5" r="0.72"/>
<circle cx="484.0" cy="398.4" r="0.72"/>
<circle cx="484.8" cy="350.4" r="0.72"/>
<circle cx="482.3" cy="443.2" r="0.72"/>
<circle cx="487.7" cy="399.9" r="0.72"/>
<circle cx="487.8" cy="376.3" r="0.72"/>
<circle cx="488.9" cy="368.5" r="0.72"/>
<circle cx="481.3" cy="450.4" r="0.72"/>
<circle cx="488.6" cy="337.1" r="0.72"/>
<circle cx="487.1" cy="387.2" r="0.72"/>
<circle cx="482.3" cy="382.2" r="0.72"/>
<circle cx="482.0" cy="389.5" r="0.72"/>
<circle cx="483.9" cy="393.9" r="0.72"/>
<circle cx="483.8" cy="361.6" r="0.72"/>
<circle cx="486.9" cy="373.2" r="0.72"/>
<circle cx="487.7" cy="386.2" r="0.72"/>
<circle cx="488.2" cy="359.1" r="0.72"/>
<circle cx="485.5" cy="333.3" r="0.72"/>
<circle cx="483.6" cy="411.7" r="0.72"/>
<circle cx="482.8" cy="393.3" r="0.72"/>
<circle cx="483.6" cy="376.4" r="0.72"/>
<circle cx="487.1" cy="352.3" r="0.72"/>
<circle cx="481.7" cy="451.5" r="0.72"/>
<circle cx="487.8" cy="420.2" r="0.72"/>
<circle cx="482.9" cy="441.6" r="0.72"/>
<circle cx="486.6" cy="392.0" r="0.72"/>
<circle cx="485.7" cy="438.5" r="0.72"/>
<circle cx="482.1" cy="364.0" r="0.72"/>
<circle cx="481.1" cy="408.8" r="0.72"/>
<circle cx="486.1" cy="344.1" r="0.72"/>
<circle cx="483.6" cy="445.6" r="0.72"/>
<circle cx="484.8" cy="406.0" r="0.72"/>
<circle cx="481.6" cy="450.2" r="0.72"/>
</g>
<text x="94.6" y="542.7" font-size="14.3" font-weight="bold" textLength="34.7" lengthAdjust="spacingAndGlyphs" stroke="#000" stroke-width="0.35" >BRCA</text>
<text x="206.8" y="542.7" font-size="14.3" font-weight="bold" textLength="35.2" lengthAdjust="spacingAndGlyphs" stroke="#000" stroke-width="0.35" >CHOL</text>
<text x="333.7" y="542.7" font-size="14.3" font-weight="bold" textLength="31.3" lengthAdjust="spacingAndGlyphs" stroke="#000" stroke-width="0.35" >GBM</text>
<text x="457.6" y="542.7" font-size="14.3" font-weight="bold" textLength="27.8" lengthAdjust="spacingAndGlyphs" stroke="#000" stroke-width="0.35" >LICH</text>
</svg>
</body></html>
